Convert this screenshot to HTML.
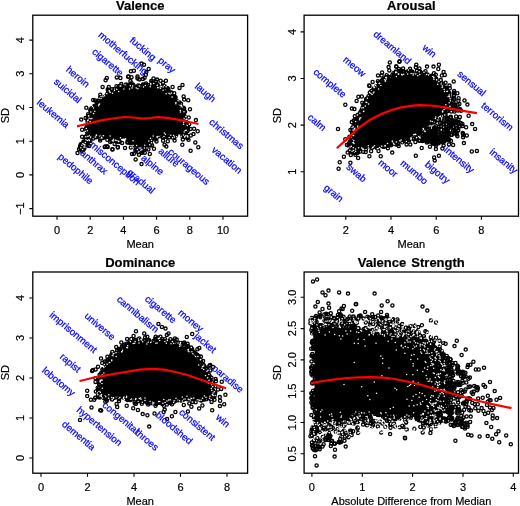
<!DOCTYPE html><html><head><meta charset="utf-8"><style>html,body{margin:0;padding:0;background:#fff;width:520px;height:506px;overflow:hidden;position:relative}</style></head><body><svg width="520" height="506" viewBox="0 0 520 506" style="position:absolute;left:0;top:0">
<rect width="520" height="506" fill="#fff"/>
<path d="M82.1 146.9 L85 146.5 L87 139.9 L88.1 133.1 L88.5 126.6 L89.6 120.1 L91.6 112.8 L94.2 108.8 L97.9 103.5 L102.3 99.2 L106.5 95.4 L110.4 92.9 L115.9 90.8 L121.5 88.5 L126.6 87.3 L130.6 87.4 L137.2 88 L144.1 86.6 L149.2 85.1 L153.6 85.6 L159.3 87.3 L163.8 87.9 L168.2 93.2 L173.1 99.3 L177.7 103.9 L180.4 107.5 L181.5 109.3 L183.5 114.4 L184.6 119.5 L185.1 124.9 L185.1 130.6 L185.1 135.8 L185.9 135.9 L184.7 135.2 L178.7 134.6 L172.8 135.2 L166.9 134.6 L159.5 135.4 L152.4 138.6 L146.9 145 L144 148 L141.2 149.9 L139.2 149.8 L137.6 149 L135 146.3 L130.5 140.7 L124.1 138.5 L117.7 139.5 L113.3 139 L107.7 136.6 L100.1 134.7 L91.6 136.5 L85.3 141.5 L81.4 144.5 Z" fill="#000"/>
<g fill="none" stroke="#000" stroke-width="1.3">
<circle cx="83.4" cy="149.8" r="1.6"/><circle cx="84.3" cy="148.4" r="1.6"/><circle cx="83.2" cy="148.5" r="1.6"/><circle cx="81.7" cy="150.5" r="1.6"/><circle cx="81.9" cy="150.7" r="1.6"/><circle cx="79.1" cy="149.2" r="1.6"/><circle cx="83.5" cy="143" r="1.6"/><circle cx="85" cy="145.4" r="1.6"/><circle cx="83.5" cy="141.6" r="1.6"/><circle cx="85.3" cy="142.5" r="1.6"/><circle cx="87.2" cy="140.4" r="1.6"/><circle cx="86.1" cy="140.9" r="1.6"/><circle cx="81.3" cy="144.1" r="1.6"/><circle cx="85" cy="137.3" r="1.6"/><circle cx="85.7" cy="138.3" r="1.6"/><circle cx="86.9" cy="135.5" r="1.6"/><circle cx="87.9" cy="136.2" r="1.6"/><circle cx="86.9" cy="139.3" r="1.6"/><circle cx="86.7" cy="135.2" r="1.6"/><circle cx="82.1" cy="136.8" r="1.6"/><circle cx="87.7" cy="129.9" r="1.6"/><circle cx="86.5" cy="127.6" r="1.6"/><circle cx="86.7" cy="131.2" r="1.6"/><circle cx="85.7" cy="129.3" r="1.6"/><circle cx="87.9" cy="128.1" r="1.6"/><circle cx="88.6" cy="126.6" r="1.6"/><circle cx="82.1" cy="129.8" r="1.6"/><circle cx="87.4" cy="125.6" r="1.6"/><circle cx="86.7" cy="126.3" r="1.6"/><circle cx="87.8" cy="121.3" r="1.6"/><circle cx="88.9" cy="120.7" r="1.6"/><circle cx="87.7" cy="121.8" r="1.6"/><circle cx="88" cy="122.6" r="1.6"/><circle cx="81.2" cy="119.6" r="1.6"/><circle cx="88.8" cy="116" r="1.6"/><circle cx="87.8" cy="119.3" r="1.6"/><circle cx="88.1" cy="114.3" r="1.6"/><circle cx="90.9" cy="113.6" r="1.6"/><circle cx="88.6" cy="116.7" r="1.6"/><circle cx="88.5" cy="119.9" r="1.6"/><circle cx="90" cy="119" r="1.6"/><circle cx="87.5" cy="119.3" r="1.6"/><circle cx="85.6" cy="118.1" r="1.6"/><circle cx="90.3" cy="110.2" r="1.6"/><circle cx="90.7" cy="112.4" r="1.6"/><circle cx="90.7" cy="109.4" r="1.6"/><circle cx="91.6" cy="108.2" r="1.6"/><circle cx="91.4" cy="111.6" r="1.6"/><circle cx="86.3" cy="107.8" r="1.6"/><circle cx="97.9" cy="103.4" r="1.6"/><circle cx="94.6" cy="107.7" r="1.6"/><circle cx="94.1" cy="106.9" r="1.6"/><circle cx="96.1" cy="105.3" r="1.6"/><circle cx="93.4" cy="108.3" r="1.6"/><circle cx="94.4" cy="105.9" r="1.6"/><circle cx="93.2" cy="100.1" r="1.6"/><circle cx="98.9" cy="100.2" r="1.6"/><circle cx="101" cy="100.9" r="1.6"/><circle cx="100.3" cy="98" r="1.6"/><circle cx="100.1" cy="98.1" r="1.6"/><circle cx="98.9" cy="101.3" r="1.6"/><circle cx="96.9" cy="102" r="1.6"/><circle cx="95.1" cy="100.5" r="1.6"/><circle cx="103.1" cy="98.4" r="1.6"/><circle cx="104" cy="98.1" r="1.6"/><circle cx="102.2" cy="99.3" r="1.6"/><circle cx="102.1" cy="98.3" r="1.6"/><circle cx="100.6" cy="97.3" r="1.6"/><circle cx="105" cy="96.7" r="1.6"/><circle cx="100.3" cy="94.8" r="1.6"/><circle cx="107.9" cy="94.6" r="1.6"/><circle cx="108.5" cy="90.6" r="1.6"/><circle cx="107.7" cy="93.2" r="1.6"/><circle cx="106.7" cy="95.4" r="1.6"/><circle cx="107.6" cy="94.2" r="1.6"/><circle cx="107.7" cy="89.6" r="1.6"/><circle cx="109.1" cy="90.4" r="1.6"/><circle cx="113.1" cy="91.9" r="1.6"/><circle cx="113.3" cy="92.2" r="1.6"/><circle cx="112.1" cy="89.2" r="1.6"/><circle cx="114.4" cy="89.3" r="1.6"/><circle cx="111.3" cy="91.8" r="1.6"/><circle cx="108.8" cy="86.9" r="1.6"/><circle cx="118.2" cy="87.5" r="1.6"/><circle cx="117.8" cy="89.8" r="1.6"/><circle cx="119.6" cy="86.1" r="1.6"/><circle cx="120" cy="86.6" r="1.6"/><circle cx="119.9" cy="86.9" r="1.6"/><circle cx="116.8" cy="89" r="1.6"/><circle cx="116.5" cy="86.2" r="1.6"/><circle cx="121.3" cy="88.1" r="1.6"/><circle cx="122.3" cy="86.4" r="1.6"/><circle cx="126.6" cy="86.2" r="1.6"/><circle cx="126" cy="84.4" r="1.6"/><circle cx="126.7" cy="86.5" r="1.6"/><circle cx="122.4" cy="88" r="1.6"/><circle cx="121.3" cy="84.1" r="1.6"/><circle cx="129" cy="84.7" r="1.6"/><circle cx="130" cy="86.2" r="1.6"/><circle cx="129.2" cy="85.1" r="1.6"/><circle cx="126.5" cy="85.5" r="1.6"/><circle cx="130.4" cy="81.1" r="1.6"/><circle cx="135.2" cy="86.7" r="1.6"/><circle cx="131.7" cy="85.2" r="1.6"/><circle cx="132.7" cy="85.3" r="1.6"/><circle cx="136.5" cy="87.1" r="1.6"/><circle cx="133.2" cy="84.8" r="1.6"/><circle cx="134.9" cy="87.7" r="1.6"/><circle cx="131.6" cy="83.2" r="1.6"/><circle cx="142.9" cy="84.5" r="1.6"/><circle cx="138.2" cy="85.4" r="1.6"/><circle cx="143.5" cy="84.9" r="1.6"/><circle cx="139.6" cy="86.1" r="1.6"/><circle cx="138.7" cy="88.2" r="1.6"/><circle cx="143.4" cy="85" r="1.6"/><circle cx="139.4" cy="79.4" r="1.6"/><circle cx="146" cy="83.4" r="1.6"/><circle cx="148.9" cy="85" r="1.6"/><circle cx="145.6" cy="85.7" r="1.6"/><circle cx="145.2" cy="84.7" r="1.6"/><circle cx="145.5" cy="85.2" r="1.6"/><circle cx="142.9" cy="79.1" r="1.6"/><circle cx="150.5" cy="84.2" r="1.6"/><circle cx="151.9" cy="82.8" r="1.6"/><circle cx="151" cy="82.6" r="1.6"/><circle cx="151.3" cy="84" r="1.6"/><circle cx="151.2" cy="85.8" r="1.6"/><circle cx="151.3" cy="81" r="1.6"/><circle cx="153.9" cy="83.3" r="1.6"/><circle cx="154.6" cy="84.7" r="1.6"/><circle cx="157.9" cy="85.3" r="1.6"/><circle cx="155.5" cy="84.8" r="1.6"/><circle cx="157.1" cy="84.3" r="1.6"/><circle cx="154.3" cy="84.3" r="1.6"/><circle cx="155.9" cy="81.6" r="1.6"/><circle cx="164" cy="86.8" r="1.6"/><circle cx="163" cy="85.8" r="1.6"/><circle cx="164.7" cy="87.2" r="1.6"/><circle cx="163.1" cy="86.7" r="1.6"/><circle cx="162.7" cy="85.9" r="1.6"/><circle cx="163" cy="82.7" r="1.6"/><circle cx="167.5" cy="88.2" r="1.6"/><circle cx="168.5" cy="89.7" r="1.6"/><circle cx="168.3" cy="92.6" r="1.6"/><circle cx="167.9" cy="88.7" r="1.6"/><circle cx="167.4" cy="92.3" r="1.6"/><circle cx="164.2" cy="87.1" r="1.6"/><circle cx="163.4" cy="87.3" r="1.6"/><circle cx="164.6" cy="86.3" r="1.6"/><circle cx="172.6" cy="87" r="1.6"/><circle cx="170.4" cy="92.7" r="1.6"/><circle cx="171.3" cy="97.1" r="1.6"/><circle cx="174.6" cy="96.6" r="1.6"/><circle cx="171.4" cy="92.6" r="1.6"/><circle cx="171" cy="94.7" r="1.6"/><circle cx="174.8" cy="97.5" r="1.6"/><circle cx="169.7" cy="93.4" r="1.6"/><circle cx="174.2" cy="93.3" r="1.6"/><circle cx="174.6" cy="99.9" r="1.6"/><circle cx="176.3" cy="103.1" r="1.6"/><circle cx="176.6" cy="101.3" r="1.6"/><circle cx="173.8" cy="99" r="1.6"/><circle cx="177.1" cy="101.4" r="1.6"/><circle cx="175.6" cy="97.6" r="1.6"/><circle cx="183.6" cy="96.5" r="1.6"/><circle cx="178.2" cy="103.8" r="1.6"/><circle cx="179.5" cy="102.5" r="1.6"/><circle cx="178.3" cy="104.8" r="1.6"/><circle cx="181" cy="103.8" r="1.6"/><circle cx="180.3" cy="106.7" r="1.6"/><circle cx="184.2" cy="99.6" r="1.6"/><circle cx="182.7" cy="107.6" r="1.6"/><circle cx="180.2" cy="107.7" r="1.6"/><circle cx="183.9" cy="112.6" r="1.6"/><circle cx="184.1" cy="108.4" r="1.6"/><circle cx="185" cy="111.8" r="1.6"/><circle cx="183.9" cy="108.6" r="1.6"/><circle cx="183.8" cy="108.5" r="1.6"/><circle cx="183" cy="111.4" r="1.6"/><circle cx="190" cy="109.2" r="1.6"/><circle cx="183.7" cy="115.6" r="1.6"/><circle cx="184.4" cy="117" r="1.6"/><circle cx="183.6" cy="114.6" r="1.6"/><circle cx="183.7" cy="114.3" r="1.6"/><circle cx="184.4" cy="115.7" r="1.6"/><circle cx="188.7" cy="117.5" r="1.6"/><circle cx="185" cy="122.2" r="1.6"/><circle cx="184.3" cy="121.4" r="1.6"/><circle cx="184.2" cy="120.8" r="1.6"/><circle cx="186.4" cy="123.4" r="1.6"/><circle cx="185.8" cy="120.3" r="1.6"/><circle cx="189.2" cy="124.3" r="1.6"/><circle cx="186.1" cy="129.5" r="1.6"/><circle cx="187.5" cy="127.6" r="1.6"/><circle cx="186.4" cy="127" r="1.6"/><circle cx="188" cy="128.7" r="1.6"/><circle cx="187.5" cy="126.7" r="1.6"/><circle cx="190.6" cy="128.9" r="1.6"/><circle cx="185.8" cy="132.9" r="1.6"/><circle cx="185.1" cy="130.9" r="1.6"/><circle cx="187.2" cy="131" r="1.6"/><circle cx="185.2" cy="132.1" r="1.6"/><circle cx="187.5" cy="131.1" r="1.6"/><circle cx="190.8" cy="135.5" r="1.6"/><circle cx="185.4" cy="136.1" r="1.6"/><circle cx="186.1" cy="136.3" r="1.6"/><circle cx="186.2" cy="136" r="1.6"/><circle cx="187.4" cy="137.9" r="1.6"/><circle cx="184.5" cy="136.6" r="1.6"/><circle cx="187.4" cy="137.9" r="1.6"/><circle cx="187" cy="135.8" r="1.6"/><circle cx="188.5" cy="139.7" r="1.6"/><circle cx="182.1" cy="136.2" r="1.6"/><circle cx="183.7" cy="136.4" r="1.6"/><circle cx="184.9" cy="135.6" r="1.6"/><circle cx="184.4" cy="136.1" r="1.6"/><circle cx="184.8" cy="134.8" r="1.6"/><circle cx="182.8" cy="139.4" r="1.6"/><circle cx="175" cy="136.3" r="1.6"/><circle cx="174" cy="136.9" r="1.6"/><circle cx="174.3" cy="137.6" r="1.6"/><circle cx="176.1" cy="135.5" r="1.6"/><circle cx="172.5" cy="135.2" r="1.6"/><circle cx="174.6" cy="140.6" r="1.6"/><circle cx="172.7" cy="137.6" r="1.6"/><circle cx="167.8" cy="136.4" r="1.6"/><circle cx="168.6" cy="137.1" r="1.6"/><circle cx="172.2" cy="136.5" r="1.6"/><circle cx="170" cy="137.3" r="1.6"/><circle cx="167.8" cy="141.3" r="1.6"/><circle cx="163" cy="137.6" r="1.6"/><circle cx="162.3" cy="137" r="1.6"/><circle cx="165" cy="134.4" r="1.6"/><circle cx="165.7" cy="135.5" r="1.6"/><circle cx="166.1" cy="137.1" r="1.6"/><circle cx="163.1" cy="136.7" r="1.6"/><circle cx="163.1" cy="140.7" r="1.6"/><circle cx="155.9" cy="136.4" r="1.6"/><circle cx="155.2" cy="139.6" r="1.6"/><circle cx="156.6" cy="138.1" r="1.6"/><circle cx="155" cy="137" r="1.6"/><circle cx="154.8" cy="137.8" r="1.6"/><circle cx="158.6" cy="136.2" r="1.6"/><circle cx="156.5" cy="141.4" r="1.6"/><circle cx="150.3" cy="145.5" r="1.6"/><circle cx="149.9" cy="142.7" r="1.6"/><circle cx="150.8" cy="143.3" r="1.6"/><circle cx="149.2" cy="144.8" r="1.6"/><circle cx="148.4" cy="142.9" r="1.6"/><circle cx="151.3" cy="140.4" r="1.6"/><circle cx="148.5" cy="144" r="1.6"/><circle cx="152" cy="145.2" r="1.6"/><circle cx="147.2" cy="145.4" r="1.6"/><circle cx="146.1" cy="148.5" r="1.6"/><circle cx="145.1" cy="147.6" r="1.6"/><circle cx="146.1" cy="147.4" r="1.6"/><circle cx="148.4" cy="149.4" r="1.6"/><circle cx="140.7" cy="150.3" r="1.6"/><circle cx="141.7" cy="152.7" r="1.6"/><circle cx="144.9" cy="148.7" r="1.6"/><circle cx="142.5" cy="152.3" r="1.6"/><circle cx="144.8" cy="152.7" r="1.6"/><circle cx="141.4" cy="152.6" r="1.6"/><circle cx="141.4" cy="151.3" r="1.6"/><circle cx="141.7" cy="151.1" r="1.6"/><circle cx="138.4" cy="149.7" r="1.6"/><circle cx="139" cy="154.8" r="1.6"/><circle cx="136.5" cy="150.6" r="1.6"/><circle cx="138.1" cy="152.2" r="1.6"/><circle cx="138.7" cy="149.1" r="1.6"/><circle cx="137.2" cy="150.3" r="1.6"/><circle cx="136.2" cy="148.3" r="1.6"/><circle cx="137.1" cy="149.5" r="1.6"/><circle cx="135.3" cy="150.1" r="1.6"/><circle cx="133.8" cy="153.7" r="1.6"/><circle cx="132" cy="142.3" r="1.6"/><circle cx="130.1" cy="143.1" r="1.6"/><circle cx="131.3" cy="142.4" r="1.6"/><circle cx="133" cy="145.2" r="1.6"/><circle cx="130.1" cy="142.5" r="1.6"/><circle cx="133" cy="145.3" r="1.6"/><circle cx="130.8" cy="147.6" r="1.6"/><circle cx="128.2" cy="142.3" r="1.6"/><circle cx="127.3" cy="142.4" r="1.6"/><circle cx="128.2" cy="140.2" r="1.6"/><circle cx="127.2" cy="139.6" r="1.6"/><circle cx="125" cy="147.9" r="1.6"/><circle cx="118.2" cy="141.7" r="1.6"/><circle cx="119.8" cy="141.8" r="1.6"/><circle cx="117.7" cy="140.9" r="1.6"/><circle cx="118.8" cy="139" r="1.6"/><circle cx="118.9" cy="140.4" r="1.6"/><circle cx="118.9" cy="141" r="1.6"/><circle cx="122.1" cy="142.9" r="1.6"/><circle cx="113.2" cy="138.9" r="1.6"/><circle cx="115.6" cy="139.9" r="1.6"/><circle cx="116.4" cy="141.4" r="1.6"/><circle cx="112.8" cy="139.3" r="1.6"/><circle cx="114.6" cy="139.7" r="1.6"/><circle cx="114.6" cy="143.9" r="1.6"/><circle cx="112.8" cy="138.8" r="1.6"/><circle cx="111.6" cy="141.1" r="1.6"/><circle cx="110.8" cy="138.2" r="1.6"/><circle cx="107.3" cy="139.7" r="1.6"/><circle cx="111.2" cy="138" r="1.6"/><circle cx="112.8" cy="138.5" r="1.6"/><circle cx="110.2" cy="142.1" r="1.6"/><circle cx="105.8" cy="136.5" r="1.6"/><circle cx="103.1" cy="138.1" r="1.6"/><circle cx="102.4" cy="136.2" r="1.6"/><circle cx="104.4" cy="137.1" r="1.6"/><circle cx="104.8" cy="136.5" r="1.6"/><circle cx="106.9" cy="136.9" r="1.6"/><circle cx="100.2" cy="138.9" r="1.6"/><circle cx="96.2" cy="137.2" r="1.6"/><circle cx="93.5" cy="136.3" r="1.6"/><circle cx="97.5" cy="135.5" r="1.6"/><circle cx="96.7" cy="136.4" r="1.6"/><circle cx="93.3" cy="138.6" r="1.6"/><circle cx="93.3" cy="135.6" r="1.6"/><circle cx="100.2" cy="140.6" r="1.6"/><circle cx="86.6" cy="141.9" r="1.6"/><circle cx="87.3" cy="139.3" r="1.6"/><circle cx="90.4" cy="140.9" r="1.6"/><circle cx="87.8" cy="142.7" r="1.6"/><circle cx="85.7" cy="141.7" r="1.6"/><circle cx="90.3" cy="137.5" r="1.6"/><circle cx="89.1" cy="140.8" r="1.6"/><circle cx="89.3" cy="145.9" r="1.6"/><circle cx="83.8" cy="145.4" r="1.6"/><circle cx="84.2" cy="144.2" r="1.6"/><circle cx="86.5" cy="143.4" r="1.6"/><circle cx="86" cy="144.4" r="1.6"/><circle cx="82.8" cy="144.1" r="1.6"/><circle cx="87.5" cy="145.4" r="1.6"/><circle cx="80" cy="147.1" r="1.6"/><circle cx="81.4" cy="144.2" r="1.6"/><circle cx="80.3" cy="146.5" r="1.6"/><circle cx="80.5" cy="145.1" r="1.6"/><circle cx="80.8" cy="149" r="1.6"/><circle cx="102.6" cy="86.9" r="1.6"/><circle cx="105.6" cy="80.3" r="1.6"/><circle cx="106.8" cy="78" r="1.6"/><circle cx="116.8" cy="77.4" r="1.6"/><circle cx="120.4" cy="78" r="1.6"/><circle cx="128.1" cy="76.8" r="1.6"/><circle cx="128.6" cy="76.6" r="1.6"/><circle cx="131.5" cy="77.2" r="1.6"/><circle cx="133.9" cy="70.7" r="1.6"/><circle cx="130.9" cy="71.3" r="1.6"/><circle cx="137.5" cy="76.6" r="1.6"/><circle cx="137.5" cy="78.4" r="1.6"/><circle cx="141.6" cy="63.6" r="1.6"/><circle cx="144" cy="64.7" r="1.6"/><circle cx="148.7" cy="68.9" r="1.6"/><circle cx="146.3" cy="71.9" r="1.6"/><circle cx="145.8" cy="74.8" r="1.6"/><circle cx="144.6" cy="77.8" r="1.6"/><circle cx="179.5" cy="87.9" r="1.6"/><circle cx="182.5" cy="84.9" r="1.6"/><circle cx="153.5" cy="78.4" r="1.6"/><circle cx="157" cy="79.6" r="1.6"/><circle cx="160.6" cy="80.8" r="1.6"/><circle cx="165.9" cy="80.8" r="1.6"/><circle cx="188.2" cy="100.3" r="1.6"/><circle cx="195.9" cy="120.1" r="1.6"/><circle cx="194.1" cy="128.8" r="1.6"/><circle cx="197.7" cy="131.2" r="1.6"/><circle cx="193.5" cy="134.1" r="1.6"/><circle cx="190.6" cy="150.7" r="1.6"/><circle cx="195.3" cy="142.4" r="1.6"/><circle cx="198.3" cy="147.2" r="1.6"/><circle cx="182.3" cy="144.8" r="1.6"/><circle cx="164.5" cy="144.8" r="1.6"/><circle cx="166.3" cy="146.6" r="1.6"/><circle cx="112.5" cy="149.3" r="1.6"/><circle cx="117.8" cy="147.5" r="1.6"/><circle cx="135.6" cy="159.4" r="1.6"/><circle cx="141.5" cy="164.1" r="1.6"/><circle cx="132" cy="154" r="1.6"/><circle cx="149.8" cy="154" r="1.6"/><circle cx="154" cy="148.7" r="1.6"/><circle cx="104.7" cy="146.9" r="1.6"/><circle cx="107.1" cy="146.3" r="1.6"/><circle cx="77.5" cy="153" r="1.6"/><circle cx="112.4" cy="149.4" r="1.6"/><circle cx="105.3" cy="146.4" r="1.6"/><circle cx="107.7" cy="147" r="1.6"/><circle cx="117.8" cy="147" r="1.6"/>
</g>
<g fill="#fff">
<circle cx="82.7" cy="149.6" r="0.75"/><circle cx="85" cy="147" r="0.75"/><circle cx="84" cy="147" r="0.75"/><circle cx="83.8" cy="144.3" r="0.75"/><circle cx="87.3" cy="140.6" r="0.75"/><circle cx="82.9" cy="143.5" r="0.75"/><circle cx="87.9" cy="136.6" r="0.75"/><circle cx="85.8" cy="136.7" r="0.75"/><circle cx="89.3" cy="135.7" r="0.75"/><circle cx="85.3" cy="131.3" r="0.75"/><circle cx="87.3" cy="130.7" r="0.75"/><circle cx="86.4" cy="128.4" r="0.75"/><circle cx="90.1" cy="121.4" r="0.75"/><circle cx="87.1" cy="123" r="0.75"/><circle cx="88.1" cy="119.9" r="0.75"/><circle cx="87.6" cy="120.8" r="0.75"/><circle cx="90.8" cy="118.8" r="0.75"/><circle cx="91.9" cy="118.5" r="0.75"/><circle cx="88.7" cy="115.8" r="0.75"/><circle cx="89.1" cy="118.3" r="0.75"/><circle cx="94.8" cy="111.2" r="0.75"/><circle cx="90.9" cy="112.1" r="0.75"/><circle cx="93.6" cy="113.4" r="0.75"/><circle cx="92.5" cy="106.5" r="0.75"/><circle cx="93.5" cy="108" r="0.75"/><circle cx="98.9" cy="104.5" r="0.75"/><circle cx="98.7" cy="105.8" r="0.75"/><circle cx="101.1" cy="98.5" r="0.75"/><circle cx="99.7" cy="104.1" r="0.75"/><circle cx="99.1" cy="98.3" r="0.75"/><circle cx="104.5" cy="95.7" r="0.75"/><circle cx="103" cy="96.7" r="0.75"/><circle cx="101" cy="96.4" r="0.75"/><circle cx="106.8" cy="93.7" r="0.75"/><circle cx="109.2" cy="90.8" r="0.75"/><circle cx="109.5" cy="91.2" r="0.75"/><circle cx="112.5" cy="93.3" r="0.75"/><circle cx="114.5" cy="90.4" r="0.75"/><circle cx="110.1" cy="92.4" r="0.75"/><circle cx="118.7" cy="91.4" r="0.75"/><circle cx="116.6" cy="89.3" r="0.75"/><circle cx="120.1" cy="86" r="0.75"/><circle cx="123.9" cy="89.1" r="0.75"/><circle cx="125.1" cy="84.8" r="0.75"/><circle cx="120.8" cy="86" r="0.75"/><circle cx="130.4" cy="85.7" r="0.75"/><circle cx="129.5" cy="88.9" r="0.75"/><circle cx="132.7" cy="86" r="0.75"/><circle cx="136.3" cy="88" r="0.75"/><circle cx="132" cy="88.1" r="0.75"/><circle cx="139.4" cy="85.9" r="0.75"/><circle cx="137.9" cy="88.7" r="0.75"/><circle cx="143.5" cy="86.9" r="0.75"/><circle cx="148.8" cy="82.3" r="0.75"/><circle cx="145.4" cy="85.6" r="0.75"/><circle cx="150.2" cy="86.7" r="0.75"/><circle cx="150.7" cy="83.6" r="0.75"/><circle cx="150.8" cy="84.8" r="0.75"/><circle cx="153.7" cy="83.5" r="0.75"/><circle cx="157.8" cy="87.5" r="0.75"/><circle cx="157.9" cy="87.7" r="0.75"/><circle cx="157.2" cy="85.2" r="0.75"/><circle cx="161.5" cy="86.5" r="0.75"/><circle cx="164.3" cy="85.5" r="0.75"/><circle cx="160.4" cy="88.2" r="0.75"/><circle cx="166.1" cy="86.8" r="0.75"/><circle cx="163.1" cy="87.1" r="0.75"/><circle cx="163.1" cy="90.3" r="0.75"/><circle cx="166.2" cy="93.8" r="0.75"/><circle cx="171.4" cy="93.1" r="0.75"/><circle cx="169" cy="93.3" r="0.75"/><circle cx="172.2" cy="96.9" r="0.75"/><circle cx="170" cy="93.9" r="0.75"/><circle cx="175.9" cy="102.6" r="0.75"/><circle cx="175.9" cy="103.8" r="0.75"/><circle cx="178.1" cy="100.8" r="0.75"/><circle cx="181.3" cy="106.1" r="0.75"/><circle cx="180.1" cy="105.3" r="0.75"/><circle cx="181.4" cy="105.4" r="0.75"/><circle cx="182.1" cy="107" r="0.75"/><circle cx="180.4" cy="110.5" r="0.75"/><circle cx="184" cy="111.8" r="0.75"/><circle cx="180.4" cy="112.1" r="0.75"/><circle cx="185.8" cy="116.5" r="0.75"/><circle cx="184.1" cy="118.7" r="0.75"/><circle cx="187" cy="119.2" r="0.75"/><circle cx="183.7" cy="122.2" r="0.75"/><circle cx="183.5" cy="124.3" r="0.75"/><circle cx="186.1" cy="119.4" r="0.75"/><circle cx="187.2" cy="125.4" r="0.75"/><circle cx="185.2" cy="130.4" r="0.75"/><circle cx="186.2" cy="130.2" r="0.75"/><circle cx="185.9" cy="135.5" r="0.75"/><circle cx="184.2" cy="132.1" r="0.75"/><circle cx="187.6" cy="136" r="0.75"/><circle cx="184.7" cy="136.9" r="0.75"/><circle cx="187.4" cy="136.2" r="0.75"/><circle cx="187.8" cy="137" r="0.75"/><circle cx="183.5" cy="135.1" r="0.75"/><circle cx="181" cy="136.8" r="0.75"/><circle cx="184.8" cy="136.6" r="0.75"/><circle cx="174.5" cy="137.1" r="0.75"/><circle cx="176.7" cy="136.8" r="0.75"/><circle cx="173.6" cy="135.4" r="0.75"/><circle cx="172.6" cy="137.7" r="0.75"/><circle cx="170.8" cy="135.2" r="0.75"/><circle cx="169.2" cy="137.4" r="0.75"/><circle cx="165.4" cy="134.3" r="0.75"/><circle cx="164" cy="136.5" r="0.75"/><circle cx="164.4" cy="133.1" r="0.75"/><circle cx="157.2" cy="136.5" r="0.75"/><circle cx="157.2" cy="137.3" r="0.75"/><circle cx="153.1" cy="136" r="0.75"/><circle cx="151.5" cy="142.7" r="0.75"/><circle cx="149.7" cy="144.8" r="0.75"/><circle cx="150.5" cy="138.3" r="0.75"/><circle cx="148.8" cy="141" r="0.75"/><circle cx="144.7" cy="145.3" r="0.75"/><circle cx="147" cy="148" r="0.75"/><circle cx="144.4" cy="148" r="0.75"/><circle cx="140.8" cy="148.1" r="0.75"/><circle cx="141.9" cy="149.6" r="0.75"/><circle cx="140.8" cy="150.2" r="0.75"/><circle cx="138.9" cy="151.4" r="0.75"/><circle cx="139.2" cy="147.9" r="0.75"/><circle cx="137.4" cy="149.5" r="0.75"/><circle cx="136.7" cy="145.5" r="0.75"/><circle cx="132.5" cy="147" r="0.75"/><circle cx="133.1" cy="140.7" r="0.75"/><circle cx="131.1" cy="145.8" r="0.75"/><circle cx="125.1" cy="139.8" r="0.75"/><circle cx="125.6" cy="138.8" r="0.75"/><circle cx="118.5" cy="141.5" r="0.75"/><circle cx="118.7" cy="141.2" r="0.75"/><circle cx="120.5" cy="137.7" r="0.75"/><circle cx="113.4" cy="141.1" r="0.75"/><circle cx="116.9" cy="140.4" r="0.75"/><circle cx="115.3" cy="140.3" r="0.75"/><circle cx="112.4" cy="140.5" r="0.75"/><circle cx="110.1" cy="136" r="0.75"/><circle cx="113.5" cy="139.2" r="0.75"/><circle cx="101.9" cy="138" r="0.75"/><circle cx="101.5" cy="137.4" r="0.75"/><circle cx="103.5" cy="135.7" r="0.75"/><circle cx="95.3" cy="137.1" r="0.75"/><circle cx="96.4" cy="135.5" r="0.75"/><circle cx="96.3" cy="135.1" r="0.75"/><circle cx="88.9" cy="139.7" r="0.75"/><circle cx="90.7" cy="137.1" r="0.75"/><circle cx="89.3" cy="140.6" r="0.75"/><circle cx="86" cy="139.7" r="0.75"/><circle cx="84.6" cy="144.7" r="0.75"/><circle cx="84.8" cy="145" r="0.75"/><circle cx="85.3" cy="142.6" r="0.75"/><circle cx="81.9" cy="145.2" r="0.75"/><circle cx="80.8" cy="147.7" r="0.75"/>
</g>
<polyline points="77,126.4 88,123.5 100,120.6 112,118.5 125,117 133,117.5 142.5,118.6 150,118 157.5,117.1 165,117.6 175,119.2 187,121.5 198.5,124" fill="none" stroke="#f00" stroke-width="2.2" stroke-linejoin="round"/>
<g font-family='"Liberation Sans", Arial, sans-serif' font-size="9.7" fill="#00f" stroke="#00f" stroke-width="0.25" text-anchor="middle">
<text transform="translate(123,53.4) rotate(40)" dy="0.3em">motherfucking</text>
<text transform="translate(142.7,49) rotate(40)" dy="0.3em">fucking</text>
<text transform="translate(166.7,65.4) rotate(40)" dy="0.3em">pray</text>
<text transform="translate(107.6,62.5) rotate(40)" dy="0.3em">cigarette</text>
<text transform="translate(77.6,77) rotate(40)" dy="0.3em">heroin</text>
<text transform="translate(67.5,91) rotate(40)" dy="0.3em">suicidal</text>
<text transform="translate(53,113.8) rotate(40)" dy="0.3em">leukemia</text>
<text transform="translate(205.3,92.8) rotate(40)" dy="0.3em">laugh</text>
<text transform="translate(226.2,134.1) rotate(40)" dy="0.3em">christmas</text>
<text transform="translate(226.8,160.3) rotate(40)" dy="0.3em">vacation</text>
<text transform="translate(188.8,166.9) rotate(40)" dy="0.3em">courageous</text>
<text transform="translate(168.8,157.7) rotate(40)" dy="0.3em">allure</text>
<text transform="translate(152.3,165) rotate(40)" dy="0.3em">alpine</text>
<text transform="translate(141,181.4) rotate(40)" dy="0.3em">gradual</text>
<text transform="translate(114.8,163.5) rotate(40)" dy="0.3em">misconception</text>
<text transform="translate(93.8,162.2) rotate(40)" dy="0.3em">anthrax</text>
<text transform="translate(75.5,169) rotate(40)" dy="0.3em">pedophile</text>
</g>
<rect x="32.8" y="15.2" width="214.8" height="201.0" fill="none" stroke="#000" stroke-width="1.3"/>
<path d="M57 216.2v3.5 M90.2 216.2v3.5 M123.4 216.2v3.5 M156.6 216.2v3.5 M189.8 216.2v3.5 M223 216.2v3.5 M32.8 208.6h-3.5 M32.8 174.9h-3.5 M32.8 141.2h-3.5 M32.8 107.5h-3.5 M32.8 73.8h-3.5 M32.8 40.1h-3.5" stroke="#000" stroke-width="1.1" fill="none"/>
<g font-family='"Liberation Sans", Arial, sans-serif' font-size="11" fill="#000" stroke="#000" stroke-width="0.2" text-anchor="middle">
<text x="57" y="234.2">0</text>
<text x="90.2" y="234.2">2</text>
<text x="123.4" y="234.2">4</text>
<text x="156.6" y="234.2">6</text>
<text x="189.8" y="234.2">8</text>
<text x="223" y="234.2">10</text>
<text transform="translate(24.299999999999997,208.6) rotate(-90)">&#8722;1</text>
<text transform="translate(24.299999999999997,174.9) rotate(-90)">0</text>
<text transform="translate(24.299999999999997,141.2) rotate(-90)">1</text>
<text transform="translate(24.299999999999997,107.5) rotate(-90)">2</text>
<text transform="translate(24.299999999999997,73.8) rotate(-90)">3</text>
<text transform="translate(24.299999999999997,40.1) rotate(-90)">4</text>
<text transform="translate(9.199999999999996,115.69999999999999) rotate(-90)">SD</text>
<text x="140.2" y="248.0">Mean</text>
<text x="140.2" y="9.7" font-weight="bold" font-size="13" word-spacing="1.5">Valence</text>
</g>
<path d="M350.9 147.4 L351.1 145.6 L353.2 141.4 L354.6 134.5 L355.2 128.9 L356.8 123.7 L359 118.1 L361.2 113.6 L363.1 110.5 L365 107.7 L368 100.3 L371.8 93.9 L375.9 88.7 L382.5 83.3 L387 80 L392.7 76.6 L397.3 73.5 L401.4 73.3 L406.9 72.7 L412.2 73.3 L417.9 73.8 L422.8 74.8 L428.7 77.7 L432.7 78.6 L436.5 82 L441 86 L444.3 89.3 L446.6 92 L447.6 95.9 L448 102.6 L446.9 107.9 L443.9 112.3 L438.5 116.8 L432.5 121.8 L426.5 126.8 L420.4 131.9 L416.2 135.9 L411.2 136.7 L405.3 139.1 L399.3 140.3 L393.5 142.7 L387.4 143.7 L381.3 144.9 L376.5 146 L370.1 144.8 L362.6 147.6 L357 149.9 L354.6 150.7 L352.7 149.7 Z" fill="#000"/>
<g fill="none" stroke="#000" stroke-width="1.3">
<circle cx="351.4" cy="146.2" r="1.6"/><circle cx="348.9" cy="145.8" r="1.6"/><circle cx="351.5" cy="146.7" r="1.6"/><circle cx="350.3" cy="146.7" r="1.6"/><circle cx="346.9" cy="144.9" r="1.6"/><circle cx="350" cy="141.2" r="1.6"/><circle cx="350.3" cy="142" r="1.6"/><circle cx="348.6" cy="144.3" r="1.6"/><circle cx="349.3" cy="142.9" r="1.6"/><circle cx="352.8" cy="142.2" r="1.6"/><circle cx="345.3" cy="139.3" r="1.6"/><circle cx="352.7" cy="140.3" r="1.6"/><circle cx="354.2" cy="136.2" r="1.6"/><circle cx="354" cy="135.3" r="1.6"/><circle cx="354.4" cy="135.9" r="1.6"/><circle cx="351.3" cy="137.2" r="1.6"/><circle cx="353.2" cy="139.5" r="1.6"/><circle cx="349.5" cy="136.8" r="1.6"/><circle cx="354.5" cy="134.1" r="1.6"/><circle cx="352" cy="133.1" r="1.6"/><circle cx="352.4" cy="130.1" r="1.6"/><circle cx="352.5" cy="133.1" r="1.6"/><circle cx="353.4" cy="133.5" r="1.6"/><circle cx="350.4" cy="130.1" r="1.6"/><circle cx="355.2" cy="123.9" r="1.6"/><circle cx="353.6" cy="125.2" r="1.6"/><circle cx="352.4" cy="127.8" r="1.6"/><circle cx="355.4" cy="125.4" r="1.6"/><circle cx="356.1" cy="124.6" r="1.6"/><circle cx="351.8" cy="122.1" r="1.6"/><circle cx="355.6" cy="121" r="1.6"/><circle cx="357.7" cy="121.2" r="1.6"/><circle cx="358.8" cy="119.6" r="1.6"/><circle cx="358.3" cy="118.9" r="1.6"/><circle cx="355.5" cy="119" r="1.6"/><circle cx="356.4" cy="119.8" r="1.6"/><circle cx="353.7" cy="120.6" r="1.6"/><circle cx="359" cy="118.1" r="1.6"/><circle cx="359.5" cy="114.9" r="1.6"/><circle cx="357.8" cy="114.7" r="1.6"/><circle cx="359" cy="117.5" r="1.6"/><circle cx="360.9" cy="115.3" r="1.6"/><circle cx="354.8" cy="116.2" r="1.6"/><circle cx="360.7" cy="113" r="1.6"/><circle cx="360.3" cy="112.2" r="1.6"/><circle cx="362.2" cy="111.7" r="1.6"/><circle cx="361.4" cy="111.1" r="1.6"/><circle cx="354.4" cy="109.1" r="1.6"/><circle cx="363.4" cy="110" r="1.6"/><circle cx="361.8" cy="109.4" r="1.6"/><circle cx="362.7" cy="107.2" r="1.6"/><circle cx="366" cy="104.2" r="1.6"/><circle cx="363.6" cy="106.6" r="1.6"/><circle cx="366.2" cy="103" r="1.6"/><circle cx="366.1" cy="102.2" r="1.6"/><circle cx="366.1" cy="99.7" r="1.6"/><circle cx="363.5" cy="104.5" r="1.6"/><circle cx="364.1" cy="106.5" r="1.6"/><circle cx="362.3" cy="102.7" r="1.6"/><circle cx="366.2" cy="99.1" r="1.6"/><circle cx="366.7" cy="99.8" r="1.6"/><circle cx="371.7" cy="94.1" r="1.6"/><circle cx="367.3" cy="98.4" r="1.6"/><circle cx="368.5" cy="96.2" r="1.6"/><circle cx="371.1" cy="94.9" r="1.6"/><circle cx="368.7" cy="98.2" r="1.6"/><circle cx="361.8" cy="96.5" r="1.6"/><circle cx="373.6" cy="88.4" r="1.6"/><circle cx="369.8" cy="92.6" r="1.6"/><circle cx="374.2" cy="89.2" r="1.6"/><circle cx="374.2" cy="89.2" r="1.6"/><circle cx="372.8" cy="92.9" r="1.6"/><circle cx="373" cy="93" r="1.6"/><circle cx="371.5" cy="90.9" r="1.6"/><circle cx="369.5" cy="85.9" r="1.6"/><circle cx="380.3" cy="84.6" r="1.6"/><circle cx="378.8" cy="85" r="1.6"/><circle cx="380.3" cy="83.5" r="1.6"/><circle cx="376.4" cy="86.2" r="1.6"/><circle cx="382.2" cy="83.3" r="1.6"/><circle cx="382" cy="84.3" r="1.6"/><circle cx="377.2" cy="87.3" r="1.6"/><circle cx="379" cy="82.6" r="1.6"/><circle cx="377.9" cy="81.2" r="1.6"/><circle cx="386.2" cy="79.7" r="1.6"/><circle cx="381.9" cy="80.4" r="1.6"/><circle cx="384.2" cy="79.6" r="1.6"/><circle cx="383.8" cy="78.7" r="1.6"/><circle cx="383.2" cy="79.8" r="1.6"/><circle cx="381.6" cy="75.4" r="1.6"/><circle cx="388.3" cy="76.8" r="1.6"/><circle cx="389.8" cy="77.6" r="1.6"/><circle cx="387.2" cy="77.9" r="1.6"/><circle cx="385.9" cy="77.5" r="1.6"/><circle cx="387.8" cy="79.9" r="1.6"/><circle cx="386" cy="77.4" r="1.6"/><circle cx="386.6" cy="75.3" r="1.6"/><circle cx="393.1" cy="76.7" r="1.6"/><circle cx="395.6" cy="72.7" r="1.6"/><circle cx="395.4" cy="72.4" r="1.6"/><circle cx="392.3" cy="75" r="1.6"/><circle cx="393.4" cy="73.3" r="1.6"/><circle cx="395.8" cy="71.5" r="1.6"/><circle cx="389.3" cy="70.4" r="1.6"/><circle cx="400.7" cy="70.5" r="1.6"/><circle cx="396.8" cy="73.4" r="1.6"/><circle cx="396.9" cy="74" r="1.6"/><circle cx="400.4" cy="71" r="1.6"/><circle cx="399.3" cy="71.1" r="1.6"/><circle cx="399.1" cy="68.9" r="1.6"/><circle cx="402" cy="73.4" r="1.6"/><circle cx="405.9" cy="72.6" r="1.6"/><circle cx="403.2" cy="72.1" r="1.6"/><circle cx="401.5" cy="72.9" r="1.6"/><circle cx="402.9" cy="71.1" r="1.6"/><circle cx="403.1" cy="68.5" r="1.6"/><circle cx="412.2" cy="72" r="1.6"/><circle cx="411.6" cy="71.5" r="1.6"/><circle cx="406.8" cy="71.8" r="1.6"/><circle cx="409.2" cy="70.7" r="1.6"/><circle cx="408.7" cy="70.9" r="1.6"/><circle cx="410" cy="68.7" r="1.6"/><circle cx="417.2" cy="74" r="1.6"/><circle cx="417" cy="73.7" r="1.6"/><circle cx="412.3" cy="73.1" r="1.6"/><circle cx="417" cy="70.8" r="1.6"/><circle cx="412.4" cy="72.1" r="1.6"/><circle cx="415.8" cy="67.2" r="1.6"/><circle cx="419" cy="72.8" r="1.6"/><circle cx="420.1" cy="71.8" r="1.6"/><circle cx="419.7" cy="71.4" r="1.6"/><circle cx="419.3" cy="73.9" r="1.6"/><circle cx="421.9" cy="73.4" r="1.6"/><circle cx="419.4" cy="68.5" r="1.6"/><circle cx="423.8" cy="72.8" r="1.6"/><circle cx="427.5" cy="74.6" r="1.6"/><circle cx="426.4" cy="75.8" r="1.6"/><circle cx="425.2" cy="75" r="1.6"/><circle cx="427.6" cy="77.4" r="1.6"/><circle cx="427.5" cy="77.6" r="1.6"/><circle cx="425.5" cy="71.2" r="1.6"/><circle cx="433.5" cy="77.6" r="1.6"/><circle cx="431.5" cy="75.7" r="1.6"/><circle cx="430.4" cy="77" r="1.6"/><circle cx="432" cy="76.3" r="1.6"/><circle cx="433.9" cy="73.2" r="1.6"/><circle cx="433.9" cy="78.9" r="1.6"/><circle cx="434.3" cy="76.8" r="1.6"/><circle cx="436.3" cy="79.1" r="1.6"/><circle cx="433.4" cy="77.9" r="1.6"/><circle cx="436.4" cy="80" r="1.6"/><circle cx="435.8" cy="74.8" r="1.6"/><circle cx="440.8" cy="85.4" r="1.6"/><circle cx="437.7" cy="82.4" r="1.6"/><circle cx="441.4" cy="83.1" r="1.6"/><circle cx="437.2" cy="82.6" r="1.6"/><circle cx="438.1" cy="82.6" r="1.6"/><circle cx="439" cy="84.1" r="1.6"/><circle cx="440.8" cy="80.1" r="1.6"/><circle cx="445.8" cy="87.9" r="1.6"/><circle cx="443.3" cy="84.3" r="1.6"/><circle cx="441.9" cy="85.7" r="1.6"/><circle cx="446" cy="87.8" r="1.6"/><circle cx="444.2" cy="87.8" r="1.6"/><circle cx="445.5" cy="82.7" r="1.6"/><circle cx="444.6" cy="89.3" r="1.6"/><circle cx="445" cy="90.7" r="1.6"/><circle cx="447.1" cy="89.1" r="1.6"/><circle cx="447.1" cy="90.8" r="1.6"/><circle cx="449.8" cy="88.3" r="1.6"/><circle cx="448" cy="91.5" r="1.6"/><circle cx="448.9" cy="92.7" r="1.6"/><circle cx="448.5" cy="95.6" r="1.6"/><circle cx="449.1" cy="93.6" r="1.6"/><circle cx="447.2" cy="93.3" r="1.6"/><circle cx="454.2" cy="93" r="1.6"/><circle cx="449.8" cy="101.3" r="1.6"/><circle cx="449.8" cy="101.9" r="1.6"/><circle cx="448.9" cy="100.3" r="1.6"/><circle cx="449.4" cy="97.8" r="1.6"/><circle cx="448.5" cy="96.2" r="1.6"/><circle cx="449.9" cy="101.4" r="1.6"/><circle cx="448.2" cy="100.3" r="1.6"/><circle cx="452.6" cy="98.4" r="1.6"/><circle cx="448.1" cy="106.3" r="1.6"/><circle cx="449.9" cy="107" r="1.6"/><circle cx="449.6" cy="103.6" r="1.6"/><circle cx="447.9" cy="107.3" r="1.6"/><circle cx="450.3" cy="105.9" r="1.6"/><circle cx="449.4" cy="102.6" r="1.6"/><circle cx="454" cy="104.4" r="1.6"/><circle cx="444.9" cy="113.2" r="1.6"/><circle cx="448.2" cy="108.6" r="1.6"/><circle cx="446.9" cy="111.3" r="1.6"/><circle cx="446.8" cy="111" r="1.6"/><circle cx="445.3" cy="112.6" r="1.6"/><circle cx="448.1" cy="111" r="1.6"/><circle cx="451.3" cy="111.6" r="1.6"/><circle cx="443.4" cy="115.5" r="1.6"/><circle cx="445.5" cy="114.8" r="1.6"/><circle cx="442.1" cy="113.4" r="1.6"/><circle cx="443.3" cy="113.9" r="1.6"/><circle cx="444.9" cy="112.7" r="1.6"/><circle cx="443.1" cy="115.5" r="1.6"/><circle cx="442.5" cy="114" r="1.6"/><circle cx="446.9" cy="117.6" r="1.6"/><circle cx="433.7" cy="122.5" r="1.6"/><circle cx="438.6" cy="119.6" r="1.6"/><circle cx="436.3" cy="118.9" r="1.6"/><circle cx="439.1" cy="119.1" r="1.6"/><circle cx="434.7" cy="122.1" r="1.6"/><circle cx="436.6" cy="120.2" r="1.6"/><circle cx="439" cy="120.1" r="1.6"/><circle cx="439.9" cy="122.8" r="1.6"/><circle cx="429.1" cy="127.7" r="1.6"/><circle cx="430" cy="124.5" r="1.6"/><circle cx="429.1" cy="124.5" r="1.6"/><circle cx="428" cy="126.5" r="1.6"/><circle cx="427.7" cy="126.4" r="1.6"/><circle cx="430.5" cy="124" r="1.6"/><circle cx="430" cy="124" r="1.6"/><circle cx="436.3" cy="126.3" r="1.6"/><circle cx="425" cy="128.5" r="1.6"/><circle cx="425.4" cy="129.2" r="1.6"/><circle cx="425" cy="130.3" r="1.6"/><circle cx="423" cy="130.7" r="1.6"/><circle cx="422.5" cy="133.4" r="1.6"/><circle cx="427.7" cy="128.9" r="1.6"/><circle cx="422.5" cy="133" r="1.6"/><circle cx="429.9" cy="132.6" r="1.6"/><circle cx="416.8" cy="134.5" r="1.6"/><circle cx="422.2" cy="134.1" r="1.6"/><circle cx="417.3" cy="135.2" r="1.6"/><circle cx="419.8" cy="132.4" r="1.6"/><circle cx="420.6" cy="134.6" r="1.6"/><circle cx="418.6" cy="133.5" r="1.6"/><circle cx="420.1" cy="140.8" r="1.6"/><circle cx="416.8" cy="138.3" r="1.6"/><circle cx="414.2" cy="138.4" r="1.6"/><circle cx="414" cy="138.9" r="1.6"/><circle cx="413.3" cy="138.8" r="1.6"/><circle cx="416.5" cy="137.6" r="1.6"/><circle cx="415.4" cy="142" r="1.6"/><circle cx="409.2" cy="140.3" r="1.6"/><circle cx="407.7" cy="138.6" r="1.6"/><circle cx="409.5" cy="137.4" r="1.6"/><circle cx="407.8" cy="137.8" r="1.6"/><circle cx="408.1" cy="138" r="1.6"/><circle cx="408.4" cy="139.2" r="1.6"/><circle cx="410.3" cy="144.6" r="1.6"/><circle cx="406.1" cy="141.4" r="1.6"/><circle cx="403.2" cy="141" r="1.6"/><circle cx="402.2" cy="142.2" r="1.6"/><circle cx="403.6" cy="140.4" r="1.6"/><circle cx="399.9" cy="140" r="1.6"/><circle cx="402.2" cy="141.5" r="1.6"/><circle cx="406.6" cy="144.4" r="1.6"/><circle cx="396" cy="144.6" r="1.6"/><circle cx="398.1" cy="144" r="1.6"/><circle cx="396.4" cy="142.8" r="1.6"/><circle cx="393.5" cy="142.3" r="1.6"/><circle cx="395.4" cy="143.7" r="1.6"/><circle cx="397.9" cy="143.6" r="1.6"/><circle cx="398.7" cy="145.9" r="1.6"/><circle cx="390.9" cy="145.3" r="1.6"/><circle cx="392.7" cy="143.8" r="1.6"/><circle cx="391.4" cy="144.5" r="1.6"/><circle cx="388.7" cy="144" r="1.6"/><circle cx="388.7" cy="144.4" r="1.6"/><circle cx="390.8" cy="143.6" r="1.6"/><circle cx="392.2" cy="152.6" r="1.6"/><circle cx="383.8" cy="146.7" r="1.6"/><circle cx="385.5" cy="144.7" r="1.6"/><circle cx="385.8" cy="145.6" r="1.6"/><circle cx="384" cy="146.7" r="1.6"/><circle cx="387.5" cy="145.7" r="1.6"/><circle cx="382.3" cy="146.2" r="1.6"/><circle cx="387.9" cy="148.2" r="1.6"/><circle cx="381.3" cy="145.1" r="1.6"/><circle cx="376.5" cy="147.6" r="1.6"/><circle cx="378.1" cy="147.9" r="1.6"/><circle cx="376.5" cy="147.6" r="1.6"/><circle cx="378.2" cy="147.3" r="1.6"/><circle cx="378.5" cy="151" r="1.6"/><circle cx="373.1" cy="145.5" r="1.6"/><circle cx="373" cy="146.4" r="1.6"/><circle cx="372.7" cy="145" r="1.6"/><circle cx="376.3" cy="145.5" r="1.6"/><circle cx="372.1" cy="147.8" r="1.6"/><circle cx="373.2" cy="146.1" r="1.6"/><circle cx="371.1" cy="151.3" r="1.6"/><circle cx="365.5" cy="146.9" r="1.6"/><circle cx="367.4" cy="146.7" r="1.6"/><circle cx="367.3" cy="146.8" r="1.6"/><circle cx="365.9" cy="149.3" r="1.6"/><circle cx="369.2" cy="146.6" r="1.6"/><circle cx="368.7" cy="145.1" r="1.6"/><circle cx="365.7" cy="152" r="1.6"/><circle cx="357.6" cy="150.8" r="1.6"/><circle cx="362.8" cy="148.4" r="1.6"/><circle cx="360.1" cy="151.6" r="1.6"/><circle cx="357.3" cy="151" r="1.6"/><circle cx="360.1" cy="148.4" r="1.6"/><circle cx="358.9" cy="149.4" r="1.6"/><circle cx="363.2" cy="151.7" r="1.6"/><circle cx="357.7" cy="151.6" r="1.6"/><circle cx="357.5" cy="152.7" r="1.6"/><circle cx="357.5" cy="152.4" r="1.6"/><circle cx="356.6" cy="149.5" r="1.6"/><circle cx="355.4" cy="154.8" r="1.6"/><circle cx="352.9" cy="149.8" r="1.6"/><circle cx="354.7" cy="153" r="1.6"/><circle cx="352" cy="152" r="1.6"/><circle cx="353.1" cy="149.5" r="1.6"/><circle cx="350.8" cy="155.1" r="1.6"/><circle cx="349.8" cy="150.1" r="1.6"/><circle cx="350.3" cy="151" r="1.6"/><circle cx="351.6" cy="147.2" r="1.6"/><circle cx="351.9" cy="151.4" r="1.6"/><circle cx="351.1" cy="146.9" r="1.6"/><circle cx="347.6" cy="152.6" r="1.6"/><circle cx="425.9" cy="136.4" r="1.6"/><circle cx="435.4" cy="132.4" r="1.6"/><circle cx="452.7" cy="120.4" r="1.6"/><circle cx="449.2" cy="134.6" r="1.6"/><circle cx="454.7" cy="122.3" r="1.6"/><circle cx="437.3" cy="137.9" r="1.6"/><circle cx="453.7" cy="104.9" r="1.6"/><circle cx="430.6" cy="135.9" r="1.6"/><circle cx="448.3" cy="139.3" r="1.6"/><circle cx="446.1" cy="132.4" r="1.6"/><circle cx="430" cy="132" r="1.6"/><circle cx="442.8" cy="137" r="1.6"/><circle cx="444.3" cy="130.8" r="1.6"/><circle cx="422.9" cy="140.1" r="1.6"/><circle cx="433.4" cy="134.4" r="1.6"/><circle cx="449.6" cy="119.7" r="1.6"/><circle cx="455.1" cy="107.7" r="1.6"/><circle cx="434.5" cy="143.5" r="1.6"/><circle cx="431.2" cy="138.3" r="1.6"/><circle cx="453.6" cy="108.1" r="1.6"/><circle cx="437.5" cy="139.2" r="1.6"/><circle cx="436.4" cy="128.8" r="1.6"/><circle cx="456.1" cy="116.4" r="1.6"/><circle cx="454.7" cy="109.5" r="1.6"/><circle cx="435.2" cy="130.4" r="1.6"/><circle cx="454.1" cy="91.1" r="1.6"/><circle cx="456.4" cy="128.6" r="1.6"/><circle cx="458.7" cy="123.4" r="1.6"/><circle cx="444.4" cy="141.6" r="1.6"/><circle cx="428.4" cy="141.8" r="1.6"/><circle cx="441.1" cy="129.8" r="1.6"/><circle cx="449.4" cy="139.4" r="1.6"/><circle cx="438.5" cy="128.9" r="1.6"/><circle cx="443.6" cy="121.2" r="1.6"/><circle cx="440.2" cy="139.7" r="1.6"/><circle cx="433.9" cy="141.2" r="1.6"/><circle cx="454" cy="98.8" r="1.6"/><circle cx="431.9" cy="135.4" r="1.6"/><circle cx="441.3" cy="134.4" r="1.6"/><circle cx="453.6" cy="92.9" r="1.6"/><circle cx="423" cy="138.8" r="1.6"/><circle cx="432.3" cy="138.5" r="1.6"/><circle cx="432.1" cy="137.2" r="1.6"/><circle cx="426.8" cy="142.4" r="1.6"/><circle cx="454.9" cy="133.4" r="1.6"/><circle cx="434" cy="128.9" r="1.6"/><circle cx="459.9" cy="117" r="1.6"/><circle cx="427.9" cy="137" r="1.6"/><circle cx="430.4" cy="131.6" r="1.6"/><circle cx="447.2" cy="120.4" r="1.6"/><circle cx="426.4" cy="135.9" r="1.6"/><circle cx="436.2" cy="139" r="1.6"/><circle cx="458.3" cy="130.3" r="1.6"/><circle cx="451.1" cy="134.7" r="1.6"/><circle cx="422.6" cy="141.1" r="1.6"/><circle cx="449.1" cy="133.4" r="1.6"/><circle cx="442.4" cy="142.3" r="1.6"/><circle cx="449.3" cy="126" r="1.6"/><circle cx="438" cy="140.5" r="1.6"/><circle cx="431.7" cy="137.7" r="1.6"/><circle cx="451.9" cy="134.8" r="1.6"/><circle cx="455.1" cy="105.6" r="1.6"/><circle cx="454.7" cy="130" r="1.6"/><circle cx="426.7" cy="134.5" r="1.6"/><circle cx="434.7" cy="134.8" r="1.6"/><circle cx="437.9" cy="142.4" r="1.6"/><circle cx="438.6" cy="142.4" r="1.6"/><circle cx="443.4" cy="141.4" r="1.6"/><circle cx="433.6" cy="137.7" r="1.6"/><circle cx="426.5" cy="138" r="1.6"/><circle cx="423.6" cy="136.5" r="1.6"/><circle cx="437.1" cy="137.9" r="1.6"/><circle cx="433.5" cy="131.1" r="1.6"/><circle cx="442.5" cy="133.3" r="1.6"/><circle cx="458.8" cy="126.3" r="1.6"/><circle cx="455" cy="121.2" r="1.6"/><circle cx="456.5" cy="133.1" r="1.6"/><circle cx="426.6" cy="134.1" r="1.6"/><circle cx="425.6" cy="135.6" r="1.6"/><circle cx="456.5" cy="122.8" r="1.6"/><circle cx="457.4" cy="121.6" r="1.6"/><circle cx="438.6" cy="143.3" r="1.6"/><circle cx="446.1" cy="124.1" r="1.6"/><circle cx="430.9" cy="132.8" r="1.6"/><circle cx="432.7" cy="143.4" r="1.6"/><circle cx="433.4" cy="139.7" r="1.6"/><circle cx="434.2" cy="131.7" r="1.6"/><circle cx="457.6" cy="104.5" r="1.6"/><circle cx="456.1" cy="124.8" r="1.6"/><circle cx="451.1" cy="124.9" r="1.6"/><circle cx="444.2" cy="119.7" r="1.6"/><circle cx="432.1" cy="131.6" r="1.6"/><circle cx="441.4" cy="140.8" r="1.6"/><circle cx="447.1" cy="131.7" r="1.6"/><circle cx="459.4" cy="109.4" r="1.6"/><circle cx="458.6" cy="98.3" r="1.6"/><circle cx="433.6" cy="133.1" r="1.6"/><circle cx="432.7" cy="138.7" r="1.6"/><circle cx="436.4" cy="139.6" r="1.6"/><circle cx="454.3" cy="104.9" r="1.6"/><circle cx="439.7" cy="138.1" r="1.6"/><circle cx="448.3" cy="122.1" r="1.6"/><circle cx="443.8" cy="137.6" r="1.6"/><circle cx="433.4" cy="139.6" r="1.6"/><circle cx="453" cy="127.1" r="1.6"/><circle cx="432.4" cy="137.4" r="1.6"/><circle cx="450.7" cy="116.8" r="1.6"/><circle cx="458.5" cy="108.5" r="1.6"/><circle cx="447" cy="119.1" r="1.6"/><circle cx="445" cy="140" r="1.6"/><circle cx="441.5" cy="122.9" r="1.6"/><circle cx="441.5" cy="133.8" r="1.6"/><circle cx="426.2" cy="134.3" r="1.6"/><circle cx="435.2" cy="134.9" r="1.6"/><circle cx="434.1" cy="133.3" r="1.6"/><circle cx="435.8" cy="143.8" r="1.6"/><circle cx="453.3" cy="130.9" r="1.6"/><circle cx="453" cy="123.2" r="1.6"/><circle cx="434.6" cy="128.3" r="1.6"/><circle cx="443.8" cy="139.9" r="1.6"/><circle cx="457.7" cy="130.8" r="1.6"/><circle cx="438.7" cy="135.3" r="1.6"/><circle cx="439.2" cy="138" r="1.6"/><circle cx="454.1" cy="95" r="1.6"/><circle cx="451.3" cy="120.3" r="1.6"/><circle cx="448.2" cy="128.3" r="1.6"/><circle cx="429.7" cy="136.3" r="1.6"/><circle cx="434.5" cy="133.2" r="1.6"/><circle cx="458.5" cy="119.8" r="1.6"/><circle cx="426.5" cy="139.8" r="1.6"/><circle cx="427.8" cy="135.2" r="1.6"/><circle cx="458.4" cy="100.8" r="1.6"/><circle cx="429.9" cy="138.9" r="1.6"/><circle cx="454.9" cy="105.5" r="1.6"/><circle cx="461.1" cy="110.8" r="1.6"/><circle cx="424" cy="139.8" r="1.6"/><circle cx="433.8" cy="130.4" r="1.6"/><circle cx="439.7" cy="136.6" r="1.6"/><circle cx="428.5" cy="139.9" r="1.6"/><circle cx="433.6" cy="141" r="1.6"/><circle cx="426" cy="140.8" r="1.6"/><circle cx="422.8" cy="137.4" r="1.6"/><circle cx="429.1" cy="137" r="1.6"/><circle cx="443.4" cy="127" r="1.6"/><circle cx="431.3" cy="138" r="1.6"/><circle cx="444.5" cy="132.2" r="1.6"/><circle cx="448.7" cy="133.9" r="1.6"/><circle cx="419.2" cy="140.7" r="1.6"/><circle cx="433" cy="142.7" r="1.6"/><circle cx="451.2" cy="124.2" r="1.6"/><circle cx="431.6" cy="141.9" r="1.6"/><circle cx="429.6" cy="135.2" r="1.6"/><circle cx="435.7" cy="132.2" r="1.6"/><circle cx="454.5" cy="111.6" r="1.6"/><circle cx="447" cy="135.1" r="1.6"/><circle cx="455.3" cy="123.3" r="1.6"/><circle cx="447.3" cy="133.5" r="1.6"/><circle cx="454.3" cy="99.5" r="1.6"/><circle cx="460.2" cy="109.2" r="1.6"/><circle cx="426.9" cy="134.8" r="1.6"/><circle cx="426.3" cy="141" r="1.6"/><circle cx="453.7" cy="103.2" r="1.6"/><circle cx="441.3" cy="126.4" r="1.6"/><circle cx="438.1" cy="130.4" r="1.6"/><circle cx="450.3" cy="130.4" r="1.6"/><circle cx="435.7" cy="130.2" r="1.6"/><circle cx="430.9" cy="131.1" r="1.6"/><circle cx="454.5" cy="132.8" r="1.6"/><circle cx="435.3" cy="142.2" r="1.6"/><circle cx="435.4" cy="142" r="1.6"/><circle cx="427.5" cy="139" r="1.6"/><circle cx="447.7" cy="130.5" r="1.6"/><circle cx="434.4" cy="139.5" r="1.6"/><circle cx="429.9" cy="131.5" r="1.6"/><circle cx="454.5" cy="120.4" r="1.6"/><circle cx="459.4" cy="104" r="1.6"/><circle cx="451.3" cy="126.5" r="1.6"/><circle cx="453.7" cy="95.6" r="1.6"/><circle cx="435.8" cy="140.7" r="1.6"/><circle cx="453.6" cy="108.6" r="1.6"/><circle cx="447.7" cy="138.6" r="1.6"/><circle cx="430.6" cy="135.5" r="1.6"/><circle cx="446.8" cy="137.4" r="1.6"/><circle cx="444.8" cy="134.4" r="1.6"/><circle cx="434.3" cy="127.6" r="1.6"/><circle cx="455" cy="107.2" r="1.6"/><circle cx="428.1" cy="132.7" r="1.6"/><circle cx="446" cy="129" r="1.6"/><circle cx="433" cy="143.3" r="1.6"/><circle cx="438.4" cy="126.7" r="1.6"/><circle cx="450.6" cy="117.6" r="1.6"/><circle cx="450" cy="123.8" r="1.6"/><circle cx="439.3" cy="134.3" r="1.6"/><circle cx="435.3" cy="133.7" r="1.6"/><circle cx="457.9" cy="110.4" r="1.6"/><circle cx="444.1" cy="124.2" r="1.6"/><circle cx="447.8" cy="128.4" r="1.6"/><circle cx="446.8" cy="127.2" r="1.6"/><circle cx="424.8" cy="139" r="1.6"/><circle cx="451" cy="140.9" r="1.6"/><circle cx="463.1" cy="137.2" r="1.6"/><circle cx="460.8" cy="122.9" r="1.6"/><circle cx="466.1" cy="127.3" r="1.6"/><circle cx="440.5" cy="140.2" r="1.6"/><circle cx="459.9" cy="126.5" r="1.6"/><circle cx="462.6" cy="125.9" r="1.6"/><circle cx="463.8" cy="135.3" r="1.6"/><circle cx="463" cy="134.1" r="1.6"/><circle cx="457.4" cy="136.3" r="1.6"/><circle cx="462.4" cy="123.9" r="1.6"/><circle cx="440.2" cy="139.9" r="1.6"/><circle cx="462.7" cy="133" r="1.6"/><circle cx="443.4" cy="137.6" r="1.6"/><circle cx="455.3" cy="130.5" r="1.6"/><circle cx="442.6" cy="139.5" r="1.6"/><circle cx="448.5" cy="140.3" r="1.6"/><circle cx="444.1" cy="136.6" r="1.6"/><circle cx="443.2" cy="138.6" r="1.6"/><circle cx="456.8" cy="134.5" r="1.6"/><circle cx="345.3" cy="104.8" r="1.6"/><circle cx="351.9" cy="108.6" r="1.6"/><circle cx="358.4" cy="96.8" r="1.6"/><circle cx="356.6" cy="100.9" r="1.6"/><circle cx="369.1" cy="85.5" r="1.6"/><circle cx="372.6" cy="81.9" r="1.6"/><circle cx="378" cy="75.4" r="1.6"/><circle cx="382.1" cy="72.5" r="1.6"/><circle cx="388.6" cy="67.1" r="1.6"/><circle cx="389.8" cy="62.4" r="1.6"/><circle cx="396.3" cy="66.5" r="1.6"/><circle cx="399.3" cy="61.8" r="1.6"/><circle cx="399.7" cy="61.3" r="1.6"/><circle cx="396.2" cy="66.6" r="1.6"/><circle cx="416.3" cy="64.8" r="1.6"/><circle cx="427" cy="66.6" r="1.6"/><circle cx="433.5" cy="66.6" r="1.6"/><circle cx="438.9" cy="64.8" r="1.6"/><circle cx="438.3" cy="69" r="1.6"/><circle cx="443.6" cy="71.9" r="1.6"/><circle cx="444.8" cy="74.9" r="1.6"/><circle cx="441.8" cy="75.5" r="1.6"/><circle cx="453.7" cy="81.4" r="1.6"/><circle cx="449.5" cy="85.6" r="1.6"/><circle cx="464.5" cy="100.4" r="1.6"/><circle cx="467.4" cy="104.6" r="1.6"/><circle cx="468.6" cy="115.8" r="1.6"/><circle cx="472.2" cy="124.1" r="1.6"/><circle cx="475.1" cy="128.9" r="1.6"/><circle cx="466.8" cy="135.4" r="1.6"/><circle cx="463.9" cy="143.1" r="1.6"/><circle cx="457.4" cy="93.3" r="1.6"/><circle cx="415.8" cy="155.7" r="1.6"/><circle cx="434.1" cy="157.4" r="1.6"/><circle cx="434.7" cy="160.4" r="1.6"/><circle cx="438.9" cy="155.7" r="1.6"/><circle cx="421.7" cy="148" r="1.6"/><circle cx="430" cy="146.8" r="1.6"/><circle cx="435.9" cy="145.6" r="1.6"/><circle cx="435.9" cy="149.1" r="1.6"/><circle cx="443.6" cy="145.6" r="1.6"/><circle cx="442.4" cy="148.5" r="1.6"/><circle cx="449" cy="144.4" r="1.6"/><circle cx="453.1" cy="145" r="1.6"/><circle cx="338" cy="129" r="1.6"/><circle cx="343.9" cy="156.8" r="1.6"/><circle cx="339.7" cy="162.2" r="1.6"/><circle cx="338.6" cy="168.7" r="1.6"/><circle cx="350.4" cy="162.8" r="1.6"/><circle cx="369.4" cy="156.2" r="1.6"/><circle cx="380.7" cy="156.2" r="1.6"/><circle cx="358.1" cy="158" r="1.6"/><circle cx="471.8" cy="151.5" r="1.6"/><circle cx="476.9" cy="150.9" r="1.6"/>
</g>
<g fill="#fff">
<circle cx="350.2" cy="146.9" r="0.75"/><circle cx="351.4" cy="146.3" r="0.75"/><circle cx="353.4" cy="142.5" r="0.75"/><circle cx="354" cy="143.5" r="0.75"/><circle cx="353.2" cy="142.8" r="0.75"/><circle cx="353.8" cy="140.8" r="0.75"/><circle cx="353.6" cy="135.5" r="0.75"/><circle cx="352.4" cy="135.1" r="0.75"/><circle cx="354.4" cy="128.8" r="0.75"/><circle cx="353.3" cy="130" r="0.75"/><circle cx="353.6" cy="132.4" r="0.75"/><circle cx="353.2" cy="126.7" r="0.75"/><circle cx="357.7" cy="127.3" r="0.75"/><circle cx="357.8" cy="126" r="0.75"/><circle cx="359.6" cy="119.8" r="0.75"/><circle cx="359.8" cy="118.3" r="0.75"/><circle cx="355.7" cy="121.6" r="0.75"/><circle cx="357.3" cy="115" r="0.75"/><circle cx="360.8" cy="117.8" r="0.75"/><circle cx="359.9" cy="113.3" r="0.75"/><circle cx="363.5" cy="111.6" r="0.75"/><circle cx="363.8" cy="111.3" r="0.75"/><circle cx="361.9" cy="107.9" r="0.75"/><circle cx="363.3" cy="107.7" r="0.75"/><circle cx="366" cy="102.3" r="0.75"/><circle cx="368.5" cy="104.1" r="0.75"/><circle cx="365.4" cy="106" r="0.75"/><circle cx="366.8" cy="102.5" r="0.75"/><circle cx="370.9" cy="93.6" r="0.75"/><circle cx="372" cy="94.5" r="0.75"/><circle cx="369.6" cy="92.6" r="0.75"/><circle cx="367.4" cy="98.3" r="0.75"/><circle cx="373.5" cy="87.1" r="0.75"/><circle cx="373.3" cy="93" r="0.75"/><circle cx="374.5" cy="87.2" r="0.75"/><circle cx="374" cy="91.9" r="0.75"/><circle cx="380.9" cy="85.6" r="0.75"/><circle cx="379.7" cy="83.3" r="0.75"/><circle cx="375.6" cy="85.3" r="0.75"/><circle cx="379.2" cy="83.5" r="0.75"/><circle cx="378.6" cy="88.9" r="0.75"/><circle cx="385.4" cy="81.1" r="0.75"/><circle cx="385.5" cy="81.1" r="0.75"/><circle cx="384.8" cy="79.7" r="0.75"/><circle cx="385.8" cy="77.6" r="0.75"/><circle cx="386.3" cy="79" r="0.75"/><circle cx="386.4" cy="77.5" r="0.75"/><circle cx="396.4" cy="76.4" r="0.75"/><circle cx="395.6" cy="72.8" r="0.75"/><circle cx="395.8" cy="72.1" r="0.75"/><circle cx="396.7" cy="72.2" r="0.75"/><circle cx="398.4" cy="74" r="0.75"/><circle cx="398.6" cy="74.2" r="0.75"/><circle cx="402.2" cy="74.9" r="0.75"/><circle cx="403.6" cy="74.2" r="0.75"/><circle cx="401.7" cy="74.4" r="0.75"/><circle cx="407.7" cy="74.1" r="0.75"/><circle cx="411.1" cy="73.5" r="0.75"/><circle cx="408.4" cy="69.9" r="0.75"/><circle cx="413.2" cy="74.9" r="0.75"/><circle cx="413.1" cy="73.7" r="0.75"/><circle cx="415.6" cy="73.9" r="0.75"/><circle cx="419.2" cy="71.8" r="0.75"/><circle cx="417.9" cy="75.8" r="0.75"/><circle cx="419.8" cy="74.5" r="0.75"/><circle cx="426.6" cy="74.6" r="0.75"/><circle cx="424" cy="72.2" r="0.75"/><circle cx="428.5" cy="75" r="0.75"/><circle cx="433.8" cy="77.7" r="0.75"/><circle cx="432.9" cy="76.4" r="0.75"/><circle cx="436.7" cy="79.9" r="0.75"/><circle cx="433.9" cy="79.2" r="0.75"/><circle cx="433.6" cy="77.2" r="0.75"/><circle cx="441.2" cy="84.1" r="0.75"/><circle cx="437.7" cy="84.2" r="0.75"/><circle cx="438.9" cy="81.4" r="0.75"/><circle cx="442.5" cy="85.9" r="0.75"/><circle cx="442.1" cy="87.4" r="0.75"/><circle cx="444.5" cy="91.6" r="0.75"/><circle cx="444.1" cy="89.5" r="0.75"/><circle cx="449.2" cy="95" r="0.75"/><circle cx="447.1" cy="91.2" r="0.75"/><circle cx="447.1" cy="91.6" r="0.75"/><circle cx="450.4" cy="100.8" r="0.75"/><circle cx="448.2" cy="96.4" r="0.75"/><circle cx="449.5" cy="96.7" r="0.75"/><circle cx="450.1" cy="98.7" r="0.75"/><circle cx="449.2" cy="102.7" r="0.75"/><circle cx="445.8" cy="104.8" r="0.75"/><circle cx="449.9" cy="106.2" r="0.75"/><circle cx="445.9" cy="108" r="0.75"/><circle cx="444.1" cy="109.6" r="0.75"/><circle cx="442.6" cy="111.8" r="0.75"/><circle cx="442.6" cy="111.1" r="0.75"/><circle cx="442.4" cy="115.9" r="0.75"/><circle cx="442.5" cy="111.7" r="0.75"/><circle cx="444.7" cy="114.9" r="0.75"/><circle cx="435.8" cy="116.9" r="0.75"/><circle cx="435.3" cy="118.6" r="0.75"/><circle cx="438.5" cy="117.7" r="0.75"/><circle cx="437.8" cy="119.9" r="0.75"/><circle cx="429.3" cy="126" r="0.75"/><circle cx="430.5" cy="120.9" r="0.75"/><circle cx="430.9" cy="125.8" r="0.75"/><circle cx="432.2" cy="121.6" r="0.75"/><circle cx="425.2" cy="131.6" r="0.75"/><circle cx="423.2" cy="128.6" r="0.75"/><circle cx="424.4" cy="130.9" r="0.75"/><circle cx="423.5" cy="129.3" r="0.75"/><circle cx="418.6" cy="136.6" r="0.75"/><circle cx="415.1" cy="134.3" r="0.75"/><circle cx="415.7" cy="134.4" r="0.75"/><circle cx="414.9" cy="134.5" r="0.75"/><circle cx="416.6" cy="137.6" r="0.75"/><circle cx="413.6" cy="134.7" r="0.75"/><circle cx="411.1" cy="138.8" r="0.75"/><circle cx="411" cy="137.7" r="0.75"/><circle cx="410.8" cy="139.1" r="0.75"/><circle cx="401.2" cy="140" r="0.75"/><circle cx="400.2" cy="141.1" r="0.75"/><circle cx="402.2" cy="142.7" r="0.75"/><circle cx="394.1" cy="144.4" r="0.75"/><circle cx="396.3" cy="142" r="0.75"/><circle cx="393.6" cy="143.2" r="0.75"/><circle cx="387.5" cy="143.6" r="0.75"/><circle cx="392.4" cy="141.7" r="0.75"/><circle cx="392.3" cy="140.9" r="0.75"/><circle cx="385" cy="146.1" r="0.75"/><circle cx="381.8" cy="146.2" r="0.75"/><circle cx="385.1" cy="145.5" r="0.75"/><circle cx="378.1" cy="148.5" r="0.75"/><circle cx="379.6" cy="147.5" r="0.75"/><circle cx="377.3" cy="148.8" r="0.75"/><circle cx="373.3" cy="147" r="0.75"/><circle cx="374.5" cy="145.7" r="0.75"/><circle cx="372.5" cy="147.5" r="0.75"/><circle cx="368.3" cy="147.9" r="0.75"/><circle cx="363.7" cy="149.6" r="0.75"/><circle cx="368.3" cy="145.8" r="0.75"/><circle cx="358.6" cy="147.7" r="0.75"/><circle cx="362.9" cy="149.4" r="0.75"/><circle cx="361.6" cy="148.1" r="0.75"/><circle cx="355.6" cy="151.2" r="0.75"/><circle cx="353.6" cy="150.4" r="0.75"/><circle cx="353.3" cy="147.8" r="0.75"/><circle cx="355.6" cy="149.1" r="0.75"/><circle cx="349.9" cy="150.3" r="0.75"/><circle cx="348.6" cy="148.1" r="0.75"/><circle cx="352.1" cy="151.2" r="0.75"/>
</g>
<polyline points="336.8,148.2 346.9,139.1 358.7,127.8 370.6,119.5 382.4,113.6 391.9,110 400,107.6 412.8,105.6 420,105.2 430.6,105.5 443.7,107.2 455,109.3 466,111.3 476.9,113.1" fill="none" stroke="#f00" stroke-width="2.2" stroke-linejoin="round"/>
<g font-family='"Liberation Sans", Arial, sans-serif' font-size="9.7" fill="#00f" stroke="#00f" stroke-width="0.25" text-anchor="middle">
<text transform="translate(392.1,47.7) rotate(40)" dy="0.3em">dreamland</text>
<text transform="translate(429.2,51.1) rotate(40)" dy="0.3em">win</text>
<text transform="translate(354.4,66.9) rotate(40)" dy="0.3em">meow</text>
<text transform="translate(329.6,83.3) rotate(40)" dy="0.3em">complete</text>
<text transform="translate(471.4,83.6) rotate(40)" dy="0.3em">sensual</text>
<text transform="translate(497.1,116.7) rotate(40)" dy="0.3em">terrorism</text>
<text transform="translate(316.8,122.7) rotate(40)" dy="0.3em">calm</text>
<text transform="translate(503.5,161.4) rotate(40)" dy="0.3em">insanity</text>
<text transform="translate(459,160) rotate(40)" dy="0.3em">intensity</text>
<text transform="translate(437.2,172.5) rotate(40)" dy="0.3em">bigotry</text>
<text transform="translate(414,172.3) rotate(40)" dy="0.3em">mumbo</text>
<text transform="translate(388,168.5) rotate(40)" dy="0.3em">moor</text>
<text transform="translate(356.3,173.1) rotate(40)" dy="0.3em">swab</text>
<text transform="translate(333.5,193.4) rotate(40)" dy="0.3em">grain</text>
</g>
<rect x="304.1" y="15.2" width="214.39999999999998" height="201.0" fill="none" stroke="#000" stroke-width="1.3"/>
<path d="M345.8 216.2v3.5 M391 216.2v3.5 M436.2 216.2v3.5 M481.4 216.2v3.5 M304.1 171.7h-3.5 M304.1 125.1h-3.5 M304.1 78.5h-3.5 M304.1 31.9h-3.5" stroke="#000" stroke-width="1.1" fill="none"/>
<g font-family='"Liberation Sans", Arial, sans-serif' font-size="11" fill="#000" stroke="#000" stroke-width="0.2" text-anchor="middle">
<text x="345.8" y="234.2">2</text>
<text x="391" y="234.2">4</text>
<text x="436.2" y="234.2">6</text>
<text x="481.4" y="234.2">8</text>
<text transform="translate(295.6,171.7) rotate(-90)">1</text>
<text transform="translate(295.6,125.1) rotate(-90)">2</text>
<text transform="translate(295.6,78.5) rotate(-90)">3</text>
<text transform="translate(295.6,31.9) rotate(-90)">4</text>
<text transform="translate(280.5,115.69999999999999) rotate(-90)">SD</text>
<text x="411.3" y="248.0">Mean</text>
<text x="411.3" y="9.7" font-weight="bold" font-size="13" word-spacing="1.5">Arousal</text>
</g>
<path d="M99.5 395.8 L100 392.8 L100.7 387.4 L101.1 380.5 L102.2 375.4 L104.1 370.3 L107.5 364.8 L110.6 359.5 L114.7 355.5 L119.4 352 L123.8 347.5 L129 345 L134.4 342.2 L138.6 341 L145.4 342.5 L152.7 342.3 L158.3 340.7 L163.2 341.3 L168.6 341.7 L174 343.4 L179.7 345.1 L185 347.2 L189.6 349.8 L190.9 352 L195.6 356.7 L198.9 362.3 L202.6 367.3 L205.8 371.4 L207.9 376.6 L210 382.1 L211.1 387.6 L212.2 393 L212.7 396 L211.1 396.9 L206.9 397.6 L201.5 397.6 L195.6 397.6 L189.3 397.6 L183.1 398.2 L177 398.9 L171.1 400.1 L165 400.7 L159.6 402 L154.2 401.6 L148.2 400.4 L142.1 399.7 L136.4 399.2 L130.6 398.1 L124.5 396.9 L117.8 396.2 L112.2 396.8 L106.8 395.7 L100.4 394.8 Z" fill="#000"/>
<g fill="none" stroke="#000" stroke-width="1.3">
<circle cx="97.8" cy="397" r="1.6"/><circle cx="99.1" cy="393.2" r="1.6"/><circle cx="98" cy="395.5" r="1.6"/><circle cx="98.4" cy="393.7" r="1.6"/><circle cx="100.5" cy="395.2" r="1.6"/><circle cx="95.2" cy="397.7" r="1.6"/><circle cx="98.1" cy="389.7" r="1.6"/><circle cx="97.7" cy="387.8" r="1.6"/><circle cx="100.3" cy="392.3" r="1.6"/><circle cx="99.1" cy="387.9" r="1.6"/><circle cx="98.2" cy="392.1" r="1.6"/><circle cx="95.8" cy="391.4" r="1.6"/><circle cx="99.5" cy="384.6" r="1.6"/><circle cx="101.3" cy="382.6" r="1.6"/><circle cx="99.4" cy="382" r="1.6"/><circle cx="99.1" cy="383.9" r="1.6"/><circle cx="101.5" cy="381.7" r="1.6"/><circle cx="99" cy="383.8" r="1.6"/><circle cx="95.5" cy="381.9" r="1.6"/><circle cx="98.5" cy="379.2" r="1.6"/><circle cx="101.7" cy="376.3" r="1.6"/><circle cx="98.8" cy="377.8" r="1.6"/><circle cx="100.4" cy="379.4" r="1.6"/><circle cx="99.6" cy="374.8" r="1.6"/><circle cx="95.5" cy="378.3" r="1.6"/><circle cx="101.2" cy="373" r="1.6"/><circle cx="103.8" cy="371.4" r="1.6"/><circle cx="102.3" cy="374.4" r="1.6"/><circle cx="103" cy="374.4" r="1.6"/><circle cx="101.5" cy="374.6" r="1.6"/><circle cx="103.2" cy="373.4" r="1.6"/><circle cx="95.6" cy="369.4" r="1.6"/><circle cx="105.4" cy="366.9" r="1.6"/><circle cx="105.6" cy="366" r="1.6"/><circle cx="103.6" cy="369" r="1.6"/><circle cx="102.4" cy="369.6" r="1.6"/><circle cx="103.9" cy="369.3" r="1.6"/><circle cx="105.5" cy="363.9" r="1.6"/><circle cx="102.2" cy="362.9" r="1.6"/><circle cx="108" cy="360.2" r="1.6"/><circle cx="110.7" cy="359.2" r="1.6"/><circle cx="109.7" cy="360.1" r="1.6"/><circle cx="106.4" cy="362.1" r="1.6"/><circle cx="107.4" cy="360.1" r="1.6"/><circle cx="109.2" cy="359" r="1.6"/><circle cx="104.7" cy="361.6" r="1.6"/><circle cx="111.3" cy="356" r="1.6"/><circle cx="111.7" cy="358.8" r="1.6"/><circle cx="110.3" cy="359.8" r="1.6"/><circle cx="113.9" cy="357" r="1.6"/><circle cx="111.1" cy="358.5" r="1.6"/><circle cx="111.5" cy="354.5" r="1.6"/><circle cx="107.4" cy="356.8" r="1.6"/><circle cx="117.1" cy="350.1" r="1.6"/><circle cx="114.8" cy="354.6" r="1.6"/><circle cx="116.6" cy="353.3" r="1.6"/><circle cx="115.7" cy="353.2" r="1.6"/><circle cx="115.9" cy="355" r="1.6"/><circle cx="112.3" cy="351.9" r="1.6"/><circle cx="118.9" cy="350.1" r="1.6"/><circle cx="122.6" cy="348.2" r="1.6"/><circle cx="121.9" cy="346.6" r="1.6"/><circle cx="120.4" cy="349.3" r="1.6"/><circle cx="118.5" cy="348.9" r="1.6"/><circle cx="122.5" cy="349.3" r="1.6"/><circle cx="116.2" cy="347" r="1.6"/><circle cx="124.5" cy="344.9" r="1.6"/><circle cx="123.5" cy="345.1" r="1.6"/><circle cx="127.9" cy="345.7" r="1.6"/><circle cx="126.5" cy="346" r="1.6"/><circle cx="126.2" cy="343.8" r="1.6"/><circle cx="127.6" cy="345.3" r="1.6"/><circle cx="121.3" cy="342.5" r="1.6"/><circle cx="132.3" cy="343.4" r="1.6"/><circle cx="129.4" cy="343.1" r="1.6"/><circle cx="128.8" cy="343.2" r="1.6"/><circle cx="130.2" cy="343.9" r="1.6"/><circle cx="130.8" cy="342.5" r="1.6"/><circle cx="133.3" cy="343.2" r="1.6"/><circle cx="131.2" cy="339" r="1.6"/><circle cx="135.1" cy="340.2" r="1.6"/><circle cx="137.4" cy="339.7" r="1.6"/><circle cx="138.9" cy="340.8" r="1.6"/><circle cx="135.2" cy="340.1" r="1.6"/><circle cx="135.4" cy="341.9" r="1.6"/><circle cx="133.6" cy="336" r="1.6"/><circle cx="144.1" cy="340.2" r="1.6"/><circle cx="145.1" cy="340.1" r="1.6"/><circle cx="140" cy="340.8" r="1.6"/><circle cx="142.9" cy="342.3" r="1.6"/><circle cx="142.1" cy="342" r="1.6"/><circle cx="138.3" cy="339.7" r="1.6"/><circle cx="139.3" cy="338.4" r="1.6"/><circle cx="145.1" cy="337.4" r="1.6"/><circle cx="147.1" cy="342.6" r="1.6"/><circle cx="149" cy="341.1" r="1.6"/><circle cx="148.1" cy="340.4" r="1.6"/><circle cx="149.2" cy="340.2" r="1.6"/><circle cx="146.5" cy="342.7" r="1.6"/><circle cx="148.3" cy="341.3" r="1.6"/><circle cx="147.3" cy="336.8" r="1.6"/><circle cx="154.4" cy="341.3" r="1.6"/><circle cx="155.5" cy="339.5" r="1.6"/><circle cx="157.5" cy="340.2" r="1.6"/><circle cx="155.1" cy="338.8" r="1.6"/><circle cx="158.2" cy="339" r="1.6"/><circle cx="153.5" cy="341" r="1.6"/><circle cx="155.7" cy="336.8" r="1.6"/><circle cx="158" cy="337.8" r="1.6"/><circle cx="162.6" cy="341.3" r="1.6"/><circle cx="160.3" cy="339.3" r="1.6"/><circle cx="159.2" cy="341.1" r="1.6"/><circle cx="162" cy="338.9" r="1.6"/><circle cx="160.4" cy="336.8" r="1.6"/><circle cx="165.5" cy="341.6" r="1.6"/><circle cx="168.8" cy="342.1" r="1.6"/><circle cx="165.1" cy="339.2" r="1.6"/><circle cx="164" cy="341.5" r="1.6"/><circle cx="163.6" cy="341.2" r="1.6"/><circle cx="166.8" cy="334.9" r="1.6"/><circle cx="169.2" cy="341.8" r="1.6"/><circle cx="172.9" cy="342" r="1.6"/><circle cx="170.1" cy="342.3" r="1.6"/><circle cx="170.4" cy="339.3" r="1.6"/><circle cx="169" cy="341.4" r="1.6"/><circle cx="173.3" cy="340.4" r="1.6"/><circle cx="174.9" cy="338.4" r="1.6"/><circle cx="180" cy="343.5" r="1.6"/><circle cx="176" cy="342.8" r="1.6"/><circle cx="178.8" cy="342.7" r="1.6"/><circle cx="174.8" cy="343.4" r="1.6"/><circle cx="179.6" cy="345.2" r="1.6"/><circle cx="178.9" cy="344.2" r="1.6"/><circle cx="176.7" cy="339.6" r="1.6"/><circle cx="183.3" cy="343.4" r="1.6"/><circle cx="181.3" cy="343.1" r="1.6"/><circle cx="181.4" cy="345.7" r="1.6"/><circle cx="184" cy="346.1" r="1.6"/><circle cx="180.9" cy="344.6" r="1.6"/><circle cx="185.2" cy="344.6" r="1.6"/><circle cx="184.3" cy="342.6" r="1.6"/><circle cx="189.8" cy="348.2" r="1.6"/><circle cx="191.2" cy="347.6" r="1.6"/><circle cx="187.8" cy="346" r="1.6"/><circle cx="189.6" cy="349.4" r="1.6"/><circle cx="187.2" cy="347.6" r="1.6"/><circle cx="187.1" cy="347.5" r="1.6"/><circle cx="187.6" cy="343.7" r="1.6"/><circle cx="191.3" cy="350.9" r="1.6"/><circle cx="192.2" cy="349.3" r="1.6"/><circle cx="190.5" cy="350.8" r="1.6"/><circle cx="197.2" cy="355" r="1.6"/><circle cx="197.3" cy="355.6" r="1.6"/><circle cx="196.4" cy="354.2" r="1.6"/><circle cx="193.7" cy="352.3" r="1.6"/><circle cx="194.7" cy="352.4" r="1.6"/><circle cx="192.8" cy="352" r="1.6"/><circle cx="197.4" cy="349.3" r="1.6"/><circle cx="198.6" cy="357" r="1.6"/><circle cx="200.5" cy="359.9" r="1.6"/><circle cx="198.2" cy="355.7" r="1.6"/><circle cx="199.5" cy="359.7" r="1.6"/><circle cx="197.3" cy="360.3" r="1.6"/><circle cx="199.6" cy="360.6" r="1.6"/><circle cx="200.9" cy="356.6" r="1.6"/><circle cx="203.6" cy="364.9" r="1.6"/><circle cx="202.3" cy="366.5" r="1.6"/><circle cx="200.5" cy="363.8" r="1.6"/><circle cx="199.9" cy="362.5" r="1.6"/><circle cx="201" cy="361.2" r="1.6"/><circle cx="203.1" cy="361.1" r="1.6"/><circle cx="204.5" cy="366.4" r="1.6"/><circle cx="204.2" cy="367.6" r="1.6"/><circle cx="205.9" cy="367.8" r="1.6"/><circle cx="206.4" cy="371.3" r="1.6"/><circle cx="206.9" cy="368.6" r="1.6"/><circle cx="210.2" cy="364.9" r="1.6"/><circle cx="207.8" cy="374.9" r="1.6"/><circle cx="209" cy="375.4" r="1.6"/><circle cx="207.3" cy="371" r="1.6"/><circle cx="208.7" cy="375.2" r="1.6"/><circle cx="207.6" cy="373.3" r="1.6"/><circle cx="209.3" cy="375.3" r="1.6"/><circle cx="210.4" cy="370.4" r="1.6"/><circle cx="211.4" cy="377.7" r="1.6"/><circle cx="209.4" cy="380.7" r="1.6"/><circle cx="209.6" cy="382.1" r="1.6"/><circle cx="210.1" cy="379.7" r="1.6"/><circle cx="210.4" cy="380.4" r="1.6"/><circle cx="209.3" cy="376.6" r="1.6"/><circle cx="215.6" cy="379.1" r="1.6"/><circle cx="210.6" cy="383.8" r="1.6"/><circle cx="213.1" cy="385.7" r="1.6"/><circle cx="212.7" cy="382.6" r="1.6"/><circle cx="212.1" cy="387.3" r="1.6"/><circle cx="212.3" cy="383.6" r="1.6"/><circle cx="215.3" cy="386.3" r="1.6"/><circle cx="212.1" cy="389.2" r="1.6"/><circle cx="212.1" cy="391.8" r="1.6"/><circle cx="213" cy="390.5" r="1.6"/><circle cx="211.9" cy="391.4" r="1.6"/><circle cx="215.2" cy="392.5" r="1.6"/><circle cx="218" cy="389.5" r="1.6"/><circle cx="214.9" cy="393.5" r="1.6"/><circle cx="214.4" cy="395.5" r="1.6"/><circle cx="213.1" cy="397.2" r="1.6"/><circle cx="212.6" cy="397.5" r="1.6"/><circle cx="213.5" cy="392.7" r="1.6"/><circle cx="219.8" cy="397.1" r="1.6"/><circle cx="211.3" cy="398.3" r="1.6"/><circle cx="211.4" cy="398.3" r="1.6"/><circle cx="214.4" cy="396.3" r="1.6"/><circle cx="211.6" cy="397.6" r="1.6"/><circle cx="214.5" cy="399.8" r="1.6"/><circle cx="210.7" cy="397.9" r="1.6"/><circle cx="209.4" cy="398.3" r="1.6"/><circle cx="211.4" cy="396.2" r="1.6"/><circle cx="210.5" cy="399" r="1.6"/><circle cx="207.9" cy="397.7" r="1.6"/><circle cx="211.6" cy="401.9" r="1.6"/><circle cx="206.2" cy="399.2" r="1.6"/><circle cx="202.1" cy="397.8" r="1.6"/><circle cx="203.9" cy="399.6" r="1.6"/><circle cx="202.9" cy="399.6" r="1.6"/><circle cx="203.2" cy="398.1" r="1.6"/><circle cx="202.4" cy="405.5" r="1.6"/><circle cx="201.2" cy="400.4" r="1.6"/><circle cx="198.9" cy="397.4" r="1.6"/><circle cx="201.1" cy="399.9" r="1.6"/><circle cx="197.5" cy="397.6" r="1.6"/><circle cx="198.8" cy="399.3" r="1.6"/><circle cx="195.6" cy="402.2" r="1.6"/><circle cx="190.9" cy="398" r="1.6"/><circle cx="194.4" cy="397.7" r="1.6"/><circle cx="193.1" cy="399.3" r="1.6"/><circle cx="193.8" cy="397.7" r="1.6"/><circle cx="194.3" cy="397.4" r="1.6"/><circle cx="194.4" cy="398.2" r="1.6"/><circle cx="192.5" cy="401.9" r="1.6"/><circle cx="186.4" cy="398.9" r="1.6"/><circle cx="183.4" cy="399.4" r="1.6"/><circle cx="183.6" cy="399.3" r="1.6"/><circle cx="188.1" cy="399.3" r="1.6"/><circle cx="188.3" cy="397.8" r="1.6"/><circle cx="189.3" cy="403.4" r="1.6"/><circle cx="177.5" cy="399.7" r="1.6"/><circle cx="181.1" cy="399.4" r="1.6"/><circle cx="181.2" cy="400.4" r="1.6"/><circle cx="180.8" cy="398.5" r="1.6"/><circle cx="178.1" cy="400.3" r="1.6"/><circle cx="183.8" cy="405" r="1.6"/><circle cx="172.6" cy="400.5" r="1.6"/><circle cx="173.6" cy="402.3" r="1.6"/><circle cx="174.6" cy="400.4" r="1.6"/><circle cx="175.3" cy="400.7" r="1.6"/><circle cx="173.3" cy="401.7" r="1.6"/><circle cx="172" cy="404.2" r="1.6"/><circle cx="169.3" cy="402.7" r="1.6"/><circle cx="166.7" cy="402.1" r="1.6"/><circle cx="167.3" cy="401.1" r="1.6"/><circle cx="165.7" cy="402" r="1.6"/><circle cx="168.9" cy="400.4" r="1.6"/><circle cx="170.8" cy="402.7" r="1.6"/><circle cx="166.9" cy="404.5" r="1.6"/><circle cx="163.1" cy="402.3" r="1.6"/><circle cx="162" cy="402.2" r="1.6"/><circle cx="159.7" cy="402.7" r="1.6"/><circle cx="162.3" cy="404.1" r="1.6"/><circle cx="161.3" cy="402.8" r="1.6"/><circle cx="163.9" cy="405.8" r="1.6"/><circle cx="156.2" cy="404" r="1.6"/><circle cx="158.5" cy="402.7" r="1.6"/><circle cx="157.7" cy="402.6" r="1.6"/><circle cx="154.4" cy="403" r="1.6"/><circle cx="158.4" cy="402.5" r="1.6"/><circle cx="155" cy="401.7" r="1.6"/><circle cx="155.5" cy="405.7" r="1.6"/><circle cx="153.3" cy="401.1" r="1.6"/><circle cx="149.6" cy="400.6" r="1.6"/><circle cx="153.1" cy="401" r="1.6"/><circle cx="152.4" cy="403.3" r="1.6"/><circle cx="149.6" cy="403.4" r="1.6"/><circle cx="148.4" cy="401.9" r="1.6"/><circle cx="148.1" cy="404.5" r="1.6"/><circle cx="142.4" cy="400.8" r="1.6"/><circle cx="146.7" cy="402.3" r="1.6"/><circle cx="142.8" cy="400.7" r="1.6"/><circle cx="147.2" cy="402.8" r="1.6"/><circle cx="143.4" cy="401.5" r="1.6"/><circle cx="141.8" cy="403.8" r="1.6"/><circle cx="141.7" cy="399.6" r="1.6"/><circle cx="141.7" cy="401.7" r="1.6"/><circle cx="138.4" cy="399.2" r="1.6"/><circle cx="141.1" cy="399.8" r="1.6"/><circle cx="138.3" cy="401.2" r="1.6"/><circle cx="135.9" cy="403.8" r="1.6"/><circle cx="130.5" cy="399.1" r="1.6"/><circle cx="134.1" cy="399.1" r="1.6"/><circle cx="134.6" cy="401.8" r="1.6"/><circle cx="130.3" cy="400" r="1.6"/><circle cx="135.5" cy="399.1" r="1.6"/><circle cx="134.8" cy="403.6" r="1.6"/><circle cx="126.3" cy="396.9" r="1.6"/><circle cx="127.1" cy="399.3" r="1.6"/><circle cx="130.3" cy="399.1" r="1.6"/><circle cx="125.7" cy="398.6" r="1.6"/><circle cx="127.5" cy="400.1" r="1.6"/><circle cx="127" cy="398" r="1.6"/><circle cx="126.7" cy="405.8" r="1.6"/><circle cx="118.8" cy="399" r="1.6"/><circle cx="120.9" cy="396.5" r="1.6"/><circle cx="123.2" cy="397.6" r="1.6"/><circle cx="120.1" cy="395.9" r="1.6"/><circle cx="119.2" cy="398.6" r="1.6"/><circle cx="121.2" cy="396" r="1.6"/><circle cx="119" cy="401.1" r="1.6"/><circle cx="113.6" cy="398.1" r="1.6"/><circle cx="113.2" cy="397.6" r="1.6"/><circle cx="112.1" cy="399.6" r="1.6"/><circle cx="112.1" cy="398.4" r="1.6"/><circle cx="115.6" cy="397.2" r="1.6"/><circle cx="116.6" cy="403.9" r="1.6"/><circle cx="107.7" cy="398.2" r="1.6"/><circle cx="107.4" cy="398.8" r="1.6"/><circle cx="108.6" cy="396.7" r="1.6"/><circle cx="108.3" cy="396.4" r="1.6"/><circle cx="109.2" cy="396.2" r="1.6"/><circle cx="106.8" cy="400.8" r="1.6"/><circle cx="104.7" cy="398.1" r="1.6"/><circle cx="105.8" cy="398.3" r="1.6"/><circle cx="102.1" cy="395.1" r="1.6"/><circle cx="101.9" cy="396.5" r="1.6"/><circle cx="101" cy="396.5" r="1.6"/><circle cx="103.8" cy="398.1" r="1.6"/><circle cx="105.3" cy="401.8" r="1.6"/><circle cx="99.8" cy="395.3" r="1.6"/><circle cx="99.8" cy="397.4" r="1.6"/><circle cx="98.7" cy="396.9" r="1.6"/><circle cx="92.1" cy="370.9" r="1.6"/><circle cx="101" cy="358.5" r="1.6"/><circle cx="98" cy="366.8" r="1.6"/><circle cx="127.1" cy="338.9" r="1.6"/><circle cx="136" cy="331.2" r="1.6"/><circle cx="144.2" cy="333.4" r="1.6"/><circle cx="158.4" cy="323.9" r="1.6"/><circle cx="161.9" cy="326.9" r="1.6"/><circle cx="165.5" cy="328.6" r="1.6"/><circle cx="168.5" cy="333.4" r="1.6"/><circle cx="186.8" cy="336.9" r="1.6"/><circle cx="192.2" cy="334" r="1.6"/><circle cx="199.3" cy="348" r="1.6"/><circle cx="209.4" cy="365.8" r="1.6"/><circle cx="213" cy="366.9" r="1.6"/><circle cx="215.9" cy="381.2" r="1.6"/><circle cx="221.8" cy="381.8" r="1.6"/><circle cx="221.2" cy="388.9" r="1.6"/><circle cx="225.4" cy="394.8" r="1.6"/><circle cx="220.1" cy="400.7" r="1.6"/><circle cx="224.2" cy="404.3" r="1.6"/><circle cx="171.9" cy="416.2" r="1.6"/><circle cx="175.4" cy="412" r="1.6"/><circle cx="187.9" cy="411.4" r="1.6"/><circle cx="191.4" cy="406.7" r="1.6"/><circle cx="199.1" cy="408.5" r="1.6"/><circle cx="212.2" cy="410.2" r="1.6"/><circle cx="219.9" cy="406.1" r="1.6"/><circle cx="167.1" cy="419.1" r="1.6"/><circle cx="164.7" cy="409.6" r="1.6"/><circle cx="163.6" cy="412" r="1.6"/><circle cx="101.2" cy="410.6" r="1.6"/><circle cx="117.2" cy="407" r="1.6"/><circle cx="133.2" cy="408.2" r="1.6"/><circle cx="137.9" cy="410" r="1.6"/><circle cx="142.7" cy="414.1" r="1.6"/><circle cx="147.4" cy="415.3" r="1.6"/><circle cx="149.2" cy="426.6" r="1.6"/><circle cx="154.5" cy="413.5" r="1.6"/><circle cx="87.2" cy="390.7" r="1.6"/><circle cx="87.2" cy="396.1" r="1.6"/><circle cx="91.5" cy="407.4" r="1.6"/><circle cx="100.2" cy="410.2" r="1.6"/><circle cx="80" cy="420" r="1.6"/><circle cx="90.9" cy="399.7" r="1.6"/><circle cx="94.2" cy="399.7" r="1.6"/><circle cx="92.9" cy="370.1" r="1.6"/>
</g>
<g fill="#fff">
<circle cx="101.3" cy="396.6" r="0.75"/><circle cx="97.8" cy="394.8" r="0.75"/><circle cx="101" cy="395.2" r="0.75"/><circle cx="100.4" cy="392.2" r="0.75"/><circle cx="99" cy="391.6" r="0.75"/><circle cx="102.3" cy="388.2" r="0.75"/><circle cx="100.3" cy="380.2" r="0.75"/><circle cx="102" cy="383.4" r="0.75"/><circle cx="100.3" cy="381.9" r="0.75"/><circle cx="100.1" cy="381.2" r="0.75"/><circle cx="101.6" cy="375.3" r="0.75"/><circle cx="102" cy="380.3" r="0.75"/><circle cx="101.7" cy="380.1" r="0.75"/><circle cx="104" cy="376.1" r="0.75"/><circle cx="103.9" cy="372.9" r="0.75"/><circle cx="102.5" cy="375.1" r="0.75"/><circle cx="103.8" cy="367.6" r="0.75"/><circle cx="104.4" cy="364.5" r="0.75"/><circle cx="103.5" cy="366.5" r="0.75"/><circle cx="111.7" cy="360.7" r="0.75"/><circle cx="107.1" cy="364.3" r="0.75"/><circle cx="109.6" cy="362.4" r="0.75"/><circle cx="112.8" cy="355.6" r="0.75"/><circle cx="113.1" cy="354.1" r="0.75"/><circle cx="111.7" cy="360" r="0.75"/><circle cx="113.8" cy="353.6" r="0.75"/><circle cx="116" cy="352.8" r="0.75"/><circle cx="116.2" cy="356.4" r="0.75"/><circle cx="122.5" cy="350.2" r="0.75"/><circle cx="121.9" cy="351.7" r="0.75"/><circle cx="121.7" cy="351.8" r="0.75"/><circle cx="127.5" cy="347.8" r="0.75"/><circle cx="127.7" cy="345.8" r="0.75"/><circle cx="126.8" cy="347.5" r="0.75"/><circle cx="130.4" cy="341.5" r="0.75"/><circle cx="134.7" cy="343.2" r="0.75"/><circle cx="133.2" cy="343.6" r="0.75"/><circle cx="135.1" cy="341.4" r="0.75"/><circle cx="139" cy="342.9" r="0.75"/><circle cx="138.5" cy="338.9" r="0.75"/><circle cx="142.7" cy="341.7" r="0.75"/><circle cx="141" cy="339.4" r="0.75"/><circle cx="138.8" cy="340.5" r="0.75"/><circle cx="141.6" cy="340" r="0.75"/><circle cx="148.2" cy="342.2" r="0.75"/><circle cx="150.7" cy="342.4" r="0.75"/><circle cx="146.9" cy="343.9" r="0.75"/><circle cx="155.9" cy="343.3" r="0.75"/><circle cx="158.3" cy="338.4" r="0.75"/><circle cx="157.1" cy="343" r="0.75"/><circle cx="159.7" cy="340.6" r="0.75"/><circle cx="159.6" cy="338" r="0.75"/><circle cx="158.9" cy="338.4" r="0.75"/><circle cx="164.9" cy="341.6" r="0.75"/><circle cx="166.3" cy="343.3" r="0.75"/><circle cx="167.3" cy="340.4" r="0.75"/><circle cx="173.7" cy="343.4" r="0.75"/><circle cx="171" cy="343.8" r="0.75"/><circle cx="172.4" cy="341.6" r="0.75"/><circle cx="178" cy="343" r="0.75"/><circle cx="180.2" cy="343.4" r="0.75"/><circle cx="180.5" cy="342.5" r="0.75"/><circle cx="179.6" cy="344.8" r="0.75"/><circle cx="180.8" cy="345.1" r="0.75"/><circle cx="179.7" cy="346.4" r="0.75"/><circle cx="188.3" cy="349.6" r="0.75"/><circle cx="189" cy="351.8" r="0.75"/><circle cx="188.3" cy="349.8" r="0.75"/><circle cx="191.3" cy="347.6" r="0.75"/><circle cx="188.1" cy="351.1" r="0.75"/><circle cx="192.8" cy="353.7" r="0.75"/><circle cx="191.9" cy="351.8" r="0.75"/><circle cx="195.5" cy="356.6" r="0.75"/><circle cx="200.7" cy="359.6" r="0.75"/><circle cx="197.8" cy="356.4" r="0.75"/><circle cx="200.4" cy="359.8" r="0.75"/><circle cx="203.7" cy="365.9" r="0.75"/><circle cx="202.5" cy="366.4" r="0.75"/><circle cx="198.7" cy="365" r="0.75"/><circle cx="203.7" cy="369.5" r="0.75"/><circle cx="202" cy="368.3" r="0.75"/><circle cx="208" cy="370.3" r="0.75"/><circle cx="208.8" cy="374.6" r="0.75"/><circle cx="207" cy="371.3" r="0.75"/><circle cx="205.5" cy="375.4" r="0.75"/><circle cx="208.3" cy="383.1" r="0.75"/><circle cx="209" cy="380.3" r="0.75"/><circle cx="207.6" cy="377.8" r="0.75"/><circle cx="211.8" cy="384.8" r="0.75"/><circle cx="212.7" cy="386.7" r="0.75"/><circle cx="212.3" cy="382.2" r="0.75"/><circle cx="211.3" cy="388.4" r="0.75"/><circle cx="214.2" cy="391.8" r="0.75"/><circle cx="211.8" cy="390.5" r="0.75"/><circle cx="213.2" cy="395.5" r="0.75"/><circle cx="215.2" cy="395.4" r="0.75"/><circle cx="213.1" cy="392.9" r="0.75"/><circle cx="212.6" cy="394.6" r="0.75"/><circle cx="212.3" cy="394.4" r="0.75"/><circle cx="211.2" cy="399.4" r="0.75"/><circle cx="209.6" cy="398.2" r="0.75"/><circle cx="210" cy="396.2" r="0.75"/><circle cx="206" cy="397.3" r="0.75"/><circle cx="202.5" cy="398.3" r="0.75"/><circle cx="204.4" cy="396" r="0.75"/><circle cx="197.9" cy="399.7" r="0.75"/><circle cx="201.1" cy="400.2" r="0.75"/><circle cx="199.5" cy="400.2" r="0.75"/><circle cx="191.7" cy="398.5" r="0.75"/><circle cx="193.7" cy="398" r="0.75"/><circle cx="189.9" cy="399.4" r="0.75"/><circle cx="188.3" cy="399.2" r="0.75"/><circle cx="187" cy="396.3" r="0.75"/><circle cx="185" cy="398.9" r="0.75"/><circle cx="182.4" cy="401.1" r="0.75"/><circle cx="182.3" cy="397.1" r="0.75"/><circle cx="179.5" cy="400.8" r="0.75"/><circle cx="173.6" cy="402.3" r="0.75"/><circle cx="174.1" cy="400.8" r="0.75"/><circle cx="176" cy="398.3" r="0.75"/><circle cx="167" cy="400.9" r="0.75"/><circle cx="170.2" cy="399.8" r="0.75"/><circle cx="168.6" cy="400" r="0.75"/><circle cx="163.8" cy="399.4" r="0.75"/><circle cx="165.1" cy="402.6" r="0.75"/><circle cx="162.9" cy="403.2" r="0.75"/><circle cx="159.7" cy="401.5" r="0.75"/><circle cx="153.9" cy="402.9" r="0.75"/><circle cx="158.6" cy="401.5" r="0.75"/><circle cx="152.9" cy="402.3" r="0.75"/><circle cx="150.1" cy="401.6" r="0.75"/><circle cx="152.9" cy="404" r="0.75"/><circle cx="145" cy="398.1" r="0.75"/><circle cx="142.3" cy="402.3" r="0.75"/><circle cx="145" cy="400.6" r="0.75"/><circle cx="141" cy="399.3" r="0.75"/><circle cx="139.3" cy="398.4" r="0.75"/><circle cx="140.5" cy="397.9" r="0.75"/><circle cx="131.6" cy="398.9" r="0.75"/><circle cx="135.6" cy="399.6" r="0.75"/><circle cx="135.9" cy="398.6" r="0.75"/><circle cx="126.5" cy="397.4" r="0.75"/><circle cx="124.3" cy="399.6" r="0.75"/><circle cx="126.6" cy="396.3" r="0.75"/><circle cx="123.5" cy="398.2" r="0.75"/><circle cx="124" cy="396.9" r="0.75"/><circle cx="119.8" cy="397.6" r="0.75"/><circle cx="113.5" cy="397.8" r="0.75"/><circle cx="113.4" cy="398.3" r="0.75"/><circle cx="111.8" cy="397.6" r="0.75"/><circle cx="112.2" cy="399.4" r="0.75"/><circle cx="108.8" cy="394.7" r="0.75"/><circle cx="108.6" cy="398.3" r="0.75"/><circle cx="101.5" cy="394.4" r="0.75"/><circle cx="105.8" cy="396.7" r="0.75"/><circle cx="102.3" cy="398.1" r="0.75"/><circle cx="100" cy="396" r="0.75"/><circle cx="97.3" cy="392.9" r="0.75"/>
</g>
<polyline points="79.5,381 85,379.8 96.9,376.8 114.6,373.9 132.4,370.9 140,369.6 151.9,368.8 163.7,369.6 175.6,372 187.4,375 192.8,377 200,379.5 210.6,383 226,388.3" fill="none" stroke="#f00" stroke-width="2.2" stroke-linejoin="round"/>
<g font-family='"Liberation Sans", Arial, sans-serif' font-size="9.7" fill="#00f" stroke="#00f" stroke-width="0.25" text-anchor="middle">
<text transform="translate(73.1,332.5) rotate(40)" dy="0.3em">imprisonment</text>
<text transform="translate(99.8,326.6) rotate(40)" dy="0.3em">universe</text>
<text transform="translate(137.6,314.5) rotate(40)" dy="0.3em">cannibalism</text>
<text transform="translate(160.4,309.6) rotate(40)" dy="0.3em">cigarette</text>
<text transform="translate(190.6,320.9) rotate(40)" dy="0.3em">money</text>
<text transform="translate(205,343.1) rotate(40)" dy="0.3em">jacket</text>
<text transform="translate(227.7,379.1) rotate(40)" dy="0.3em">paradise</text>
<text transform="translate(70.2,363.1) rotate(40)" dy="0.3em">rapist</text>
<text transform="translate(58.5,381.8) rotate(40)" dy="0.3em">lobotomy</text>
<text transform="translate(99.2,426.5) rotate(40)" dy="0.3em">hypertension</text>
<text transform="translate(78.5,435.8) rotate(40)" dy="0.3em">dementia</text>
<text transform="translate(120.6,418) rotate(40)" dy="0.3em">congenital</text>
<text transform="translate(146.7,440.2) rotate(40)" dy="0.3em">throes</text>
<text transform="translate(174,428.2) rotate(40)" dy="0.3em">bloodshed</text>
<text transform="translate(197,425) rotate(40)" dy="0.3em">consistent</text>
<text transform="translate(222.7,421) rotate(40)" dy="0.3em">win</text>
</g>
<rect x="32.8" y="272" width="214.8" height="201.2" fill="none" stroke="#000" stroke-width="1.3"/>
<path d="M41 473.2v3.5 M87.5 473.2v3.5 M134 473.2v3.5 M180.5 473.2v3.5 M227 473.2v3.5 M32.8 458h-3.5 M32.8 418h-3.5 M32.8 378h-3.5 M32.8 338h-3.5 M32.8 298h-3.5" stroke="#000" stroke-width="1.1" fill="none"/>
<g font-family='"Liberation Sans", Arial, sans-serif' font-size="11" fill="#000" stroke="#000" stroke-width="0.2" text-anchor="middle">
<text x="41" y="491.2">0</text>
<text x="87.5" y="491.2">2</text>
<text x="134" y="491.2">4</text>
<text x="180.5" y="491.2">6</text>
<text x="227" y="491.2">8</text>
<text transform="translate(24.299999999999997,458) rotate(-90)">0</text>
<text transform="translate(24.299999999999997,418) rotate(-90)">1</text>
<text transform="translate(24.299999999999997,378) rotate(-90)">2</text>
<text transform="translate(24.299999999999997,338) rotate(-90)">3</text>
<text transform="translate(24.299999999999997,298) rotate(-90)">4</text>
<text transform="translate(9.199999999999996,372.6) rotate(-90)">SD</text>
<text x="140.2" y="505.0">Mean</text>
<text x="140.2" y="266.5" font-weight="bold" font-size="13" word-spacing="1.5">Dominance</text>
</g>
<path d="M314.8 328.3 L319.1 329 L324.9 327.3 L329.6 326.8 L335 327.4 L341.2 328 L347.7 328 L352.4 327.3 L358.7 330.6 L365.4 332.6 L371.7 333.9 L379.3 335.1 L385.1 332.8 L389.5 333.9 L394.8 334.9 L399.7 336.9 L405.2 340.2 L413.4 345.6 L418.6 346.9 L420.7 349.7 L423.1 359.1 L425 375.4 L425 394.6 L423.2 408.6 L421.8 414.8 L420.8 414.5 L415.6 413.9 L409 414.5 L403.7 415.1 L397.8 414.5 L391.9 415.1 L387.1 414.6 L381.1 412.8 L372.3 412 L365.3 412 L359.5 411.5 L352.6 413.5 L347.3 418.8 L343 421.4 L339.1 422.2 L332.6 421 L324.6 424 L319.2 427.4 L314.8 428.1 L314.4 429.9 Z" fill="#000"/>
<g fill="none" stroke="#000" stroke-width="1.3">
<circle cx="312.9" cy="325.5" r="1.6"/><circle cx="316.4" cy="325.2" r="1.6"/><circle cx="314.9" cy="324.8" r="1.6"/><circle cx="315.3" cy="324.9" r="1.6"/><circle cx="315.3" cy="329.1" r="1.6"/><circle cx="314.7" cy="327.6" r="1.6"/><circle cx="313.5" cy="328.4" r="1.6"/><circle cx="321.8" cy="325.4" r="1.6"/><circle cx="320.6" cy="327.6" r="1.6"/><circle cx="321.9" cy="325.9" r="1.6"/><circle cx="321.1" cy="325.2" r="1.6"/><circle cx="319.9" cy="326.3" r="1.6"/><circle cx="320.1" cy="324.9" r="1.6"/><circle cx="328.1" cy="323.2" r="1.6"/><circle cx="327.3" cy="326.2" r="1.6"/><circle cx="329.5" cy="324.5" r="1.6"/><circle cx="326.4" cy="326.1" r="1.6"/><circle cx="326.3" cy="323.7" r="1.6"/><circle cx="328.9" cy="324.7" r="1.6"/><circle cx="333.5" cy="326.5" r="1.6"/><circle cx="331.9" cy="325.6" r="1.6"/><circle cx="331" cy="325.5" r="1.6"/><circle cx="333.9" cy="323.7" r="1.6"/><circle cx="330.3" cy="326.1" r="1.6"/><circle cx="334" cy="324.2" r="1.6"/><circle cx="339.3" cy="324.8" r="1.6"/><circle cx="339.2" cy="326.8" r="1.6"/><circle cx="335.5" cy="325.9" r="1.6"/><circle cx="335.7" cy="322.6" r="1.6"/><circle cx="338.4" cy="324.5" r="1.6"/><circle cx="341.1" cy="324" r="1.6"/><circle cx="342.9" cy="326.6" r="1.6"/><circle cx="342.1" cy="324.1" r="1.6"/><circle cx="345.8" cy="325.8" r="1.6"/><circle cx="343.7" cy="327" r="1.6"/><circle cx="344.4" cy="324.6" r="1.6"/><circle cx="346.8" cy="323.8" r="1.6"/><circle cx="353" cy="325.5" r="1.6"/><circle cx="350.4" cy="326.5" r="1.6"/><circle cx="353.8" cy="326.9" r="1.6"/><circle cx="348.8" cy="326.8" r="1.6"/><circle cx="353.1" cy="323.2" r="1.6"/><circle cx="349.6" cy="323.6" r="1.6"/><circle cx="358.3" cy="328.3" r="1.6"/><circle cx="353.9" cy="324.1" r="1.6"/><circle cx="353.7" cy="328" r="1.6"/><circle cx="358.4" cy="328.3" r="1.6"/><circle cx="355" cy="325.7" r="1.6"/><circle cx="352.6" cy="328.1" r="1.6"/><circle cx="354.4" cy="326.8" r="1.6"/><circle cx="351.6" cy="325.5" r="1.6"/><circle cx="364.1" cy="330.8" r="1.6"/><circle cx="364.1" cy="329.2" r="1.6"/><circle cx="360.2" cy="331.5" r="1.6"/><circle cx="364" cy="329.2" r="1.6"/><circle cx="361.1" cy="330.7" r="1.6"/><circle cx="365.6" cy="328" r="1.6"/><circle cx="367.6" cy="330.3" r="1.6"/><circle cx="369.3" cy="332.1" r="1.6"/><circle cx="366.2" cy="331.5" r="1.6"/><circle cx="370.1" cy="330.7" r="1.6"/><circle cx="368.7" cy="333.1" r="1.6"/><circle cx="367.2" cy="331.7" r="1.6"/><circle cx="374.4" cy="332.9" r="1.6"/><circle cx="377" cy="334.8" r="1.6"/><circle cx="377.7" cy="334.2" r="1.6"/><circle cx="376.9" cy="334" r="1.6"/><circle cx="375.5" cy="333" r="1.6"/><circle cx="372.6" cy="330.1" r="1.6"/><circle cx="385.3" cy="331.9" r="1.6"/><circle cx="384.7" cy="330.9" r="1.6"/><circle cx="386.8" cy="332.6" r="1.6"/><circle cx="382.8" cy="333.1" r="1.6"/><circle cx="383.2" cy="329.7" r="1.6"/><circle cx="384.9" cy="330.4" r="1.6"/><circle cx="386.5" cy="329.3" r="1.6"/><circle cx="384.2" cy="331.9" r="1.6"/><circle cx="388.3" cy="331.7" r="1.6"/><circle cx="389.4" cy="333.9" r="1.6"/><circle cx="386.3" cy="332.6" r="1.6"/><circle cx="383.4" cy="332.7" r="1.6"/><circle cx="390.3" cy="332.5" r="1.6"/><circle cx="392.5" cy="332.1" r="1.6"/><circle cx="391.8" cy="330.9" r="1.6"/><circle cx="393.4" cy="329.6" r="1.6"/><circle cx="390.9" cy="331.8" r="1.6"/><circle cx="392.7" cy="332.9" r="1.6"/><circle cx="399.6" cy="336.1" r="1.6"/><circle cx="400" cy="335.4" r="1.6"/><circle cx="397.3" cy="332.8" r="1.6"/><circle cx="398" cy="335" r="1.6"/><circle cx="396.5" cy="330.5" r="1.6"/><circle cx="396.5" cy="335.4" r="1.6"/><circle cx="404.5" cy="336.9" r="1.6"/><circle cx="402" cy="336.7" r="1.6"/><circle cx="405.1" cy="338.5" r="1.6"/><circle cx="404.3" cy="334.1" r="1.6"/><circle cx="402.4" cy="336.5" r="1.6"/><circle cx="401.9" cy="334.5" r="1.6"/><circle cx="404.3" cy="337.4" r="1.6"/><circle cx="408.5" cy="341.5" r="1.6"/><circle cx="412.1" cy="342.4" r="1.6"/><circle cx="412.1" cy="343" r="1.6"/><circle cx="410.3" cy="344.1" r="1.6"/><circle cx="409.4" cy="337.2" r="1.6"/><circle cx="412" cy="340.9" r="1.6"/><circle cx="409.9" cy="340.9" r="1.6"/><circle cx="406.8" cy="340.7" r="1.6"/><circle cx="419" cy="343.9" r="1.6"/><circle cx="416.6" cy="343.5" r="1.6"/><circle cx="415.9" cy="343.4" r="1.6"/><circle cx="415.9" cy="344" r="1.6"/><circle cx="416.8" cy="344.1" r="1.6"/><circle cx="415.7" cy="344.1" r="1.6"/><circle cx="419.9" cy="348.7" r="1.6"/><circle cx="421" cy="345.2" r="1.6"/><circle cx="421.7" cy="346.6" r="1.6"/><circle cx="422.5" cy="348" r="1.6"/><circle cx="419.6" cy="345.6" r="1.6"/><circle cx="422.7" cy="348.3" r="1.6"/><circle cx="423.9" cy="356.5" r="1.6"/><circle cx="426.2" cy="352.2" r="1.6"/><circle cx="425.7" cy="356.8" r="1.6"/><circle cx="423.3" cy="349" r="1.6"/><circle cx="424.8" cy="347.7" r="1.6"/><circle cx="426.5" cy="358.3" r="1.6"/><circle cx="425" cy="350.4" r="1.6"/><circle cx="424.7" cy="349.5" r="1.6"/><circle cx="421.4" cy="354.4" r="1.6"/><circle cx="424.7" cy="357.9" r="1.6"/><circle cx="425.9" cy="356.8" r="1.6"/><circle cx="428.3" cy="367.3" r="1.6"/><circle cx="427.9" cy="361.6" r="1.6"/><circle cx="423.4" cy="364.5" r="1.6"/><circle cx="423.6" cy="364.4" r="1.6"/><circle cx="426.1" cy="359.6" r="1.6"/><circle cx="423.7" cy="360.7" r="1.6"/><circle cx="424.7" cy="363.6" r="1.6"/><circle cx="429.3" cy="373.8" r="1.6"/><circle cx="429.7" cy="372.9" r="1.6"/><circle cx="427.8" cy="365.7" r="1.6"/><circle cx="428.2" cy="362.9" r="1.6"/><circle cx="428.2" cy="372.1" r="1.6"/><circle cx="423.5" cy="362.6" r="1.6"/><circle cx="427.4" cy="374.1" r="1.6"/><circle cx="428.5" cy="368.6" r="1.6"/><circle cx="426.7" cy="360.7" r="1.6"/><circle cx="428.8" cy="384.3" r="1.6"/><circle cx="425.6" cy="384.1" r="1.6"/><circle cx="426" cy="394.1" r="1.6"/><circle cx="429.1" cy="389.9" r="1.6"/><circle cx="428.3" cy="380" r="1.6"/><circle cx="425.7" cy="382.9" r="1.6"/><circle cx="429.7" cy="379.3" r="1.6"/><circle cx="427.3" cy="382.4" r="1.6"/><circle cx="424.6" cy="385" r="1.6"/><circle cx="428.6" cy="390.1" r="1.6"/><circle cx="426.5" cy="392.5" r="1.6"/><circle cx="426.4" cy="379.2" r="1.6"/><circle cx="428.1" cy="389.6" r="1.6"/><circle cx="427.4" cy="383.1" r="1.6"/><circle cx="429.6" cy="378.1" r="1.6"/><circle cx="427.3" cy="384.4" r="1.6"/><circle cx="425.6" cy="390.7" r="1.6"/><circle cx="426.4" cy="389.4" r="1.6"/><circle cx="425" cy="391.2" r="1.6"/><circle cx="427.5" cy="398.7" r="1.6"/><circle cx="425.6" cy="401.7" r="1.6"/><circle cx="424.6" cy="403" r="1.6"/><circle cx="423.7" cy="400.7" r="1.6"/><circle cx="424.3" cy="406.3" r="1.6"/><circle cx="425.9" cy="407" r="1.6"/><circle cx="426.8" cy="403.6" r="1.6"/><circle cx="428.5" cy="396.6" r="1.6"/><circle cx="428.7" cy="399.1" r="1.6"/><circle cx="426.7" cy="406.4" r="1.6"/><circle cx="425.3" cy="406.7" r="1.6"/><circle cx="428.4" cy="404.9" r="1.6"/><circle cx="424.7" cy="397.1" r="1.6"/><circle cx="426.5" cy="400.7" r="1.6"/><circle cx="423.5" cy="409.7" r="1.6"/><circle cx="422.3" cy="416.4" r="1.6"/><circle cx="423.3" cy="409.6" r="1.6"/><circle cx="422.1" cy="413.5" r="1.6"/><circle cx="424.2" cy="413.2" r="1.6"/><circle cx="424.1" cy="412.8" r="1.6"/><circle cx="420.4" cy="415.5" r="1.6"/><circle cx="421.1" cy="416.7" r="1.6"/><circle cx="426.7" cy="409.6" r="1.6"/><circle cx="422.3" cy="416.5" r="1.6"/><circle cx="424.3" cy="417.2" r="1.6"/><circle cx="423.8" cy="417.1" r="1.6"/><circle cx="423.9" cy="416.2" r="1.6"/><circle cx="418.1" cy="415.7" r="1.6"/><circle cx="419.3" cy="414.1" r="1.6"/><circle cx="418" cy="417.4" r="1.6"/><circle cx="420.9" cy="417" r="1.6"/><circle cx="417.8" cy="414.1" r="1.6"/><circle cx="416.7" cy="418.3" r="1.6"/><circle cx="414.8" cy="414.8" r="1.6"/><circle cx="414.6" cy="414.9" r="1.6"/><circle cx="414.7" cy="416.2" r="1.6"/><circle cx="413.6" cy="415.2" r="1.6"/><circle cx="412.4" cy="415.7" r="1.6"/><circle cx="410.6" cy="417.9" r="1.6"/><circle cx="408.4" cy="415.3" r="1.6"/><circle cx="409.1" cy="415.8" r="1.6"/><circle cx="408.7" cy="417.9" r="1.6"/><circle cx="404.9" cy="420" r="1.6"/><circle cx="407.7" cy="414.4" r="1.6"/><circle cx="404.7" cy="416.7" r="1.6"/><circle cx="398.6" cy="416.2" r="1.6"/><circle cx="402.5" cy="414.8" r="1.6"/><circle cx="398.5" cy="416.9" r="1.6"/><circle cx="401.5" cy="416.8" r="1.6"/><circle cx="399.4" cy="418.7" r="1.6"/><circle cx="401.5" cy="415.3" r="1.6"/><circle cx="395.2" cy="419.2" r="1.6"/><circle cx="395.1" cy="417.9" r="1.6"/><circle cx="394.1" cy="416.9" r="1.6"/><circle cx="393.9" cy="415.7" r="1.6"/><circle cx="394.3" cy="419.1" r="1.6"/><circle cx="396.9" cy="416.1" r="1.6"/><circle cx="386.7" cy="419.5" r="1.6"/><circle cx="392.1" cy="418.1" r="1.6"/><circle cx="388.3" cy="418.9" r="1.6"/><circle cx="389.7" cy="415.1" r="1.6"/><circle cx="390.4" cy="418.4" r="1.6"/><circle cx="388.1" cy="415.3" r="1.6"/><circle cx="383" cy="416.6" r="1.6"/><circle cx="383.9" cy="413.2" r="1.6"/><circle cx="384.7" cy="415.2" r="1.6"/><circle cx="383.7" cy="415" r="1.6"/><circle cx="386" cy="417.6" r="1.6"/><circle cx="384.8" cy="417.9" r="1.6"/><circle cx="377.9" cy="415" r="1.6"/><circle cx="374" cy="412.3" r="1.6"/><circle cx="374.7" cy="412.1" r="1.6"/><circle cx="373.1" cy="411.7" r="1.6"/><circle cx="374.6" cy="413.7" r="1.6"/><circle cx="378.9" cy="414.3" r="1.6"/><circle cx="376.4" cy="414.1" r="1.6"/><circle cx="379.3" cy="415" r="1.6"/><circle cx="369.9" cy="416.8" r="1.6"/><circle cx="369.3" cy="413.9" r="1.6"/><circle cx="370.4" cy="416.8" r="1.6"/><circle cx="369.7" cy="415.1" r="1.6"/><circle cx="366.2" cy="413.7" r="1.6"/><circle cx="366.7" cy="413" r="1.6"/><circle cx="371.2" cy="411.7" r="1.6"/><circle cx="362.9" cy="416.1" r="1.6"/><circle cx="364.4" cy="413.8" r="1.6"/><circle cx="361.7" cy="412.7" r="1.6"/><circle cx="364.6" cy="414.3" r="1.6"/><circle cx="363" cy="416.5" r="1.6"/><circle cx="354.7" cy="413.6" r="1.6"/><circle cx="356.5" cy="414.1" r="1.6"/><circle cx="358.8" cy="413.6" r="1.6"/><circle cx="354.8" cy="413.9" r="1.6"/><circle cx="351.1" cy="419.7" r="1.6"/><circle cx="354.4" cy="418" r="1.6"/><circle cx="351.7" cy="415.8" r="1.6"/><circle cx="347.8" cy="417.7" r="1.6"/><circle cx="349.8" cy="416.4" r="1.6"/><circle cx="348.9" cy="416.5" r="1.6"/><circle cx="347.4" cy="419.5" r="1.6"/><circle cx="347.5" cy="418.6" r="1.6"/><circle cx="348" cy="421" r="1.6"/><circle cx="349.2" cy="422.3" r="1.6"/><circle cx="345.9" cy="420.6" r="1.6"/><circle cx="348.6" cy="422.7" r="1.6"/><circle cx="344.3" cy="424.7" r="1.6"/><circle cx="344.3" cy="425.8" r="1.6"/><circle cx="342" cy="424.3" r="1.6"/><circle cx="338.8" cy="422.2" r="1.6"/><circle cx="344.2" cy="424.4" r="1.6"/><circle cx="341.1" cy="425.2" r="1.6"/><circle cx="338.2" cy="424.2" r="1.6"/><circle cx="338.8" cy="424" r="1.6"/><circle cx="338.1" cy="424.6" r="1.6"/><circle cx="338.3" cy="423" r="1.6"/><circle cx="336.5" cy="421.5" r="1.6"/><circle cx="335.1" cy="423.5" r="1.6"/><circle cx="329.6" cy="422.1" r="1.6"/><circle cx="328.8" cy="424.8" r="1.6"/><circle cx="327.3" cy="424.6" r="1.6"/><circle cx="330.2" cy="426.5" r="1.6"/><circle cx="331.2" cy="426.6" r="1.6"/><circle cx="327.5" cy="428.2" r="1.6"/><circle cx="319" cy="428.4" r="1.6"/><circle cx="320.8" cy="429.6" r="1.6"/><circle cx="325.6" cy="429.3" r="1.6"/><circle cx="322.4" cy="430" r="1.6"/><circle cx="320.8" cy="426.2" r="1.6"/><circle cx="319.3" cy="427.8" r="1.6"/><circle cx="324.1" cy="427.7" r="1.6"/><circle cx="319.4" cy="429.3" r="1.6"/><circle cx="316" cy="427.9" r="1.6"/><circle cx="316.3" cy="427.9" r="1.6"/><circle cx="318" cy="430.6" r="1.6"/><circle cx="316.1" cy="427.6" r="1.6"/><circle cx="319.9" cy="432" r="1.6"/><circle cx="313.4" cy="429.9" r="1.6"/><circle cx="313.5" cy="431.4" r="1.6"/><circle cx="311.5" cy="431.2" r="1.6"/><circle cx="313.3" cy="430.7" r="1.6"/><circle cx="312.7" cy="428.6" r="1.6"/><circle cx="311.4" cy="329.9" r="1.6"/><circle cx="311.2" cy="348.8" r="1.6"/><circle cx="312.1" cy="383" r="1.6"/><circle cx="312.6" cy="407.7" r="1.6"/><circle cx="311.5" cy="355.7" r="1.6"/><circle cx="311.9" cy="342.7" r="1.6"/><circle cx="312.4" cy="404.7" r="1.6"/><circle cx="315" cy="382" r="1.6"/><circle cx="312.3" cy="393.7" r="1.6"/><circle cx="312.1" cy="341.7" r="1.6"/><circle cx="315.8" cy="360.7" r="1.6"/><circle cx="313.6" cy="417" r="1.6"/><circle cx="314.8" cy="410.8" r="1.6"/><circle cx="315.8" cy="422.9" r="1.6"/><circle cx="315.5" cy="355.4" r="1.6"/><circle cx="314.9" cy="341.1" r="1.6"/><circle cx="315" cy="341" r="1.6"/><circle cx="314.5" cy="404.8" r="1.6"/><circle cx="314.3" cy="432.8" r="1.6"/><circle cx="316.6" cy="392.4" r="1.6"/><circle cx="314.6" cy="339.6" r="1.6"/><circle cx="311.4" cy="434.1" r="1.6"/><circle cx="315.3" cy="409" r="1.6"/><circle cx="316.2" cy="431.4" r="1.6"/><circle cx="313.5" cy="356.2" r="1.6"/><circle cx="315.3" cy="378.8" r="1.6"/><circle cx="311.4" cy="402.6" r="1.6"/><circle cx="311.3" cy="393.3" r="1.6"/><circle cx="316" cy="336.8" r="1.6"/><circle cx="316.6" cy="341.1" r="1.6"/><circle cx="312.2" cy="356.1" r="1.6"/><circle cx="313.7" cy="357.8" r="1.6"/><circle cx="315.9" cy="344.9" r="1.6"/><circle cx="315.2" cy="374.9" r="1.6"/><circle cx="315.6" cy="390.3" r="1.6"/><circle cx="313.5" cy="356.4" r="1.6"/><circle cx="313.2" cy="348.6" r="1.6"/><circle cx="311.6" cy="368.4" r="1.6"/><circle cx="313.6" cy="345" r="1.6"/><circle cx="311.6" cy="398.3" r="1.6"/><circle cx="316.1" cy="393.4" r="1.6"/><circle cx="312.8" cy="397.5" r="1.6"/><circle cx="313.1" cy="331.9" r="1.6"/><circle cx="311.5" cy="361.4" r="1.6"/><circle cx="314.3" cy="348.8" r="1.6"/><circle cx="312.5" cy="383.4" r="1.6"/><circle cx="316.1" cy="399.2" r="1.6"/><circle cx="312.3" cy="366.1" r="1.6"/><circle cx="312.9" cy="406.9" r="1.6"/><circle cx="316" cy="336.2" r="1.6"/><circle cx="314" cy="419.2" r="1.6"/><circle cx="311.5" cy="397.4" r="1.6"/><circle cx="314.2" cy="324.8" r="1.6"/><circle cx="313.2" cy="347.1" r="1.6"/><circle cx="311.4" cy="415.1" r="1.6"/><circle cx="316.3" cy="415" r="1.6"/><circle cx="316.6" cy="384.5" r="1.6"/><circle cx="314.4" cy="381.4" r="1.6"/><circle cx="314.4" cy="329.4" r="1.6"/><circle cx="312.4" cy="340.9" r="1.6"/><circle cx="315.4" cy="369.8" r="1.6"/><circle cx="314" cy="400.7" r="1.6"/><circle cx="313.1" cy="390.8" r="1.6"/><circle cx="314.9" cy="378.7" r="1.6"/><circle cx="311.2" cy="367.5" r="1.6"/><circle cx="314.9" cy="411.9" r="1.6"/><circle cx="316.2" cy="432.8" r="1.6"/><circle cx="314.4" cy="428" r="1.6"/><circle cx="312.9" cy="342.3" r="1.6"/><circle cx="312.1" cy="328.1" r="1.6"/><circle cx="313.5" cy="369.8" r="1.6"/><circle cx="314.6" cy="432.7" r="1.6"/><circle cx="313.3" cy="405.4" r="1.6"/><circle cx="313.7" cy="426.9" r="1.6"/><circle cx="314" cy="392.9" r="1.6"/><circle cx="316.1" cy="389.7" r="1.6"/><circle cx="312.3" cy="353.9" r="1.6"/><circle cx="316.1" cy="368.5" r="1.6"/><circle cx="311.9" cy="368.4" r="1.6"/><circle cx="312.5" cy="325.9" r="1.6"/><circle cx="311.9" cy="429.1" r="1.6"/><circle cx="315.2" cy="361.1" r="1.6"/><circle cx="312.2" cy="333.2" r="1.6"/><circle cx="315.3" cy="335.9" r="1.6"/><circle cx="314.6" cy="370.8" r="1.6"/><circle cx="312.5" cy="401.6" r="1.6"/><circle cx="314.9" cy="366.5" r="1.6"/><circle cx="311.6" cy="374.5" r="1.6"/><circle cx="311.7" cy="371.9" r="1.6"/><circle cx="311.2" cy="372" r="1.6"/><circle cx="314.2" cy="430.9" r="1.6"/><circle cx="312.7" cy="373.5" r="1.6"/><circle cx="313.3" cy="327.8" r="1.6"/><circle cx="313.2" cy="381.7" r="1.6"/><circle cx="312.8" cy="375.6" r="1.6"/><circle cx="316.6" cy="330.2" r="1.6"/><circle cx="311.9" cy="399" r="1.6"/><circle cx="312.4" cy="427.6" r="1.6"/><circle cx="313.1" cy="430.7" r="1.6"/><circle cx="315.4" cy="346.3" r="1.6"/><circle cx="315.5" cy="392.3" r="1.6"/><circle cx="313.8" cy="356.8" r="1.6"/><circle cx="314.9" cy="367.7" r="1.6"/><circle cx="425.9" cy="349.9" r="1.6"/><circle cx="424.6" cy="421.3" r="1.6"/><circle cx="438.1" cy="362.2" r="1.6"/><circle cx="417.5" cy="414.3" r="1.6"/><circle cx="435.2" cy="405" r="1.6"/><circle cx="451.7" cy="382.8" r="1.6"/><circle cx="449.3" cy="366.5" r="1.6"/><circle cx="461.2" cy="415.9" r="1.6"/><circle cx="422.6" cy="402.2" r="1.6"/><circle cx="441.4" cy="389.6" r="1.6"/><circle cx="435.5" cy="368.8" r="1.6"/><circle cx="434.1" cy="417.2" r="1.6"/><circle cx="464.8" cy="391.4" r="1.6"/><circle cx="429" cy="354.9" r="1.6"/><circle cx="464.3" cy="402.4" r="1.6"/><circle cx="440.5" cy="411.2" r="1.6"/><circle cx="432.2" cy="385.1" r="1.6"/><circle cx="436.4" cy="405.2" r="1.6"/><circle cx="430.2" cy="368.3" r="1.6"/><circle cx="443.7" cy="369.4" r="1.6"/><circle cx="431.6" cy="348.1" r="1.6"/><circle cx="422.2" cy="354.7" r="1.6"/><circle cx="458.5" cy="370.3" r="1.6"/><circle cx="425.2" cy="390.9" r="1.6"/><circle cx="432.2" cy="415.6" r="1.6"/><circle cx="420.4" cy="417.5" r="1.6"/><circle cx="442.4" cy="407.2" r="1.6"/><circle cx="431.4" cy="351.2" r="1.6"/><circle cx="462.2" cy="419.4" r="1.6"/><circle cx="437.1" cy="360.9" r="1.6"/><circle cx="443.5" cy="368.6" r="1.6"/><circle cx="427.1" cy="371.8" r="1.6"/><circle cx="422.1" cy="357.9" r="1.6"/><circle cx="423.2" cy="380.3" r="1.6"/><circle cx="447.4" cy="360.9" r="1.6"/><circle cx="457.5" cy="369.7" r="1.6"/><circle cx="436" cy="408.6" r="1.6"/><circle cx="421.7" cy="397.7" r="1.6"/><circle cx="424.8" cy="342.3" r="1.6"/><circle cx="433.4" cy="371.6" r="1.6"/><circle cx="428.5" cy="410.9" r="1.6"/><circle cx="422.7" cy="394.3" r="1.6"/><circle cx="426.9" cy="356" r="1.6"/><circle cx="431.8" cy="370.6" r="1.6"/><circle cx="428.1" cy="371" r="1.6"/><circle cx="431.6" cy="421.6" r="1.6"/><circle cx="443.3" cy="361.9" r="1.6"/><circle cx="436.3" cy="390.9" r="1.6"/><circle cx="420.3" cy="356.7" r="1.6"/><circle cx="429" cy="381.3" r="1.6"/><circle cx="435.3" cy="353.1" r="1.6"/><circle cx="427.8" cy="361.1" r="1.6"/><circle cx="424.6" cy="398.6" r="1.6"/><circle cx="423.1" cy="366.6" r="1.6"/><circle cx="425.8" cy="404.5" r="1.6"/><circle cx="423.6" cy="353.1" r="1.6"/><circle cx="422.9" cy="376.1" r="1.6"/><circle cx="422" cy="362.6" r="1.6"/><circle cx="451.6" cy="392" r="1.6"/><circle cx="424.8" cy="415.2" r="1.6"/><circle cx="447.9" cy="371.7" r="1.6"/><circle cx="424.2" cy="405.9" r="1.6"/><circle cx="434.2" cy="417" r="1.6"/><circle cx="422.6" cy="343.9" r="1.6"/><circle cx="442.8" cy="363.2" r="1.6"/><circle cx="422.6" cy="371.9" r="1.6"/><circle cx="457.3" cy="365.7" r="1.6"/><circle cx="457.5" cy="400.1" r="1.6"/><circle cx="427.9" cy="364.2" r="1.6"/><circle cx="445.6" cy="398.2" r="1.6"/><circle cx="470.1" cy="421.9" r="1.6"/><circle cx="436" cy="374.2" r="1.6"/><circle cx="434.1" cy="409.7" r="1.6"/><circle cx="428.9" cy="378.8" r="1.6"/><circle cx="419.4" cy="410.2" r="1.6"/><circle cx="436.1" cy="420" r="1.6"/><circle cx="434.2" cy="397.1" r="1.6"/><circle cx="432.7" cy="381.7" r="1.6"/><circle cx="443.1" cy="368.8" r="1.6"/><circle cx="426.6" cy="377.8" r="1.6"/><circle cx="443.1" cy="418.8" r="1.6"/><circle cx="420.4" cy="401.2" r="1.6"/><circle cx="423.1" cy="399.6" r="1.6"/><circle cx="430.7" cy="371.9" r="1.6"/><circle cx="435.5" cy="369.4" r="1.6"/><circle cx="421.1" cy="417" r="1.6"/><circle cx="444.7" cy="372.3" r="1.6"/><circle cx="421.4" cy="411.5" r="1.6"/><circle cx="422.3" cy="369.8" r="1.6"/><circle cx="451.6" cy="395" r="1.6"/><circle cx="422.6" cy="341.1" r="1.6"/><circle cx="433.2" cy="394.7" r="1.6"/><circle cx="427.6" cy="363.5" r="1.6"/><circle cx="421.4" cy="359.1" r="1.6"/><circle cx="436.4" cy="375.7" r="1.6"/><circle cx="434.9" cy="369.7" r="1.6"/><circle cx="446.7" cy="369.7" r="1.6"/><circle cx="430.9" cy="421.3" r="1.6"/><circle cx="422.5" cy="388.1" r="1.6"/><circle cx="422" cy="369.2" r="1.6"/><circle cx="423.9" cy="364.9" r="1.6"/><circle cx="434.7" cy="351.3" r="1.6"/><circle cx="432.3" cy="397.5" r="1.6"/><circle cx="467.7" cy="398.5" r="1.6"/><circle cx="432.1" cy="395.1" r="1.6"/><circle cx="433.6" cy="417.3" r="1.6"/><circle cx="436.9" cy="405.6" r="1.6"/><circle cx="464.1" cy="376.4" r="1.6"/><circle cx="460.3" cy="418.8" r="1.6"/><circle cx="423.5" cy="357.4" r="1.6"/><circle cx="432.7" cy="364.2" r="1.6"/><circle cx="431.5" cy="418.8" r="1.6"/><circle cx="436.3" cy="351.7" r="1.6"/><circle cx="459" cy="384.7" r="1.6"/><circle cx="434.5" cy="350.3" r="1.6"/><circle cx="424.4" cy="410.7" r="1.6"/><circle cx="449.6" cy="382.8" r="1.6"/><circle cx="419.7" cy="414.1" r="1.6"/><circle cx="462.6" cy="392.1" r="1.6"/><circle cx="420.8" cy="341.4" r="1.6"/><circle cx="422.1" cy="358.5" r="1.6"/><circle cx="411" cy="337" r="1.6"/><circle cx="421.4" cy="418.5" r="1.6"/><circle cx="467.4" cy="399.3" r="1.6"/><circle cx="432.7" cy="403.9" r="1.6"/><circle cx="420.9" cy="362.1" r="1.6"/><circle cx="458.3" cy="410.1" r="1.6"/><circle cx="436.1" cy="389" r="1.6"/><circle cx="432.8" cy="415.6" r="1.6"/><circle cx="455" cy="407" r="1.6"/><circle cx="432.1" cy="362.7" r="1.6"/><circle cx="426.8" cy="409.5" r="1.6"/><circle cx="418.3" cy="409.2" r="1.6"/><circle cx="426.1" cy="386.3" r="1.6"/><circle cx="438.9" cy="419.7" r="1.6"/><circle cx="451.9" cy="373.6" r="1.6"/><circle cx="436.4" cy="359.2" r="1.6"/><circle cx="417.6" cy="343.9" r="1.6"/><circle cx="429.9" cy="402.1" r="1.6"/><circle cx="428.2" cy="371.2" r="1.6"/><circle cx="438.3" cy="390.6" r="1.6"/><circle cx="424.4" cy="351.2" r="1.6"/><circle cx="424.9" cy="363.1" r="1.6"/><circle cx="429.4" cy="349.8" r="1.6"/><circle cx="445.8" cy="411" r="1.6"/><circle cx="438.7" cy="405.6" r="1.6"/><circle cx="418.8" cy="347.7" r="1.6"/><circle cx="428.8" cy="355.1" r="1.6"/><circle cx="433.9" cy="361.6" r="1.6"/><circle cx="424.7" cy="406.9" r="1.6"/><circle cx="435.6" cy="420.3" r="1.6"/><circle cx="448.1" cy="402.4" r="1.6"/><circle cx="447.9" cy="389.3" r="1.6"/><circle cx="431.4" cy="349.4" r="1.6"/><circle cx="424.9" cy="393" r="1.6"/><circle cx="428.9" cy="367.8" r="1.6"/><circle cx="433.7" cy="401.9" r="1.6"/><circle cx="418.4" cy="409.7" r="1.6"/><circle cx="421.5" cy="385.2" r="1.6"/><circle cx="445.4" cy="365.6" r="1.6"/><circle cx="426.6" cy="394.8" r="1.6"/><circle cx="477.3" cy="390.3" r="1.6"/><circle cx="432.1" cy="378.2" r="1.6"/><circle cx="465" cy="426.9" r="1.6"/><circle cx="433" cy="349.9" r="1.6"/><circle cx="452" cy="407.8" r="1.6"/><circle cx="465.4" cy="372.8" r="1.6"/><circle cx="450" cy="379.6" r="1.6"/><circle cx="477.5" cy="387.3" r="1.6"/><circle cx="431" cy="351.9" r="1.6"/><circle cx="437.7" cy="389.2" r="1.6"/><circle cx="463" cy="403.4" r="1.6"/><circle cx="428.9" cy="409.2" r="1.6"/><circle cx="438.3" cy="400.3" r="1.6"/><circle cx="426.4" cy="368.6" r="1.6"/><circle cx="426.5" cy="414.2" r="1.6"/><circle cx="422.6" cy="373.2" r="1.6"/><circle cx="442.7" cy="358.9" r="1.6"/><circle cx="440.7" cy="414.2" r="1.6"/><circle cx="443.6" cy="385.6" r="1.6"/><circle cx="431" cy="360.1" r="1.6"/><circle cx="421.5" cy="390" r="1.6"/><circle cx="435.3" cy="419.4" r="1.6"/><circle cx="436" cy="421.7" r="1.6"/><circle cx="465.5" cy="406.8" r="1.6"/><circle cx="423" cy="369.8" r="1.6"/><circle cx="434.6" cy="385.4" r="1.6"/><circle cx="423.1" cy="413.9" r="1.6"/><circle cx="438" cy="355.2" r="1.6"/><circle cx="435.5" cy="388.3" r="1.6"/><circle cx="435.9" cy="385.2" r="1.6"/><circle cx="425.8" cy="348.8" r="1.6"/><circle cx="419.3" cy="348.7" r="1.6"/><circle cx="440.6" cy="421.3" r="1.6"/><circle cx="419.6" cy="403.2" r="1.6"/><circle cx="436.4" cy="368.6" r="1.6"/><circle cx="426.3" cy="401.4" r="1.6"/><circle cx="424.7" cy="419.9" r="1.6"/><circle cx="427.9" cy="374.4" r="1.6"/><circle cx="430.5" cy="371.4" r="1.6"/><circle cx="435.2" cy="407.3" r="1.6"/><circle cx="436.9" cy="408.4" r="1.6"/><circle cx="424.8" cy="397.5" r="1.6"/><circle cx="429.2" cy="354.1" r="1.6"/><circle cx="424.3" cy="375.7" r="1.6"/><circle cx="420.1" cy="418" r="1.6"/><circle cx="475.3" cy="408.2" r="1.6"/><circle cx="450.2" cy="359" r="1.6"/><circle cx="421.5" cy="395.3" r="1.6"/><circle cx="419.3" cy="409.4" r="1.6"/><circle cx="473.8" cy="391.6" r="1.6"/><circle cx="431.3" cy="351.1" r="1.6"/><circle cx="453.5" cy="404.4" r="1.6"/><circle cx="423.5" cy="420.1" r="1.6"/><circle cx="440.6" cy="390.7" r="1.6"/><circle cx="421.4" cy="392.1" r="1.6"/><circle cx="429.6" cy="354.2" r="1.6"/><circle cx="425.2" cy="344.7" r="1.6"/><circle cx="452.7" cy="384.6" r="1.6"/><circle cx="434.9" cy="394.7" r="1.6"/><circle cx="432.2" cy="402.2" r="1.6"/><circle cx="460.9" cy="423.7" r="1.6"/><circle cx="424.1" cy="363.7" r="1.6"/><circle cx="420.4" cy="406.1" r="1.6"/><circle cx="432.3" cy="348.7" r="1.6"/><circle cx="435.9" cy="355.9" r="1.6"/><circle cx="424.2" cy="413.7" r="1.6"/><circle cx="418" cy="413.3" r="1.6"/><circle cx="422.7" cy="394.1" r="1.6"/><circle cx="440.4" cy="410" r="1.6"/><circle cx="463.4" cy="417.4" r="1.6"/><circle cx="439.2" cy="376.8" r="1.6"/><circle cx="435.1" cy="371.1" r="1.6"/><circle cx="427.8" cy="386.4" r="1.6"/><circle cx="433.5" cy="408" r="1.6"/><circle cx="439.9" cy="396.1" r="1.6"/><circle cx="432.9" cy="353.8" r="1.6"/><circle cx="423.7" cy="380.9" r="1.6"/><circle cx="424.3" cy="353.3" r="1.6"/><circle cx="463.7" cy="372.9" r="1.6"/><circle cx="432.2" cy="387.9" r="1.6"/><circle cx="440.7" cy="406.5" r="1.6"/><circle cx="447" cy="379.7" r="1.6"/><circle cx="446.4" cy="395.8" r="1.6"/><circle cx="436.8" cy="413" r="1.6"/><circle cx="441.7" cy="362.1" r="1.6"/><circle cx="427.5" cy="366.1" r="1.6"/><circle cx="445.1" cy="381" r="1.6"/><circle cx="431.4" cy="372.9" r="1.6"/><circle cx="429.2" cy="385.7" r="1.6"/><circle cx="433.5" cy="367.5" r="1.6"/><circle cx="450.2" cy="383.6" r="1.6"/><circle cx="440.7" cy="386.7" r="1.6"/><circle cx="435.6" cy="398.2" r="1.6"/><circle cx="460.3" cy="373.6" r="1.6"/><circle cx="466.6" cy="416.4" r="1.6"/><circle cx="420.1" cy="407.3" r="1.6"/><circle cx="423.9" cy="354.1" r="1.6"/><circle cx="456.4" cy="384.3" r="1.6"/><circle cx="419.3" cy="341.9" r="1.6"/><circle cx="430.8" cy="350.6" r="1.6"/><circle cx="439" cy="422.8" r="1.6"/><circle cx="419.7" cy="343" r="1.6"/><circle cx="428.6" cy="380.4" r="1.6"/><circle cx="427.2" cy="402.7" r="1.6"/><circle cx="427" cy="383.4" r="1.6"/><circle cx="428.9" cy="385.6" r="1.6"/><circle cx="462.4" cy="380.7" r="1.6"/><circle cx="423.7" cy="405.9" r="1.6"/><circle cx="422.1" cy="370.9" r="1.6"/><circle cx="428.4" cy="384" r="1.6"/><circle cx="427.8" cy="372.3" r="1.6"/><circle cx="464" cy="423.4" r="1.6"/><circle cx="425.5" cy="415.5" r="1.6"/><circle cx="434.9" cy="407.7" r="1.6"/><circle cx="432.1" cy="390.2" r="1.6"/><circle cx="427.4" cy="366.2" r="1.6"/><circle cx="423.8" cy="398" r="1.6"/><circle cx="438.4" cy="370.1" r="1.6"/><circle cx="429.7" cy="420.7" r="1.6"/><circle cx="453.7" cy="398.4" r="1.6"/><circle cx="439.1" cy="372.9" r="1.6"/><circle cx="434.2" cy="380.6" r="1.6"/><circle cx="445.6" cy="395.3" r="1.6"/><circle cx="449.5" cy="394.2" r="1.6"/><circle cx="443" cy="407.8" r="1.6"/><circle cx="457.6" cy="417.9" r="1.6"/><circle cx="429.1" cy="364" r="1.6"/><circle cx="436.2" cy="410.7" r="1.6"/><circle cx="433.1" cy="413.8" r="1.6"/><circle cx="450.9" cy="391.5" r="1.6"/><circle cx="448.9" cy="384.4" r="1.6"/><circle cx="427.5" cy="405.4" r="1.6"/><circle cx="420.8" cy="359.2" r="1.6"/><circle cx="420.3" cy="395.7" r="1.6"/><circle cx="436.3" cy="372.9" r="1.6"/><circle cx="449.9" cy="402.4" r="1.6"/><circle cx="452.6" cy="425" r="1.6"/><circle cx="444.1" cy="384.5" r="1.6"/><circle cx="454.4" cy="388.1" r="1.6"/><circle cx="457.5" cy="419.6" r="1.6"/><circle cx="457.8" cy="381.9" r="1.6"/><circle cx="442.8" cy="385.2" r="1.6"/><circle cx="432.7" cy="403.2" r="1.6"/><circle cx="439.5" cy="358.2" r="1.6"/><circle cx="457.6" cy="410.4" r="1.6"/><circle cx="422.6" cy="397.4" r="1.6"/><circle cx="425.9" cy="387.2" r="1.6"/><circle cx="449.5" cy="417.8" r="1.6"/><circle cx="439" cy="422.3" r="1.6"/><circle cx="451.7" cy="384.8" r="1.6"/><circle cx="436.6" cy="377.8" r="1.6"/><circle cx="450.2" cy="414.1" r="1.6"/><circle cx="428.9" cy="392" r="1.6"/><circle cx="444.2" cy="401.4" r="1.6"/><circle cx="447.1" cy="369.8" r="1.6"/><circle cx="459" cy="409.3" r="1.6"/><circle cx="422.8" cy="410.6" r="1.6"/><circle cx="434.7" cy="416.6" r="1.6"/><circle cx="470.7" cy="416.6" r="1.6"/><circle cx="434.9" cy="368" r="1.6"/><circle cx="431.9" cy="412.2" r="1.6"/><circle cx="429.5" cy="361.4" r="1.6"/><circle cx="424.7" cy="360.7" r="1.6"/><circle cx="451.6" cy="409.8" r="1.6"/><circle cx="447.8" cy="392.3" r="1.6"/><circle cx="423.3" cy="403.7" r="1.6"/><circle cx="447.7" cy="410.1" r="1.6"/><circle cx="424.2" cy="408.4" r="1.6"/><circle cx="437.2" cy="353" r="1.6"/><circle cx="433.4" cy="352.3" r="1.6"/><circle cx="436.4" cy="401.8" r="1.6"/><circle cx="423.3" cy="395.4" r="1.6"/><circle cx="420.7" cy="409.8" r="1.6"/><circle cx="437.7" cy="361.7" r="1.6"/><circle cx="471.7" cy="392.4" r="1.6"/><circle cx="422.1" cy="379.1" r="1.6"/><circle cx="425.1" cy="397.8" r="1.6"/><circle cx="439.1" cy="408" r="1.6"/><circle cx="436.1" cy="367.3" r="1.6"/><circle cx="422" cy="397.9" r="1.6"/><circle cx="466.2" cy="404.2" r="1.6"/><circle cx="432.8" cy="380.3" r="1.6"/><circle cx="420.9" cy="355" r="1.6"/><circle cx="429.6" cy="395.4" r="1.6"/><circle cx="427.1" cy="359.6" r="1.6"/><circle cx="433.7" cy="346.4" r="1.6"/><circle cx="427.4" cy="365.3" r="1.6"/><circle cx="431.7" cy="345.3" r="1.6"/><circle cx="469.9" cy="377.6" r="1.6"/><circle cx="461.3" cy="421.1" r="1.6"/><circle cx="439.3" cy="379" r="1.6"/><circle cx="444.5" cy="401.1" r="1.6"/><circle cx="441" cy="354.6" r="1.6"/><circle cx="453.5" cy="381" r="1.6"/><circle cx="459" cy="395.7" r="1.6"/><circle cx="470.1" cy="398.9" r="1.6"/><circle cx="455.5" cy="363" r="1.6"/><circle cx="450.3" cy="386.1" r="1.6"/><circle cx="441.7" cy="396.5" r="1.6"/><circle cx="424.7" cy="401.4" r="1.6"/><circle cx="449.1" cy="388.8" r="1.6"/><circle cx="446.7" cy="407.8" r="1.6"/><circle cx="436.1" cy="356.1" r="1.6"/><circle cx="434.7" cy="371.8" r="1.6"/><circle cx="429.9" cy="386.7" r="1.6"/><circle cx="459.2" cy="397.3" r="1.6"/><circle cx="434.8" cy="413.1" r="1.6"/><circle cx="438.3" cy="413.3" r="1.6"/><circle cx="457.3" cy="419.4" r="1.6"/><circle cx="450.1" cy="376" r="1.6"/><circle cx="431.5" cy="407.8" r="1.6"/><circle cx="450.6" cy="359.4" r="1.6"/><circle cx="458.2" cy="402.6" r="1.6"/><circle cx="431.6" cy="400.6" r="1.6"/><circle cx="454.6" cy="394.5" r="1.6"/><circle cx="458" cy="366.6" r="1.6"/><circle cx="450.7" cy="371.7" r="1.6"/><circle cx="421.2" cy="420.2" r="1.6"/><circle cx="457.3" cy="368.6" r="1.6"/><circle cx="440.9" cy="364.4" r="1.6"/><circle cx="435" cy="416.2" r="1.6"/><circle cx="418.7" cy="344.2" r="1.6"/><circle cx="421.1" cy="400.9" r="1.6"/><circle cx="442.9" cy="398.2" r="1.6"/><circle cx="441.6" cy="382.6" r="1.6"/><circle cx="469.8" cy="398.8" r="1.6"/><circle cx="451.7" cy="389" r="1.6"/><circle cx="467.6" cy="426.7" r="1.6"/><circle cx="433.8" cy="364" r="1.6"/><circle cx="448.1" cy="412.3" r="1.6"/><circle cx="435.2" cy="407.5" r="1.6"/><circle cx="431.1" cy="350.1" r="1.6"/><circle cx="436.1" cy="374.6" r="1.6"/><circle cx="476.1" cy="386.9" r="1.6"/><circle cx="434.2" cy="376.1" r="1.6"/><circle cx="425.2" cy="353.8" r="1.6"/><circle cx="427.7" cy="346.5" r="1.6"/><circle cx="445.6" cy="388.1" r="1.6"/><circle cx="446.2" cy="388.6" r="1.6"/><circle cx="423.2" cy="401.7" r="1.6"/><circle cx="437" cy="409.9" r="1.6"/><circle cx="427.5" cy="404.4" r="1.6"/><circle cx="431.5" cy="381.9" r="1.6"/><circle cx="430.6" cy="357.6" r="1.6"/><circle cx="452.5" cy="375.4" r="1.6"/><circle cx="428.6" cy="415.6" r="1.6"/><circle cx="422.8" cy="396.5" r="1.6"/><circle cx="429.1" cy="344.9" r="1.6"/><circle cx="438.6" cy="390.6" r="1.6"/><circle cx="431.8" cy="418.4" r="1.6"/><circle cx="429.6" cy="373.9" r="1.6"/><circle cx="444.3" cy="401.2" r="1.6"/><circle cx="424.3" cy="354" r="1.6"/><circle cx="445.9" cy="398.5" r="1.6"/><circle cx="455.1" cy="407.1" r="1.6"/><circle cx="425.3" cy="347.9" r="1.6"/><circle cx="432.8" cy="390.6" r="1.6"/><circle cx="422" cy="379.6" r="1.6"/><circle cx="424.1" cy="391.9" r="1.6"/><circle cx="423.4" cy="354.3" r="1.6"/><circle cx="430.7" cy="385.7" r="1.6"/><circle cx="436.3" cy="416.4" r="1.6"/><circle cx="421.6" cy="417.2" r="1.6"/><circle cx="435.4" cy="348.7" r="1.6"/><circle cx="468.6" cy="387.1" r="1.6"/><circle cx="437.6" cy="350.3" r="1.6"/><circle cx="439" cy="395.4" r="1.6"/><circle cx="433" cy="349.7" r="1.6"/><circle cx="426.8" cy="348.8" r="1.6"/><circle cx="451.4" cy="419.6" r="1.6"/><circle cx="433.9" cy="367.6" r="1.6"/><circle cx="430.7" cy="353.3" r="1.6"/><circle cx="440.9" cy="379.4" r="1.6"/><circle cx="444.9" cy="388.8" r="1.6"/><circle cx="423.4" cy="414.9" r="1.6"/><circle cx="448.8" cy="382.9" r="1.6"/><circle cx="426.7" cy="402.6" r="1.6"/><circle cx="428.6" cy="410" r="1.6"/><circle cx="430.7" cy="360.8" r="1.6"/><circle cx="431.3" cy="359.5" r="1.6"/><circle cx="434.3" cy="404.9" r="1.6"/><circle cx="437.2" cy="379.5" r="1.6"/><circle cx="441.2" cy="377.8" r="1.6"/><circle cx="426" cy="350.9" r="1.6"/><circle cx="435.3" cy="359.5" r="1.6"/><circle cx="434.2" cy="398.2" r="1.6"/><circle cx="437.9" cy="354.6" r="1.6"/><circle cx="433.7" cy="389.3" r="1.6"/><circle cx="434.5" cy="384.6" r="1.6"/><circle cx="491.9" cy="409.9" r="1.6"/><circle cx="421.1" cy="350.7" r="1.6"/><circle cx="433.4" cy="365.1" r="1.6"/><circle cx="429.3" cy="376.2" r="1.6"/><circle cx="424.8" cy="375.1" r="1.6"/><circle cx="438.5" cy="395.8" r="1.6"/><circle cx="427.6" cy="364.7" r="1.6"/><circle cx="440.5" cy="415.2" r="1.6"/><circle cx="428.9" cy="379.9" r="1.6"/><circle cx="422" cy="371.5" r="1.6"/><circle cx="446" cy="421.6" r="1.6"/><circle cx="448" cy="371.3" r="1.6"/><circle cx="455.1" cy="422.7" r="1.6"/><circle cx="418.6" cy="413" r="1.6"/><circle cx="429.1" cy="404.5" r="1.6"/><circle cx="465.3" cy="424.1" r="1.6"/><circle cx="430.6" cy="407.2" r="1.6"/><circle cx="430.1" cy="388.1" r="1.6"/><circle cx="430.6" cy="353.3" r="1.6"/><circle cx="423.5" cy="348.6" r="1.6"/><circle cx="449" cy="363.6" r="1.6"/><circle cx="436.1" cy="411.2" r="1.6"/><circle cx="457" cy="383.8" r="1.6"/><circle cx="425.5" cy="388" r="1.6"/><circle cx="443.1" cy="372.2" r="1.6"/><circle cx="464.2" cy="409.8" r="1.6"/><circle cx="432.9" cy="420.6" r="1.6"/><circle cx="427.1" cy="387.6" r="1.6"/><circle cx="432.4" cy="380.4" r="1.6"/><circle cx="427" cy="405.4" r="1.6"/><circle cx="421.8" cy="413.7" r="1.6"/><circle cx="420.2" cy="402.1" r="1.6"/><circle cx="425.7" cy="369.9" r="1.6"/><circle cx="430.5" cy="387.6" r="1.6"/><circle cx="431" cy="390.4" r="1.6"/><circle cx="442.1" cy="357.5" r="1.6"/><circle cx="434.5" cy="371.4" r="1.6"/><circle cx="438.9" cy="383.8" r="1.6"/><circle cx="428.7" cy="405.5" r="1.6"/><circle cx="451.8" cy="413.1" r="1.6"/><circle cx="437.1" cy="358.1" r="1.6"/><circle cx="427.5" cy="384.5" r="1.6"/><circle cx="449.1" cy="392.5" r="1.6"/><circle cx="459.2" cy="372" r="1.6"/><circle cx="462.8" cy="371.8" r="1.6"/><circle cx="445.1" cy="410.6" r="1.6"/><circle cx="474.2" cy="385.9" r="1.6"/><circle cx="425.6" cy="357.3" r="1.6"/><circle cx="436.7" cy="394.5" r="1.6"/><circle cx="421" cy="394" r="1.6"/><circle cx="429.6" cy="396" r="1.6"/><circle cx="421.4" cy="387.3" r="1.6"/><circle cx="442.2" cy="406" r="1.6"/><circle cx="438.7" cy="352.6" r="1.6"/><circle cx="440.8" cy="405.6" r="1.6"/><circle cx="438.8" cy="406.9" r="1.6"/><circle cx="443.3" cy="420.2" r="1.6"/><circle cx="465.6" cy="376.5" r="1.6"/><circle cx="432.3" cy="355.4" r="1.6"/><circle cx="440.5" cy="390.8" r="1.6"/><circle cx="436.4" cy="411.6" r="1.6"/><circle cx="458.7" cy="382.4" r="1.6"/><circle cx="443.1" cy="386.2" r="1.6"/><circle cx="470" cy="386.6" r="1.6"/><circle cx="440.3" cy="391.6" r="1.6"/><circle cx="445.7" cy="404.1" r="1.6"/><circle cx="433.1" cy="359.7" r="1.6"/><circle cx="447.2" cy="359.5" r="1.6"/><circle cx="436.8" cy="360.4" r="1.6"/><circle cx="419.6" cy="351.6" r="1.6"/><circle cx="423.5" cy="368.7" r="1.6"/><circle cx="427.8" cy="355.1" r="1.6"/><circle cx="430.8" cy="368.7" r="1.6"/><circle cx="435.5" cy="418.5" r="1.6"/><circle cx="449.4" cy="412.4" r="1.6"/><circle cx="424.8" cy="389.4" r="1.6"/><circle cx="422.6" cy="375.3" r="1.6"/><circle cx="422.2" cy="363.8" r="1.6"/><circle cx="430.6" cy="408.2" r="1.6"/><circle cx="431" cy="384" r="1.6"/><circle cx="428.2" cy="377.2" r="1.6"/><circle cx="424.7" cy="412.8" r="1.6"/><circle cx="422.5" cy="408.9" r="1.6"/><circle cx="427.1" cy="384.1" r="1.6"/><circle cx="421" cy="407.6" r="1.6"/><circle cx="432.3" cy="415.5" r="1.6"/><circle cx="433.2" cy="381.9" r="1.6"/><circle cx="443" cy="396.3" r="1.6"/><circle cx="433.1" cy="385.3" r="1.6"/><circle cx="448.8" cy="417.4" r="1.6"/><circle cx="482.7" cy="397.7" r="1.6"/><circle cx="477.8" cy="404.2" r="1.6"/><circle cx="435.8" cy="403.1" r="1.6"/><circle cx="431.8" cy="409.9" r="1.6"/><circle cx="430.6" cy="391.9" r="1.6"/><circle cx="423.1" cy="391.8" r="1.6"/><circle cx="438" cy="350.6" r="1.6"/><circle cx="437.3" cy="394.1" r="1.6"/><circle cx="422.8" cy="401.1" r="1.6"/><circle cx="435" cy="366.8" r="1.6"/><circle cx="437.9" cy="386.4" r="1.6"/><circle cx="430.4" cy="418.8" r="1.6"/><circle cx="429.3" cy="380.9" r="1.6"/><circle cx="421.4" cy="350.6" r="1.6"/><circle cx="451.5" cy="369.5" r="1.6"/><circle cx="437.2" cy="382.9" r="1.6"/><circle cx="421.9" cy="405.5" r="1.6"/><circle cx="449.1" cy="398" r="1.6"/><circle cx="433.3" cy="378.8" r="1.6"/><circle cx="437.2" cy="411.4" r="1.6"/><circle cx="431.5" cy="396.8" r="1.6"/><circle cx="457.7" cy="413.4" r="1.6"/><circle cx="430.2" cy="355.6" r="1.6"/><circle cx="440.7" cy="367.6" r="1.6"/><circle cx="424.2" cy="359.3" r="1.6"/><circle cx="446.1" cy="419.5" r="1.6"/><circle cx="449.4" cy="367.8" r="1.6"/><circle cx="421.1" cy="403.5" r="1.6"/><circle cx="429.5" cy="359.4" r="1.6"/><circle cx="477.8" cy="388.4" r="1.6"/><circle cx="426.5" cy="367.7" r="1.6"/><circle cx="423.5" cy="374.8" r="1.6"/><circle cx="434.3" cy="405.4" r="1.6"/><circle cx="435.9" cy="395.8" r="1.6"/><circle cx="450.9" cy="400" r="1.6"/><circle cx="426.9" cy="372.7" r="1.6"/><circle cx="424.5" cy="419.9" r="1.6"/><circle cx="460.4" cy="424.2" r="1.6"/><circle cx="416.7" cy="340.9" r="1.6"/><circle cx="432.9" cy="362.8" r="1.6"/><circle cx="436" cy="396.5" r="1.6"/><circle cx="442.1" cy="353.6" r="1.6"/><circle cx="426.5" cy="380.8" r="1.6"/><circle cx="433.7" cy="359" r="1.6"/><circle cx="433.9" cy="352.6" r="1.6"/><circle cx="423.7" cy="362.4" r="1.6"/><circle cx="424.3" cy="348" r="1.6"/><circle cx="434.7" cy="388.9" r="1.6"/><circle cx="440.7" cy="367.2" r="1.6"/><circle cx="435.7" cy="396.9" r="1.6"/><circle cx="430.7" cy="421.5" r="1.6"/><circle cx="426.2" cy="356.6" r="1.6"/><circle cx="462.7" cy="377.3" r="1.6"/><circle cx="439.1" cy="394" r="1.6"/><circle cx="439.8" cy="357.5" r="1.6"/><circle cx="425.3" cy="369.9" r="1.6"/><circle cx="429.4" cy="390.9" r="1.6"/><circle cx="434.8" cy="361" r="1.6"/><circle cx="425.6" cy="359.2" r="1.6"/><circle cx="429.1" cy="396.7" r="1.6"/><circle cx="417.3" cy="419.8" r="1.6"/><circle cx="425.9" cy="369.1" r="1.6"/><circle cx="422.2" cy="356.1" r="1.6"/><circle cx="423.3" cy="373.7" r="1.6"/><circle cx="444.6" cy="385.4" r="1.6"/><circle cx="425.9" cy="418.7" r="1.6"/><circle cx="418.9" cy="405.4" r="1.6"/><circle cx="430.9" cy="384.2" r="1.6"/><circle cx="423.2" cy="367" r="1.6"/><circle cx="454.6" cy="392.3" r="1.6"/><circle cx="430.6" cy="399.5" r="1.6"/><circle cx="425.5" cy="359" r="1.6"/><circle cx="468.4" cy="378.8" r="1.6"/><circle cx="435.6" cy="403.6" r="1.6"/><circle cx="424.2" cy="349.6" r="1.6"/><circle cx="442" cy="369.2" r="1.6"/><circle cx="433.1" cy="372.5" r="1.6"/><circle cx="478.4" cy="410.8" r="1.6"/><circle cx="424.8" cy="421.5" r="1.6"/><circle cx="419.4" cy="405.4" r="1.6"/><circle cx="439.6" cy="392.1" r="1.6"/><circle cx="428.1" cy="352.2" r="1.6"/><circle cx="419.2" cy="409" r="1.6"/><circle cx="451.2" cy="413" r="1.6"/><circle cx="432.7" cy="384.9" r="1.6"/><circle cx="426.9" cy="393.5" r="1.6"/><circle cx="443.5" cy="361.1" r="1.6"/><circle cx="438.3" cy="392.6" r="1.6"/><circle cx="422.3" cy="408.5" r="1.6"/><circle cx="447.8" cy="412.3" r="1.6"/><circle cx="429.3" cy="392.6" r="1.6"/><circle cx="436.5" cy="385.4" r="1.6"/><circle cx="440" cy="418.3" r="1.6"/><circle cx="421.9" cy="395.7" r="1.6"/><circle cx="423.2" cy="396.4" r="1.6"/><circle cx="426.6" cy="375.9" r="1.6"/><circle cx="444.2" cy="368.6" r="1.6"/><circle cx="492.7" cy="415.5" r="1.6"/><circle cx="425.5" cy="390.4" r="1.6"/><circle cx="431.8" cy="354.7" r="1.6"/><circle cx="416.6" cy="418.7" r="1.6"/><circle cx="425.6" cy="370.4" r="1.6"/><circle cx="429.4" cy="397.8" r="1.6"/><circle cx="468.6" cy="407.4" r="1.6"/><circle cx="424.9" cy="416" r="1.6"/><circle cx="433.3" cy="356.4" r="1.6"/><circle cx="439.4" cy="359.6" r="1.6"/><circle cx="429.9" cy="375.5" r="1.6"/><circle cx="467.5" cy="425" r="1.6"/><circle cx="429" cy="417.1" r="1.6"/><circle cx="428.4" cy="361.4" r="1.6"/><circle cx="445.1" cy="399.8" r="1.6"/><circle cx="421.3" cy="401.8" r="1.6"/><circle cx="492.6" cy="418.4" r="1.6"/><circle cx="433" cy="412" r="1.6"/><circle cx="465" cy="428.5" r="1.6"/><circle cx="436.5" cy="421.3" r="1.6"/><circle cx="432.8" cy="395.2" r="1.6"/><circle cx="446.9" cy="410.3" r="1.6"/><circle cx="445.1" cy="379.5" r="1.6"/><circle cx="441.8" cy="372.6" r="1.6"/><circle cx="423.7" cy="345.1" r="1.6"/><circle cx="431.9" cy="393.6" r="1.6"/><circle cx="424.9" cy="408.8" r="1.6"/><circle cx="445.2" cy="381.5" r="1.6"/><circle cx="438.8" cy="352.1" r="1.6"/><circle cx="448.8" cy="407.5" r="1.6"/><circle cx="444" cy="419" r="1.6"/><circle cx="433.8" cy="386.1" r="1.6"/><circle cx="429.9" cy="382.6" r="1.6"/><circle cx="431.7" cy="399.1" r="1.6"/><circle cx="440.1" cy="397.1" r="1.6"/><circle cx="420.9" cy="349.4" r="1.6"/><circle cx="428.3" cy="343.4" r="1.6"/><circle cx="417.7" cy="416.8" r="1.6"/><circle cx="425.1" cy="366" r="1.6"/><circle cx="441.1" cy="369.1" r="1.6"/><circle cx="424.7" cy="405.6" r="1.6"/><circle cx="437.3" cy="397.5" r="1.6"/><circle cx="434.2" cy="358.8" r="1.6"/><circle cx="458" cy="424.9" r="1.6"/><circle cx="457.8" cy="373.6" r="1.6"/><circle cx="443.3" cy="383.3" r="1.6"/><circle cx="420.9" cy="351.8" r="1.6"/><circle cx="452.5" cy="365" r="1.6"/><circle cx="435.8" cy="353.2" r="1.6"/><circle cx="481.6" cy="408.1" r="1.6"/><circle cx="434.7" cy="367.5" r="1.6"/><circle cx="424.3" cy="370.9" r="1.6"/><circle cx="421.6" cy="419.5" r="1.6"/><circle cx="441.4" cy="390" r="1.6"/><circle cx="451.2" cy="410.8" r="1.6"/><circle cx="436.8" cy="377.8" r="1.6"/><circle cx="436.4" cy="415.6" r="1.6"/><circle cx="426.9" cy="411.7" r="1.6"/><circle cx="437.9" cy="372.6" r="1.6"/><circle cx="457.7" cy="409.8" r="1.6"/><circle cx="461.5" cy="423" r="1.6"/><circle cx="423.2" cy="383.7" r="1.6"/><circle cx="427.1" cy="379.5" r="1.6"/><circle cx="491.2" cy="427" r="1.6"/><circle cx="436.7" cy="364.9" r="1.6"/><circle cx="424.8" cy="352" r="1.6"/><circle cx="466.4" cy="422.7" r="1.6"/><circle cx="432.9" cy="369.4" r="1.6"/><circle cx="440.2" cy="359.3" r="1.6"/><circle cx="431.4" cy="378.5" r="1.6"/><circle cx="471.1" cy="410.6" r="1.6"/><circle cx="422" cy="380.2" r="1.6"/><circle cx="434.9" cy="416.9" r="1.6"/><circle cx="432.8" cy="416.1" r="1.6"/><circle cx="434" cy="418.9" r="1.6"/><circle cx="436.7" cy="416.4" r="1.6"/><circle cx="447.5" cy="398.1" r="1.6"/><circle cx="430.4" cy="369.3" r="1.6"/><circle cx="422.7" cy="397.7" r="1.6"/><circle cx="432.1" cy="373.5" r="1.6"/><circle cx="436" cy="356.7" r="1.6"/><circle cx="429.1" cy="358.7" r="1.6"/><circle cx="427.8" cy="354.4" r="1.6"/><circle cx="428.1" cy="374.5" r="1.6"/><circle cx="428.9" cy="359.1" r="1.6"/><circle cx="461.8" cy="396.1" r="1.6"/><circle cx="424.9" cy="354.1" r="1.6"/><circle cx="441.7" cy="351.3" r="1.6"/><circle cx="430.5" cy="421.6" r="1.6"/><circle cx="433.4" cy="355.5" r="1.6"/><circle cx="425.1" cy="418.1" r="1.6"/><circle cx="489.5" cy="400.3" r="1.6"/><circle cx="444.9" cy="398.4" r="1.6"/><circle cx="443.1" cy="404.5" r="1.6"/><circle cx="428" cy="385.3" r="1.6"/><circle cx="423.2" cy="350.7" r="1.6"/><circle cx="458.9" cy="372.5" r="1.6"/><circle cx="434.1" cy="396.8" r="1.6"/><circle cx="427.4" cy="355.1" r="1.6"/><circle cx="423.1" cy="356.7" r="1.6"/><circle cx="438.6" cy="402.3" r="1.6"/><circle cx="433.6" cy="413.4" r="1.6"/><circle cx="443" cy="409.3" r="1.6"/><circle cx="422.8" cy="406.3" r="1.6"/><circle cx="443.7" cy="361" r="1.6"/><circle cx="430.3" cy="386.6" r="1.6"/><circle cx="459.7" cy="410.7" r="1.6"/><circle cx="431.2" cy="368.5" r="1.6"/><circle cx="443.9" cy="388.9" r="1.6"/><circle cx="442.3" cy="399.3" r="1.6"/><circle cx="456" cy="383.8" r="1.6"/><circle cx="444.2" cy="396.1" r="1.6"/><circle cx="446.1" cy="399" r="1.6"/><circle cx="445.6" cy="358.3" r="1.6"/><circle cx="427.7" cy="360.5" r="1.6"/><circle cx="445.5" cy="421.2" r="1.6"/><circle cx="431.8" cy="386.7" r="1.6"/><circle cx="422.4" cy="407.7" r="1.6"/><circle cx="421.9" cy="346" r="1.6"/><circle cx="452.1" cy="419" r="1.6"/><circle cx="448.1" cy="358.1" r="1.6"/><circle cx="424.5" cy="351.9" r="1.6"/><circle cx="450.7" cy="424.8" r="1.6"/><circle cx="426" cy="364.5" r="1.6"/><circle cx="433.5" cy="400.9" r="1.6"/><circle cx="438.6" cy="419" r="1.6"/><circle cx="421" cy="361" r="1.6"/><circle cx="438.1" cy="350" r="1.6"/><circle cx="430.7" cy="377.1" r="1.6"/><circle cx="444.7" cy="409.8" r="1.6"/><circle cx="435" cy="414.5" r="1.6"/><circle cx="432.8" cy="409.2" r="1.6"/><circle cx="436.3" cy="422.6" r="1.6"/><circle cx="466.7" cy="401.9" r="1.6"/><circle cx="448.2" cy="400.7" r="1.6"/><circle cx="441.9" cy="378.6" r="1.6"/><circle cx="443.2" cy="358.7" r="1.6"/><circle cx="427.4" cy="406.8" r="1.6"/><circle cx="431.8" cy="380.6" r="1.6"/><circle cx="430.1" cy="403.8" r="1.6"/><circle cx="443.5" cy="402.3" r="1.6"/><circle cx="442.6" cy="374.2" r="1.6"/><circle cx="423.7" cy="365.3" r="1.6"/><circle cx="430.1" cy="396.4" r="1.6"/><circle cx="432.8" cy="406.6" r="1.6"/><circle cx="421.3" cy="394.3" r="1.6"/><circle cx="438.1" cy="366.2" r="1.6"/><circle cx="424.9" cy="420.2" r="1.6"/><circle cx="427.4" cy="391.3" r="1.6"/><circle cx="460.4" cy="384.7" r="1.6"/><circle cx="496.1" cy="434.2" r="1.6"/><circle cx="442.1" cy="358" r="1.6"/><circle cx="439.4" cy="386.9" r="1.6"/><circle cx="426.6" cy="368.7" r="1.6"/><circle cx="432.3" cy="349.6" r="1.6"/><circle cx="425.4" cy="364.3" r="1.6"/><circle cx="429.3" cy="376" r="1.6"/><circle cx="461.3" cy="423.9" r="1.6"/><circle cx="428.4" cy="361.5" r="1.6"/><circle cx="433.6" cy="367.3" r="1.6"/><circle cx="419.1" cy="349.7" r="1.6"/><circle cx="423.4" cy="393" r="1.6"/><circle cx="432.9" cy="415.6" r="1.6"/><circle cx="436" cy="407.2" r="1.6"/><circle cx="421.9" cy="359.9" r="1.6"/><circle cx="431.2" cy="390.5" r="1.6"/><circle cx="418" cy="420" r="1.6"/><circle cx="443.6" cy="389.4" r="1.6"/><circle cx="423.6" cy="356.1" r="1.6"/><circle cx="447.9" cy="420.7" r="1.6"/><circle cx="444.3" cy="393.9" r="1.6"/><circle cx="427.5" cy="409.3" r="1.6"/><circle cx="427.2" cy="413.5" r="1.6"/><circle cx="419.7" cy="412.4" r="1.6"/><circle cx="437" cy="410.3" r="1.6"/><circle cx="444" cy="379.6" r="1.6"/><circle cx="438.3" cy="415.1" r="1.6"/><circle cx="431.2" cy="415.1" r="1.6"/><circle cx="431.6" cy="399.9" r="1.6"/><circle cx="453.1" cy="387.8" r="1.6"/><circle cx="431.4" cy="386.2" r="1.6"/><circle cx="438.2" cy="412.8" r="1.6"/><circle cx="458" cy="392.3" r="1.6"/><circle cx="478.2" cy="398.4" r="1.6"/><circle cx="441.3" cy="365.7" r="1.6"/><circle cx="439.1" cy="356" r="1.6"/><circle cx="427.1" cy="364.6" r="1.6"/><circle cx="423.6" cy="346.8" r="1.6"/><circle cx="425.5" cy="396" r="1.6"/><circle cx="424.2" cy="369.4" r="1.6"/><circle cx="427.7" cy="383.8" r="1.6"/><circle cx="425.8" cy="385.2" r="1.6"/><circle cx="419.6" cy="346.8" r="1.6"/><circle cx="447.8" cy="403.5" r="1.6"/><circle cx="433.2" cy="363.7" r="1.6"/><circle cx="440.2" cy="398.2" r="1.6"/><circle cx="423.6" cy="394.3" r="1.6"/><circle cx="435.6" cy="347.8" r="1.6"/><circle cx="436.3" cy="391" r="1.6"/><circle cx="455.5" cy="421.6" r="1.6"/><circle cx="426.1" cy="372.9" r="1.6"/><circle cx="444" cy="369.7" r="1.6"/><circle cx="452.6" cy="395" r="1.6"/><circle cx="431.6" cy="405.2" r="1.6"/><circle cx="451.4" cy="378.4" r="1.6"/><circle cx="430.3" cy="372.9" r="1.6"/><circle cx="487.7" cy="401.7" r="1.6"/><circle cx="424.3" cy="374.7" r="1.6"/><circle cx="429.3" cy="408.4" r="1.6"/><circle cx="430.5" cy="418.4" r="1.6"/><circle cx="422.2" cy="363.8" r="1.6"/><circle cx="426.8" cy="381.3" r="1.6"/><circle cx="460.8" cy="372" r="1.6"/><circle cx="426.9" cy="350.1" r="1.6"/><circle cx="433.4" cy="383.8" r="1.6"/><circle cx="427" cy="395.5" r="1.6"/><circle cx="427.6" cy="382.6" r="1.6"/><circle cx="432.2" cy="385.2" r="1.6"/><circle cx="487.8" cy="395.8" r="1.6"/><circle cx="440.8" cy="379.9" r="1.6"/><circle cx="458.2" cy="384.9" r="1.6"/><circle cx="433.7" cy="385.7" r="1.6"/><circle cx="423.3" cy="368.4" r="1.6"/><circle cx="433.5" cy="409.1" r="1.6"/><circle cx="444.1" cy="411.3" r="1.6"/><circle cx="442.3" cy="388.3" r="1.6"/><circle cx="436.4" cy="402.3" r="1.6"/><circle cx="442.7" cy="354.3" r="1.6"/><circle cx="427.2" cy="403.9" r="1.6"/><circle cx="432" cy="422" r="1.6"/><circle cx="429.7" cy="387.4" r="1.6"/><circle cx="440.1" cy="371" r="1.6"/><circle cx="426.1" cy="382.9" r="1.6"/><circle cx="449.5" cy="374.1" r="1.6"/><circle cx="464.4" cy="403.2" r="1.6"/><circle cx="435.3" cy="390.8" r="1.6"/><circle cx="429.7" cy="419.2" r="1.6"/><circle cx="446" cy="397.2" r="1.6"/><circle cx="431.7" cy="370.8" r="1.6"/><circle cx="430.7" cy="384.5" r="1.6"/><circle cx="455.8" cy="396.1" r="1.6"/><circle cx="461.2" cy="390.2" r="1.6"/><circle cx="427.5" cy="368.3" r="1.6"/><circle cx="433.9" cy="389.8" r="1.6"/><circle cx="434.8" cy="392.7" r="1.6"/><circle cx="433" cy="390.1" r="1.6"/><circle cx="441.4" cy="386.8" r="1.6"/><circle cx="430.2" cy="358.8" r="1.6"/><circle cx="444.5" cy="387.9" r="1.6"/><circle cx="427" cy="394.5" r="1.6"/><circle cx="465.5" cy="389.5" r="1.6"/><circle cx="472.9" cy="393.9" r="1.6"/><circle cx="433.3" cy="366.3" r="1.6"/><circle cx="452.4" cy="362.9" r="1.6"/><circle cx="435.5" cy="363.3" r="1.6"/><circle cx="423.1" cy="346.2" r="1.6"/><circle cx="425.8" cy="356.8" r="1.6"/><circle cx="454.2" cy="387.2" r="1.6"/><circle cx="427.4" cy="356.3" r="1.6"/><circle cx="417.1" cy="416.9" r="1.6"/><circle cx="447.4" cy="409.9" r="1.6"/><circle cx="430.2" cy="358.9" r="1.6"/><circle cx="433.2" cy="398" r="1.6"/><circle cx="434.2" cy="357.9" r="1.6"/><circle cx="434.5" cy="403.6" r="1.6"/><circle cx="418.1" cy="343.9" r="1.6"/><circle cx="443.9" cy="363.9" r="1.6"/><circle cx="446" cy="377.7" r="1.6"/><circle cx="424" cy="365.1" r="1.6"/><circle cx="450.1" cy="415.7" r="1.6"/><circle cx="427.2" cy="372.3" r="1.6"/><circle cx="415.3" cy="340.5" r="1.6"/><circle cx="453.9" cy="426.1" r="1.6"/><circle cx="427.3" cy="372.1" r="1.6"/><circle cx="429.8" cy="401.5" r="1.6"/><circle cx="441.9" cy="368.6" r="1.6"/><circle cx="421.1" cy="410.3" r="1.6"/><circle cx="433" cy="364.6" r="1.6"/><circle cx="466.3" cy="382.5" r="1.6"/><circle cx="437.4" cy="407.4" r="1.6"/><circle cx="432.1" cy="421.6" r="1.6"/><circle cx="440.7" cy="387.5" r="1.6"/><circle cx="428" cy="372.3" r="1.6"/><circle cx="433.6" cy="419.2" r="1.6"/><circle cx="431.7" cy="419.8" r="1.6"/><circle cx="420.2" cy="411.8" r="1.6"/><circle cx="445.8" cy="401.1" r="1.6"/><circle cx="442.5" cy="386.3" r="1.6"/><circle cx="435.8" cy="364.8" r="1.6"/><circle cx="438.1" cy="374.2" r="1.6"/><circle cx="438.9" cy="410.3" r="1.6"/><circle cx="439" cy="392.3" r="1.6"/><circle cx="431.2" cy="399.3" r="1.6"/><circle cx="424.1" cy="355.1" r="1.6"/><circle cx="432.5" cy="410.2" r="1.6"/><circle cx="438.8" cy="410.6" r="1.6"/><circle cx="432.6" cy="382.7" r="1.6"/><circle cx="450.7" cy="373.7" r="1.6"/><circle cx="425" cy="355.1" r="1.6"/><circle cx="436.7" cy="419.6" r="1.6"/><circle cx="434.7" cy="352.8" r="1.6"/><circle cx="437.8" cy="388.2" r="1.6"/><circle cx="450.1" cy="395.6" r="1.6"/><circle cx="417.2" cy="340.7" r="1.6"/><circle cx="423.7" cy="389.7" r="1.6"/><circle cx="440.3" cy="419.8" r="1.6"/><circle cx="439.2" cy="361.6" r="1.6"/><circle cx="422.9" cy="358.8" r="1.6"/><circle cx="428.8" cy="381.5" r="1.6"/><circle cx="432.8" cy="417" r="1.6"/><circle cx="423.1" cy="420.1" r="1.6"/><circle cx="438.9" cy="381.2" r="1.6"/><circle cx="441.4" cy="391.2" r="1.6"/><circle cx="451" cy="367.2" r="1.6"/><circle cx="421.2" cy="354.6" r="1.6"/><circle cx="430.1" cy="346.9" r="1.6"/><circle cx="446.7" cy="362.5" r="1.6"/><circle cx="441" cy="417.5" r="1.6"/><circle cx="427.8" cy="408.4" r="1.6"/><circle cx="456.6" cy="425.1" r="1.6"/><circle cx="433" cy="400.1" r="1.6"/><circle cx="474.8" cy="404.1" r="1.6"/><circle cx="451.9" cy="371.9" r="1.6"/><circle cx="452" cy="386.7" r="1.6"/><circle cx="414.7" cy="338.4" r="1.6"/><circle cx="424.2" cy="417.2" r="1.6"/><circle cx="461" cy="376.2" r="1.6"/><circle cx="429" cy="392" r="1.6"/><circle cx="434.9" cy="404.5" r="1.6"/><circle cx="433.6" cy="387.4" r="1.6"/><circle cx="451.6" cy="393.2" r="1.6"/><circle cx="413" cy="339" r="1.6"/><circle cx="419.4" cy="411.6" r="1.6"/><circle cx="426.2" cy="362.4" r="1.6"/><circle cx="421.3" cy="387.4" r="1.6"/><circle cx="432.6" cy="367.4" r="1.6"/><circle cx="498.5" cy="431.3" r="1.6"/><circle cx="436.1" cy="388.8" r="1.6"/><circle cx="423.7" cy="399.5" r="1.6"/><circle cx="428.2" cy="400.2" r="1.6"/><circle cx="424" cy="417.2" r="1.6"/><circle cx="450.9" cy="407.1" r="1.6"/><circle cx="424.8" cy="421.3" r="1.6"/><circle cx="441.1" cy="374.1" r="1.6"/><circle cx="446.8" cy="370.9" r="1.6"/><circle cx="449.4" cy="411.9" r="1.6"/><circle cx="449.7" cy="380.2" r="1.6"/><circle cx="427.7" cy="382.4" r="1.6"/><circle cx="420.5" cy="356" r="1.6"/><circle cx="426" cy="391.7" r="1.6"/><circle cx="422.3" cy="368" r="1.6"/><circle cx="432.1" cy="407.4" r="1.6"/><circle cx="425.1" cy="419.9" r="1.6"/><circle cx="423.9" cy="378.5" r="1.6"/><circle cx="426.8" cy="387.9" r="1.6"/><circle cx="419.6" cy="407.5" r="1.6"/><circle cx="425.1" cy="378.6" r="1.6"/><circle cx="450.1" cy="363" r="1.6"/><circle cx="433.8" cy="383.9" r="1.6"/><circle cx="443.8" cy="354.4" r="1.6"/><circle cx="438.8" cy="389.9" r="1.6"/><circle cx="422.3" cy="372.9" r="1.6"/><circle cx="456.4" cy="421.9" r="1.6"/><circle cx="441" cy="408.7" r="1.6"/><circle cx="420.4" cy="395.8" r="1.6"/><circle cx="439.1" cy="395.5" r="1.6"/><circle cx="438.3" cy="355.6" r="1.6"/><circle cx="428.5" cy="394.2" r="1.6"/><circle cx="424.1" cy="350.1" r="1.6"/><circle cx="427.3" cy="418.6" r="1.6"/><circle cx="423.1" cy="410.5" r="1.6"/><circle cx="425.3" cy="366.8" r="1.6"/><circle cx="435.9" cy="398.1" r="1.6"/><circle cx="442.1" cy="406.1" r="1.6"/><circle cx="428.9" cy="389.9" r="1.6"/><circle cx="421.5" cy="399.6" r="1.6"/><circle cx="428.1" cy="412" r="1.6"/><circle cx="462.9" cy="427.1" r="1.6"/><circle cx="419.2" cy="416.2" r="1.6"/><circle cx="468.9" cy="398.4" r="1.6"/><circle cx="448.9" cy="384.6" r="1.6"/><circle cx="423.5" cy="380.7" r="1.6"/><circle cx="421.3" cy="357.3" r="1.6"/><circle cx="430.7" cy="356" r="1.6"/><circle cx="446.7" cy="355.9" r="1.6"/><circle cx="440.9" cy="395.5" r="1.6"/><circle cx="433" cy="367.6" r="1.6"/><circle cx="424.7" cy="365.2" r="1.6"/><circle cx="439.6" cy="397.7" r="1.6"/><circle cx="426.8" cy="375.8" r="1.6"/><circle cx="421.7" cy="341.5" r="1.6"/><circle cx="486.4" cy="422.9" r="1.6"/><circle cx="429" cy="358" r="1.6"/><circle cx="449.6" cy="390.9" r="1.6"/><circle cx="425.6" cy="413.1" r="1.6"/><circle cx="425.7" cy="353.6" r="1.6"/><circle cx="440.4" cy="391.3" r="1.6"/><circle cx="442.9" cy="361.2" r="1.6"/><circle cx="425.4" cy="370.4" r="1.6"/><circle cx="469.3" cy="410.2" r="1.6"/><circle cx="423.9" cy="354.1" r="1.6"/><circle cx="419.8" cy="420.5" r="1.6"/><circle cx="417.2" cy="339.9" r="1.6"/><circle cx="436.4" cy="404.3" r="1.6"/><circle cx="425.9" cy="419.5" r="1.6"/><circle cx="422.4" cy="401.9" r="1.6"/><circle cx="466.6" cy="400.7" r="1.6"/><circle cx="417.6" cy="342.6" r="1.6"/><circle cx="432.4" cy="377.2" r="1.6"/><circle cx="433.3" cy="362" r="1.6"/><circle cx="442.8" cy="355.3" r="1.6"/><circle cx="484.9" cy="414" r="1.6"/><circle cx="436.9" cy="409.5" r="1.6"/><circle cx="442.5" cy="366" r="1.6"/><circle cx="437.1" cy="349.4" r="1.6"/><circle cx="430.5" cy="400.2" r="1.6"/><circle cx="427.9" cy="411.2" r="1.6"/><circle cx="449.2" cy="388.5" r="1.6"/><circle cx="442.2" cy="354.2" r="1.6"/><circle cx="472.3" cy="403" r="1.6"/><circle cx="433.7" cy="387" r="1.6"/><circle cx="429.4" cy="345.4" r="1.6"/><circle cx="437.2" cy="372.5" r="1.6"/><circle cx="423.5" cy="356.4" r="1.6"/><circle cx="439.6" cy="368.4" r="1.6"/><circle cx="423.3" cy="345.7" r="1.6"/><circle cx="431.1" cy="370.7" r="1.6"/><circle cx="451.6" cy="408.6" r="1.6"/><circle cx="431.1" cy="382" r="1.6"/><circle cx="429.6" cy="404" r="1.6"/><circle cx="425.9" cy="367.9" r="1.6"/><circle cx="435.7" cy="416.5" r="1.6"/><circle cx="445.2" cy="383.7" r="1.6"/><circle cx="456.6" cy="412.5" r="1.6"/><circle cx="426.2" cy="348.1" r="1.6"/><circle cx="438.9" cy="401.5" r="1.6"/><circle cx="432.1" cy="376" r="1.6"/><circle cx="463" cy="382.7" r="1.6"/><circle cx="455.3" cy="371.5" r="1.6"/><circle cx="432.5" cy="376.3" r="1.6"/><circle cx="436.3" cy="356.6" r="1.6"/><circle cx="444.7" cy="373" r="1.6"/><circle cx="442.6" cy="376.1" r="1.6"/><circle cx="452.2" cy="418.1" r="1.6"/><circle cx="426.9" cy="348.6" r="1.6"/><circle cx="427.3" cy="356.9" r="1.6"/><circle cx="442.6" cy="397.1" r="1.6"/><circle cx="426.7" cy="398" r="1.6"/><circle cx="438" cy="352.2" r="1.6"/><circle cx="424.1" cy="348" r="1.6"/><circle cx="421.1" cy="396.9" r="1.6"/><circle cx="421.4" cy="413.1" r="1.6"/><circle cx="431.4" cy="410.5" r="1.6"/><circle cx="446" cy="392.8" r="1.6"/><circle cx="432.1" cy="392.5" r="1.6"/><circle cx="433.6" cy="354.3" r="1.6"/><circle cx="434.9" cy="347.7" r="1.6"/><circle cx="429" cy="406.8" r="1.6"/><circle cx="436.1" cy="359.1" r="1.6"/><circle cx="462.2" cy="412.7" r="1.6"/><circle cx="433.8" cy="385.7" r="1.6"/><circle cx="441.4" cy="401.5" r="1.6"/><circle cx="446" cy="384.4" r="1.6"/><circle cx="426.6" cy="421.4" r="1.6"/><circle cx="440.1" cy="377.6" r="1.6"/><circle cx="427.4" cy="393.1" r="1.6"/><circle cx="424.8" cy="402.7" r="1.6"/><circle cx="422.4" cy="354" r="1.6"/><circle cx="426.2" cy="414" r="1.6"/><circle cx="431" cy="394.8" r="1.6"/><circle cx="444.4" cy="383.9" r="1.6"/><circle cx="423.9" cy="378" r="1.6"/><circle cx="424" cy="405.6" r="1.6"/><circle cx="450.8" cy="369.4" r="1.6"/><circle cx="428.3" cy="394.1" r="1.6"/><circle cx="429.2" cy="413.9" r="1.6"/><circle cx="422.4" cy="387.4" r="1.6"/><circle cx="453.1" cy="375.2" r="1.6"/><circle cx="429.6" cy="420.9" r="1.6"/><circle cx="435" cy="417" r="1.6"/><circle cx="452.5" cy="408.5" r="1.6"/><circle cx="420.1" cy="349.4" r="1.6"/><circle cx="425.2" cy="390.5" r="1.6"/><circle cx="462" cy="426.8" r="1.6"/><circle cx="423.4" cy="391.1" r="1.6"/><circle cx="423.8" cy="386.3" r="1.6"/><circle cx="458.6" cy="406.7" r="1.6"/><circle cx="434.8" cy="408.9" r="1.6"/><circle cx="431" cy="346.6" r="1.6"/><circle cx="429.2" cy="394.5" r="1.6"/><circle cx="445.2" cy="419.3" r="1.6"/><circle cx="427.1" cy="397.9" r="1.6"/><circle cx="435.1" cy="411.7" r="1.6"/><circle cx="425" cy="370.1" r="1.6"/><circle cx="438.6" cy="415.3" r="1.6"/><circle cx="444.3" cy="418.5" r="1.6"/><circle cx="450.5" cy="389.3" r="1.6"/><circle cx="443.2" cy="378.3" r="1.6"/><circle cx="431" cy="386.3" r="1.6"/><circle cx="431.1" cy="340.7" r="1.6"/><circle cx="337.6" cy="317.2" r="1.6"/><circle cx="419.3" cy="339.2" r="1.6"/><circle cx="416.4" cy="332.3" r="1.6"/><circle cx="382.8" cy="320.6" r="1.6"/><circle cx="320.2" cy="315.4" r="1.6"/><circle cx="373.1" cy="317.1" r="1.6"/><circle cx="405.9" cy="331.6" r="1.6"/><circle cx="411.8" cy="333.1" r="1.6"/><circle cx="356.3" cy="320.3" r="1.6"/><circle cx="382.8" cy="318.2" r="1.6"/><circle cx="310.5" cy="320.3" r="1.6"/><circle cx="376.3" cy="321.6" r="1.6"/><circle cx="343.5" cy="316.8" r="1.6"/><circle cx="433" cy="343.3" r="1.6"/><circle cx="384.9" cy="318.3" r="1.6"/><circle cx="408.4" cy="334.2" r="1.6"/><circle cx="392.1" cy="320.4" r="1.6"/><circle cx="397.4" cy="319.5" r="1.6"/><circle cx="392.9" cy="323.1" r="1.6"/><circle cx="439.7" cy="346.6" r="1.6"/><circle cx="316.6" cy="322.1" r="1.6"/><circle cx="408.3" cy="327.7" r="1.6"/><circle cx="327.8" cy="314.2" r="1.6"/><circle cx="433.8" cy="342.5" r="1.6"/><circle cx="381.8" cy="325.8" r="1.6"/><circle cx="417.8" cy="338.8" r="1.6"/><circle cx="369.3" cy="318.3" r="1.6"/><circle cx="330.8" cy="313.3" r="1.6"/><circle cx="324.3" cy="314.5" r="1.6"/><circle cx="402" cy="324.3" r="1.6"/><circle cx="379" cy="324.1" r="1.6"/><circle cx="393" cy="319.4" r="1.6"/><circle cx="404.8" cy="330" r="1.6"/><circle cx="399.4" cy="326.2" r="1.6"/><circle cx="349.8" cy="316.5" r="1.6"/><circle cx="379.7" cy="323.4" r="1.6"/><circle cx="386.9" cy="325.5" r="1.6"/><circle cx="333.9" cy="318.1" r="1.6"/><circle cx="416" cy="332.7" r="1.6"/><circle cx="315" cy="321.7" r="1.6"/><circle cx="402" cy="324" r="1.6"/><circle cx="369.1" cy="317.5" r="1.6"/><circle cx="377.7" cy="326.4" r="1.6"/><circle cx="369.9" cy="324.6" r="1.6"/><circle cx="424.3" cy="338.4" r="1.6"/><circle cx="399.1" cy="326.3" r="1.6"/><circle cx="329.8" cy="319.9" r="1.6"/><circle cx="381.2" cy="317.6" r="1.6"/><circle cx="353" cy="319.8" r="1.6"/><circle cx="348.2" cy="318.8" r="1.6"/><circle cx="418.6" cy="332.2" r="1.6"/><circle cx="315.1" cy="317.4" r="1.6"/><circle cx="421.6" cy="340" r="1.6"/><circle cx="387.6" cy="323.2" r="1.6"/><circle cx="353.5" cy="316.6" r="1.6"/><circle cx="425.9" cy="341.3" r="1.6"/><circle cx="363.6" cy="318.6" r="1.6"/><circle cx="381.6" cy="327.6" r="1.6"/><circle cx="340.6" cy="316" r="1.6"/><circle cx="328.2" cy="318.8" r="1.6"/><circle cx="372.7" cy="318.9" r="1.6"/><circle cx="420" cy="335.6" r="1.6"/><circle cx="393.2" cy="319.5" r="1.6"/><circle cx="413.6" cy="335.1" r="1.6"/><circle cx="358.9" cy="316.3" r="1.6"/><circle cx="434.2" cy="340.6" r="1.6"/><circle cx="386.9" cy="323.4" r="1.6"/><circle cx="370.5" cy="322.7" r="1.6"/><circle cx="340.4" cy="314.6" r="1.6"/><circle cx="316" cy="317.9" r="1.6"/><circle cx="396.5" cy="327.3" r="1.6"/><circle cx="390.4" cy="327.8" r="1.6"/><circle cx="409.7" cy="332.4" r="1.6"/><circle cx="409.1" cy="328.8" r="1.6"/><circle cx="313.4" cy="320.7" r="1.6"/><circle cx="365.8" cy="322.5" r="1.6"/><circle cx="388.7" cy="319.1" r="1.6"/><circle cx="382" cy="318.5" r="1.6"/><circle cx="310.4" cy="323.2" r="1.6"/><circle cx="342.4" cy="318.6" r="1.6"/><circle cx="401.4" cy="330.3" r="1.6"/><circle cx="355" cy="320.2" r="1.6"/><circle cx="425.9" cy="341.2" r="1.6"/><circle cx="396" cy="328.8" r="1.6"/><circle cx="415.6" cy="336.6" r="1.6"/><circle cx="344.5" cy="320.9" r="1.6"/><circle cx="340.1" cy="314.5" r="1.6"/><circle cx="402.1" cy="329.4" r="1.6"/><circle cx="424.4" cy="342" r="1.6"/><circle cx="385.3" cy="323.5" r="1.6"/><circle cx="429.2" cy="341" r="1.6"/><circle cx="337.1" cy="320.9" r="1.6"/><circle cx="375.3" cy="317" r="1.6"/><circle cx="439.9" cy="349.6" r="1.6"/><circle cx="358.4" cy="318.5" r="1.6"/><circle cx="373.1" cy="324" r="1.6"/><circle cx="376.4" cy="328.4" r="1.6"/><circle cx="326.2" cy="313.7" r="1.6"/><circle cx="320.3" cy="317.2" r="1.6"/><circle cx="342.9" cy="320.9" r="1.6"/><circle cx="325.9" cy="319.5" r="1.6"/><circle cx="413.8" cy="331.6" r="1.6"/><circle cx="393" cy="323.5" r="1.6"/><circle cx="342" cy="319" r="1.6"/><circle cx="390.4" cy="324.2" r="1.6"/><circle cx="432.7" cy="345" r="1.6"/><circle cx="423.9" cy="336.2" r="1.6"/><circle cx="311.4" cy="319.9" r="1.6"/><circle cx="324.4" cy="320.6" r="1.6"/><circle cx="356.9" cy="322.8" r="1.6"/><circle cx="410.3" cy="326.1" r="1.6"/><circle cx="360.7" cy="316.3" r="1.6"/><circle cx="312.2" cy="435.5" r="1.6"/><circle cx="343" cy="434" r="1.6"/><circle cx="328.8" cy="434.9" r="1.6"/><circle cx="339.1" cy="432.8" r="1.6"/><circle cx="322.8" cy="437" r="1.6"/><circle cx="380.2" cy="421.8" r="1.6"/><circle cx="364.6" cy="420.8" r="1.6"/><circle cx="339.3" cy="442" r="1.6"/><circle cx="313.2" cy="446.3" r="1.6"/><circle cx="389.4" cy="421" r="1.6"/><circle cx="390.5" cy="427.7" r="1.6"/><circle cx="330.5" cy="429" r="1.6"/><circle cx="361.5" cy="419.1" r="1.6"/><circle cx="428.1" cy="422.5" r="1.6"/><circle cx="332.8" cy="428.1" r="1.6"/><circle cx="366.1" cy="422.9" r="1.6"/><circle cx="315.2" cy="445.7" r="1.6"/><circle cx="315.3" cy="443.2" r="1.6"/><circle cx="386.9" cy="420.7" r="1.6"/><circle cx="399.8" cy="427.3" r="1.6"/><circle cx="330.4" cy="436" r="1.6"/><circle cx="312.6" cy="435.5" r="1.6"/><circle cx="373" cy="425" r="1.6"/><circle cx="325.9" cy="439.3" r="1.6"/><circle cx="330.6" cy="440.2" r="1.6"/><circle cx="329" cy="432.9" r="1.6"/><circle cx="371" cy="418.9" r="1.6"/><circle cx="314" cy="440.8" r="1.6"/><circle cx="431.5" cy="424.1" r="1.6"/><circle cx="403.5" cy="427.1" r="1.6"/><circle cx="373.6" cy="420.9" r="1.6"/><circle cx="310.5" cy="436.2" r="1.6"/><circle cx="376.1" cy="421.5" r="1.6"/><circle cx="363.3" cy="418.2" r="1.6"/><circle cx="428.9" cy="423.1" r="1.6"/><circle cx="320.3" cy="440.5" r="1.6"/><circle cx="351" cy="430.7" r="1.6"/><circle cx="328.6" cy="435.1" r="1.6"/><circle cx="357.1" cy="422.1" r="1.6"/><circle cx="370.1" cy="424" r="1.6"/><circle cx="363.1" cy="424.6" r="1.6"/><circle cx="325.3" cy="440.1" r="1.6"/><circle cx="319.7" cy="449.3" r="1.6"/><circle cx="319" cy="446.8" r="1.6"/><circle cx="351.6" cy="435.1" r="1.6"/><circle cx="406.1" cy="422.5" r="1.6"/><circle cx="371.7" cy="421.1" r="1.6"/><circle cx="327.3" cy="438.5" r="1.6"/><circle cx="323.6" cy="444.2" r="1.6"/><circle cx="394" cy="423.8" r="1.6"/><circle cx="428.8" cy="422.7" r="1.6"/><circle cx="337.6" cy="428.9" r="1.6"/><circle cx="315.8" cy="450.3" r="1.6"/><circle cx="423.1" cy="423.5" r="1.6"/><circle cx="341.3" cy="436.2" r="1.6"/><circle cx="358.2" cy="418.4" r="1.6"/><circle cx="350.6" cy="431.8" r="1.6"/><circle cx="370.6" cy="423" r="1.6"/><circle cx="326.7" cy="437.4" r="1.6"/><circle cx="366.9" cy="425.3" r="1.6"/><circle cx="365.5" cy="419.1" r="1.6"/><circle cx="428.9" cy="422.2" r="1.6"/><circle cx="426.2" cy="423.1" r="1.6"/><circle cx="312.8" cy="448.4" r="1.6"/><circle cx="406" cy="422.3" r="1.6"/><circle cx="358.1" cy="421.7" r="1.6"/><circle cx="314.9" cy="434.1" r="1.6"/><circle cx="329.7" cy="428.7" r="1.6"/><circle cx="331.3" cy="443.6" r="1.6"/><circle cx="346.7" cy="435.5" r="1.6"/><circle cx="429.4" cy="421.7" r="1.6"/><circle cx="433.5" cy="424" r="1.6"/><circle cx="357.5" cy="427.4" r="1.6"/><circle cx="348.4" cy="437.2" r="1.6"/><circle cx="353.1" cy="431.2" r="1.6"/><circle cx="335.8" cy="431.7" r="1.6"/><circle cx="341" cy="441.9" r="1.6"/><circle cx="338.8" cy="442" r="1.6"/><circle cx="390.2" cy="424.7" r="1.6"/><circle cx="353.4" cy="422.5" r="1.6"/><circle cx="325.6" cy="435.7" r="1.6"/><circle cx="422.9" cy="422.7" r="1.6"/><circle cx="352" cy="422.9" r="1.6"/><circle cx="371.9" cy="426.2" r="1.6"/><circle cx="377.8" cy="426.4" r="1.6"/><circle cx="363.9" cy="420.7" r="1.6"/><circle cx="330.2" cy="435.4" r="1.6"/><circle cx="429.1" cy="424" r="1.6"/><circle cx="344.2" cy="430.5" r="1.6"/><circle cx="428.5" cy="425.6" r="1.6"/><circle cx="343.3" cy="436.1" r="1.6"/><circle cx="318" cy="446.2" r="1.6"/><circle cx="317.3" cy="437.9" r="1.6"/><circle cx="423.7" cy="427.4" r="1.6"/><circle cx="334.2" cy="443.8" r="1.6"/><circle cx="343" cy="431.8" r="1.6"/><circle cx="391" cy="424.4" r="1.6"/><circle cx="331.4" cy="429" r="1.6"/><circle cx="312.2" cy="445.5" r="1.6"/><circle cx="353.7" cy="423.5" r="1.6"/><circle cx="350.2" cy="430.8" r="1.6"/><circle cx="319" cy="441.4" r="1.6"/><circle cx="313" cy="281.4" r="1.6"/><circle cx="317.1" cy="279.5" r="1.6"/><circle cx="322.5" cy="292.4" r="1.6"/><circle cx="325.5" cy="295.3" r="1.6"/><circle cx="328.5" cy="290.6" r="1.6"/><circle cx="339.1" cy="292.4" r="1.6"/><circle cx="348" cy="293.6" r="1.6"/><circle cx="374.6" cy="293.6" r="1.6"/><circle cx="311.9" cy="317.9" r="1.6"/><circle cx="316" cy="316.1" r="1.6"/><circle cx="319.6" cy="312.5" r="1.6"/><circle cx="320.2" cy="316.1" r="1.6"/><circle cx="315.4" cy="306.6" r="1.6"/><circle cx="317.8" cy="301.9" r="1.6"/><circle cx="322.5" cy="309" r="1.6"/><circle cx="328.5" cy="303.6" r="1.6"/><circle cx="329.1" cy="307.8" r="1.6"/><circle cx="355.7" cy="304.2" r="1.6"/><circle cx="352.2" cy="310.8" r="1.6"/><circle cx="343.9" cy="306" r="1.6"/><circle cx="342.7" cy="309" r="1.6"/><circle cx="341.5" cy="308.4" r="1.6"/><circle cx="339.1" cy="311.3" r="1.6"/><circle cx="337.9" cy="314.9" r="1.6"/><circle cx="340.9" cy="315.5" r="1.6"/><circle cx="324.9" cy="318.5" r="1.6"/><circle cx="331.4" cy="317.3" r="1.6"/><circle cx="334.4" cy="318.5" r="1.6"/><circle cx="346.8" cy="319.6" r="1.6"/><circle cx="351" cy="318.5" r="1.6"/><circle cx="354.5" cy="318.5" r="1.6"/><circle cx="356.2" cy="304" r="1.6"/><circle cx="387.6" cy="301.3" r="1.6"/><circle cx="381.7" cy="305.4" r="1.6"/><circle cx="392.4" cy="305.4" r="1.6"/><circle cx="365.1" cy="311.9" r="1.6"/><circle cx="372.2" cy="314.3" r="1.6"/><circle cx="381.1" cy="311.9" r="1.6"/><circle cx="378.1" cy="315.5" r="1.6"/><circle cx="387" cy="314.9" r="1.6"/><circle cx="387" cy="316.7" r="1.6"/><circle cx="367.5" cy="316.7" r="1.6"/><circle cx="360.3" cy="315.5" r="1.6"/><circle cx="376.9" cy="320.8" r="1.6"/><circle cx="397.7" cy="321.4" r="1.6"/><circle cx="414.3" cy="325.6" r="1.6"/><circle cx="406" cy="327.4" r="1.6"/><circle cx="414.7" cy="325.9" r="1.6"/><circle cx="421.9" cy="325.3" r="1.6"/><circle cx="418.3" cy="327.1" r="1.6"/><circle cx="417.1" cy="331.3" r="1.6"/><circle cx="425.4" cy="331.3" r="1.6"/><circle cx="426.6" cy="331.9" r="1.6"/><circle cx="430.8" cy="320.6" r="1.6"/><circle cx="436.1" cy="322.4" r="1.6"/><circle cx="430.8" cy="337.2" r="1.6"/><circle cx="436.1" cy="337.8" r="1.6"/><circle cx="439.6" cy="340.8" r="1.6"/><circle cx="443.2" cy="343.1" r="1.6"/><circle cx="445.6" cy="343.7" r="1.6"/><circle cx="456.8" cy="340.8" r="1.6"/><circle cx="454.5" cy="346.1" r="1.6"/><circle cx="465.7" cy="349.6" r="1.6"/><circle cx="461.6" cy="355" r="1.6"/><circle cx="468.1" cy="365.1" r="1.6"/><circle cx="422.5" cy="306.6" r="1.6"/><circle cx="427.3" cy="310.6" r="1.6"/><circle cx="484" cy="367.7" r="1.6"/><circle cx="475.8" cy="369.5" r="1.6"/><circle cx="478.7" cy="369.5" r="1.6"/><circle cx="467.5" cy="367.1" r="1.6"/><circle cx="470.4" cy="364.7" r="1.6"/><circle cx="473.4" cy="361.8" r="1.6"/><circle cx="490" cy="381.9" r="1.6"/><circle cx="483.5" cy="384.9" r="1.6"/><circle cx="485.2" cy="386.7" r="1.6"/><circle cx="494.7" cy="391.1" r="1.6"/><circle cx="500.1" cy="397.9" r="1.6"/><circle cx="496.5" cy="399.7" r="1.6"/><circle cx="490.6" cy="400.3" r="1.6"/><circle cx="487" cy="405.1" r="1.6"/><circle cx="490" cy="407.4" r="1.6"/><circle cx="493.5" cy="408" r="1.6"/><circle cx="497.1" cy="418.1" r="1.6"/><circle cx="483.5" cy="411" r="1.6"/><circle cx="488.2" cy="412.8" r="1.6"/><circle cx="381.2" cy="432.4" r="1.6"/><circle cx="390.1" cy="434.1" r="1.6"/><circle cx="404.9" cy="437.7" r="1.6"/><circle cx="406.7" cy="429.4" r="1.6"/><circle cx="414.4" cy="428.8" r="1.6"/><circle cx="420.3" cy="427" r="1.6"/><circle cx="422.7" cy="432.4" r="1.6"/><circle cx="430.4" cy="433" r="1.6"/><circle cx="431" cy="429.4" r="1.6"/><circle cx="435.7" cy="426.4" r="1.6"/><circle cx="402.5" cy="425.8" r="1.6"/><circle cx="394.8" cy="426.4" r="1.6"/><circle cx="385.3" cy="426.8" r="1.6"/><circle cx="382.4" cy="423.5" r="1.6"/><circle cx="314.2" cy="450.1" r="1.6"/><circle cx="317.2" cy="449" r="1.6"/><circle cx="322.5" cy="446.6" r="1.6"/><circle cx="319.6" cy="447.2" r="1.6"/><circle cx="311.9" cy="442.4" r="1.6"/><circle cx="311.9" cy="445.4" r="1.6"/><circle cx="328.5" cy="440.1" r="1.6"/><circle cx="332" cy="440.7" r="1.6"/><circle cx="330.8" cy="446" r="1.6"/><circle cx="335" cy="443.6" r="1.6"/><circle cx="335" cy="449.8" r="1.6"/><circle cx="340.3" cy="438.9" r="1.6"/><circle cx="339.7" cy="442.4" r="1.6"/><circle cx="345.7" cy="446.6" r="1.6"/><circle cx="344.5" cy="440.7" r="1.6"/><circle cx="344.5" cy="437.7" r="1.6"/><circle cx="351" cy="432.4" r="1.6"/><circle cx="345.7" cy="432.4" r="1.6"/><circle cx="358.1" cy="433" r="1.6"/><circle cx="357.5" cy="428.8" r="1.6"/><circle cx="316.6" cy="465.4" r="1.6"/><circle cx="315" cy="456.2" r="1.6"/><circle cx="334.6" cy="456.6" r="1.6"/><circle cx="405.1" cy="438.2" r="1.6"/><circle cx="455.4" cy="440.7" r="1.6"/><circle cx="499.2" cy="442.3" r="1.6"/><circle cx="510.8" cy="444.2" r="1.6"/><circle cx="468.1" cy="434.7" r="1.6"/><circle cx="471.5" cy="435.4" r="1.6"/><circle cx="479.6" cy="436.5" r="1.6"/><circle cx="487.7" cy="436.1" r="1.6"/><circle cx="492.3" cy="438.8" r="1.6"/><circle cx="506.2" cy="435.4" r="1.6"/>
</g>
<g fill="#fff">
<circle cx="431.8" cy="319.7" r="0.75"/><circle cx="443" cy="370.4" r="0.75"/><circle cx="401.5" cy="331.1" r="0.75"/><circle cx="387.4" cy="424.7" r="0.75"/><circle cx="435.2" cy="358.1" r="0.75"/><circle cx="428" cy="329.5" r="0.75"/><circle cx="423.3" cy="342.8" r="0.75"/><circle cx="428.1" cy="413.1" r="0.75"/><circle cx="320.5" cy="428.4" r="0.75"/><circle cx="426.6" cy="399.6" r="0.75"/><circle cx="413.6" cy="412.7" r="0.75"/><circle cx="412.4" cy="322.1" r="0.75"/><circle cx="432.5" cy="329.2" r="0.75"/><circle cx="419.1" cy="324.2" r="0.75"/><circle cx="356.9" cy="321.5" r="0.75"/><circle cx="371.2" cy="430.6" r="0.75"/><circle cx="325.8" cy="433.9" r="0.75"/><circle cx="405.6" cy="429.7" r="0.75"/><circle cx="326.5" cy="324.5" r="0.75"/><circle cx="430.5" cy="322.9" r="0.75"/><circle cx="314.8" cy="318.4" r="0.75"/><circle cx="412.5" cy="425.2" r="0.75"/><circle cx="315.9" cy="436.6" r="0.75"/><circle cx="417.3" cy="333.7" r="0.75"/><circle cx="425.1" cy="418.4" r="0.75"/><circle cx="428.6" cy="328.3" r="0.75"/><circle cx="417.2" cy="404.8" r="0.75"/><circle cx="318.3" cy="425.5" r="0.75"/><circle cx="429.8" cy="381.1" r="0.75"/><circle cx="413.9" cy="405.8" r="0.75"/><circle cx="439.2" cy="430.4" r="0.75"/><circle cx="361.6" cy="331" r="0.75"/><circle cx="429.3" cy="423" r="0.75"/><circle cx="440.9" cy="369.7" r="0.75"/><circle cx="339.7" cy="326.3" r="0.75"/><circle cx="408.6" cy="334.6" r="0.75"/><circle cx="444.7" cy="365.3" r="0.75"/><circle cx="383.6" cy="329.8" r="0.75"/><circle cx="322.9" cy="319.1" r="0.75"/><circle cx="321.8" cy="431" r="0.75"/><circle cx="321.3" cy="321.2" r="0.75"/><circle cx="413" cy="332.5" r="0.75"/><circle cx="432.5" cy="365.1" r="0.75"/><circle cx="409.1" cy="406" r="0.75"/><circle cx="431.8" cy="352.7" r="0.75"/><circle cx="376" cy="420.2" r="0.75"/><circle cx="369.8" cy="327.6" r="0.75"/><circle cx="431.6" cy="335.4" r="0.75"/><circle cx="435.4" cy="360.5" r="0.75"/><circle cx="425.9" cy="337.9" r="0.75"/><circle cx="429.2" cy="332.8" r="0.75"/><circle cx="437.4" cy="426.4" r="0.75"/><circle cx="348.3" cy="426.5" r="0.75"/><circle cx="330.1" cy="430.2" r="0.75"/><circle cx="427.2" cy="319" r="0.75"/><circle cx="344" cy="424.5" r="0.75"/><circle cx="434.1" cy="403.3" r="0.75"/><circle cx="435.1" cy="335.2" r="0.75"/><circle cx="411.5" cy="355.3" r="0.75"/><circle cx="433.7" cy="406.5" r="0.75"/><circle cx="427.5" cy="342.8" r="0.75"/><circle cx="439.5" cy="377.5" r="0.75"/><circle cx="376.5" cy="393.2" r="0.75"/><circle cx="440.4" cy="373.6" r="0.75"/><circle cx="419.2" cy="397.2" r="0.75"/><circle cx="415.4" cy="329.4" r="0.75"/><circle cx="444.3" cy="370.7" r="0.75"/><circle cx="404.9" cy="342.7" r="0.75"/><circle cx="378.3" cy="428.5" r="0.75"/><circle cx="382.5" cy="420.9" r="0.75"/><circle cx="435.7" cy="429.3" r="0.75"/><circle cx="359.7" cy="424.6" r="0.75"/><circle cx="376.7" cy="327.8" r="0.75"/><circle cx="378.6" cy="432.2" r="0.75"/><circle cx="437.9" cy="382.7" r="0.75"/><circle cx="427.8" cy="348.7" r="0.75"/><circle cx="389.4" cy="318.3" r="0.75"/><circle cx="420.3" cy="344.3" r="0.75"/><circle cx="336.7" cy="435.5" r="0.75"/><circle cx="436.4" cy="351.5" r="0.75"/><circle cx="402.2" cy="425.6" r="0.75"/><circle cx="436.2" cy="337.8" r="0.75"/><circle cx="444.3" cy="390.3" r="0.75"/><circle cx="357.5" cy="417.2" r="0.75"/><circle cx="436.6" cy="390.4" r="0.75"/><circle cx="388.1" cy="319.3" r="0.75"/><circle cx="312.3" cy="320.7" r="0.75"/><circle cx="420.3" cy="424.7" r="0.75"/><circle cx="367.1" cy="319.5" r="0.75"/><circle cx="365.1" cy="319.8" r="0.75"/><circle cx="432" cy="363.4" r="0.75"/><circle cx="439.5" cy="381.7" r="0.75"/><circle cx="427.4" cy="425.9" r="0.75"/><circle cx="436.9" cy="428.6" r="0.75"/><circle cx="359.9" cy="435" r="0.75"/><circle cx="314.1" cy="427.6" r="0.75"/><circle cx="376.7" cy="327.9" r="0.75"/><circle cx="439" cy="360.6" r="0.75"/><circle cx="394" cy="336.4" r="0.75"/><circle cx="342.3" cy="436.8" r="0.75"/><circle cx="391.8" cy="339" r="0.75"/><circle cx="414.5" cy="429.7" r="0.75"/><circle cx="347.1" cy="334" r="0.75"/><circle cx="433.4" cy="373.1" r="0.75"/><circle cx="394.7" cy="330.6" r="0.75"/><circle cx="384.5" cy="336.1" r="0.75"/><circle cx="330.7" cy="422.7" r="0.75"/><circle cx="332.5" cy="434" r="0.75"/><circle cx="335" cy="425.6" r="0.75"/><circle cx="382.7" cy="358.5" r="0.75"/><circle cx="399" cy="424.8" r="0.75"/><circle cx="403.1" cy="347.8" r="0.75"/><circle cx="433.3" cy="395.9" r="0.75"/><circle cx="362.1" cy="435.7" r="0.75"/><circle cx="395.3" cy="342.5" r="0.75"/><circle cx="413.5" cy="417.8" r="0.75"/><circle cx="390.3" cy="408.7" r="0.75"/><circle cx="415.8" cy="325.1" r="0.75"/><circle cx="410.8" cy="425.2" r="0.75"/><circle cx="430.5" cy="344.4" r="0.75"/><circle cx="433.7" cy="415.7" r="0.75"/><circle cx="436.2" cy="352.1" r="0.75"/><circle cx="385.4" cy="323.3" r="0.75"/><circle cx="362.3" cy="433.2" r="0.75"/><circle cx="313.6" cy="439.5" r="0.75"/><circle cx="424.6" cy="368.1" r="0.75"/><circle cx="431" cy="428.7" r="0.75"/><circle cx="440.2" cy="393.7" r="0.75"/><circle cx="394.8" cy="324.1" r="0.75"/><circle cx="380.3" cy="430.3" r="0.75"/><circle cx="311.6" cy="435.6" r="0.75"/><circle cx="429.7" cy="402.6" r="0.75"/><circle cx="335.6" cy="427.3" r="0.75"/><circle cx="355.1" cy="436.2" r="0.75"/><circle cx="422.6" cy="401.5" r="0.75"/><circle cx="444.9" cy="381.1" r="0.75"/><circle cx="442.4" cy="350.4" r="0.75"/><circle cx="416" cy="394.6" r="0.75"/><circle cx="435.8" cy="416.7" r="0.75"/><circle cx="444.3" cy="396.3" r="0.75"/><circle cx="436.3" cy="399.7" r="0.75"/><circle cx="424.9" cy="320.6" r="0.75"/><circle cx="336.9" cy="322.1" r="0.75"/><circle cx="430.5" cy="400.5" r="0.75"/><circle cx="430" cy="378.9" r="0.75"/><circle cx="424.2" cy="345.5" r="0.75"/><circle cx="312.3" cy="324.2" r="0.75"/><circle cx="410.8" cy="359.4" r="0.75"/><circle cx="377.4" cy="433.2" r="0.75"/><circle cx="332" cy="416.2" r="0.75"/><circle cx="408" cy="347.5" r="0.75"/><circle cx="366.4" cy="318.8" r="0.75"/><circle cx="319.7" cy="427.5" r="0.75"/><circle cx="345.8" cy="424.6" r="0.75"/><circle cx="437.3" cy="323.6" r="0.75"/><circle cx="374.3" cy="382" r="0.75"/><circle cx="432.1" cy="331" r="0.75"/><circle cx="423.4" cy="413.6" r="0.75"/><circle cx="384.4" cy="335" r="0.75"/><circle cx="311.8" cy="328.2" r="0.75"/><circle cx="417.4" cy="427.6" r="0.75"/><circle cx="433.2" cy="405" r="0.75"/><circle cx="399.8" cy="322.2" r="0.75"/><circle cx="385.9" cy="326.6" r="0.75"/><circle cx="387.4" cy="333.8" r="0.75"/><circle cx="382.3" cy="321.2" r="0.75"/><circle cx="349.1" cy="423.5" r="0.75"/><circle cx="420.4" cy="349.3" r="0.75"/><circle cx="413.2" cy="396.3" r="0.75"/><circle cx="352.6" cy="423.6" r="0.75"/><circle cx="441.9" cy="364.2" r="0.75"/><circle cx="435.4" cy="410.9" r="0.75"/><circle cx="380.6" cy="413" r="0.75"/><circle cx="370.5" cy="318.7" r="0.75"/><circle cx="441.6" cy="389.8" r="0.75"/><circle cx="328.9" cy="324.7" r="0.75"/><circle cx="354.2" cy="428.3" r="0.75"/><circle cx="421.4" cy="338.5" r="0.75"/><circle cx="310.8" cy="321.1" r="0.75"/><circle cx="421.1" cy="415" r="0.75"/><circle cx="407" cy="399.2" r="0.75"/><circle cx="439.7" cy="384.5" r="0.75"/><circle cx="403.1" cy="329" r="0.75"/><circle cx="385.9" cy="412.8" r="0.75"/><circle cx="403.5" cy="429.8" r="0.75"/><circle cx="358.2" cy="343.6" r="0.75"/><circle cx="412.9" cy="374.7" r="0.75"/><circle cx="427.1" cy="405.8" r="0.75"/><circle cx="443.8" cy="369.2" r="0.75"/><circle cx="323" cy="424" r="0.75"/><circle cx="410.7" cy="384.6" r="0.75"/><circle cx="437.7" cy="346.1" r="0.75"/><circle cx="361.8" cy="429.8" r="0.75"/><circle cx="367.9" cy="422.9" r="0.75"/><circle cx="325.1" cy="324.5" r="0.75"/><circle cx="339.1" cy="435.2" r="0.75"/><circle cx="344" cy="384.6" r="0.75"/><circle cx="329.5" cy="414.7" r="0.75"/><circle cx="428.6" cy="326.7" r="0.75"/><circle cx="438.8" cy="374.2" r="0.75"/><circle cx="328.2" cy="427.5" r="0.75"/><circle cx="387.1" cy="427.7" r="0.75"/><circle cx="435" cy="415" r="0.75"/><circle cx="441.5" cy="405.9" r="0.75"/><circle cx="313.6" cy="431.8" r="0.75"/><circle cx="365.4" cy="328.4" r="0.75"/><circle cx="337.5" cy="426.6" r="0.75"/><circle cx="389.9" cy="319.4" r="0.75"/><circle cx="316.9" cy="324.8" r="0.75"/><circle cx="394.1" cy="418.2" r="0.75"/><circle cx="433.7" cy="426.5" r="0.75"/><circle cx="439.4" cy="325.2" r="0.75"/><circle cx="390.1" cy="334.9" r="0.75"/><circle cx="387.1" cy="331.7" r="0.75"/><circle cx="426.8" cy="416.7" r="0.75"/><circle cx="418.9" cy="330.1" r="0.75"/><circle cx="431.7" cy="381.7" r="0.75"/><circle cx="441.6" cy="406.6" r="0.75"/><circle cx="398.6" cy="336.8" r="0.75"/><circle cx="350.2" cy="321" r="0.75"/><circle cx="434.8" cy="391.3" r="0.75"/><circle cx="375.4" cy="420.5" r="0.75"/><circle cx="444.1" cy="363.4" r="0.75"/><circle cx="342.2" cy="318.8" r="0.75"/><circle cx="440" cy="357.1" r="0.75"/><circle cx="401.2" cy="418.2" r="0.75"/><circle cx="319.3" cy="436.3" r="0.75"/><circle cx="354.9" cy="321.4" r="0.75"/><circle cx="385.9" cy="417.7" r="0.75"/><circle cx="369.1" cy="412.1" r="0.75"/><circle cx="424.5" cy="350.7" r="0.75"/><circle cx="321.8" cy="423.2" r="0.75"/><circle cx="371.8" cy="332" r="0.75"/><circle cx="386.1" cy="318.9" r="0.75"/><circle cx="342.7" cy="434.4" r="0.75"/><circle cx="398.2" cy="427.8" r="0.75"/><circle cx="437.5" cy="385.1" r="0.75"/><circle cx="320.5" cy="326.6" r="0.75"/><circle cx="417.7" cy="359" r="0.75"/><circle cx="334.9" cy="324" r="0.75"/><circle cx="417.7" cy="331.5" r="0.75"/><circle cx="370.1" cy="426.5" r="0.75"/><circle cx="383.2" cy="429.2" r="0.75"/><circle cx="311.3" cy="418.2" r="0.75"/><circle cx="430.7" cy="397.3" r="0.75"/><circle cx="395.7" cy="427.4" r="0.75"/><circle cx="427.6" cy="332.2" r="0.75"/><circle cx="409.8" cy="430.9" r="0.75"/><circle cx="341.7" cy="321.1" r="0.75"/><circle cx="444" cy="389.3" r="0.75"/><circle cx="400" cy="322" r="0.75"/><circle cx="434.5" cy="350" r="0.75"/><circle cx="439.1" cy="355.5" r="0.75"/><circle cx="395.7" cy="319.9" r="0.75"/><circle cx="439.2" cy="396.1" r="0.75"/><circle cx="347.4" cy="421.8" r="0.75"/><circle cx="364.4" cy="320.9" r="0.75"/><circle cx="340.9" cy="339.1" r="0.75"/><circle cx="360.8" cy="330.6" r="0.75"/><circle cx="321.5" cy="433.9" r="0.75"/><circle cx="395.3" cy="331.3" r="0.75"/><circle cx="341.5" cy="415.9" r="0.75"/><circle cx="428" cy="322.6" r="0.75"/><circle cx="414" cy="354.5" r="0.75"/><circle cx="367.8" cy="395.7" r="0.75"/><circle cx="369.3" cy="334.4" r="0.75"/><circle cx="417.1" cy="321" r="0.75"/><circle cx="439.1" cy="323.7" r="0.75"/><circle cx="367.8" cy="425.8" r="0.75"/><circle cx="428.4" cy="430" r="0.75"/><circle cx="359.1" cy="432.4" r="0.75"/><circle cx="332.9" cy="419.4" r="0.75"/><circle cx="438.2" cy="397.7" r="0.75"/><circle cx="381.9" cy="375.8" r="0.75"/><circle cx="349.2" cy="422.2" r="0.75"/><circle cx="434.4" cy="422.1" r="0.75"/><circle cx="430.5" cy="420.5" r="0.75"/><circle cx="401.2" cy="346" r="0.75"/><circle cx="436" cy="402.6" r="0.75"/><circle cx="398.4" cy="333.3" r="0.75"/><circle cx="383.7" cy="431.5" r="0.75"/><circle cx="357.7" cy="328" r="0.75"/><circle cx="409.8" cy="431.7" r="0.75"/><circle cx="403.6" cy="333.2" r="0.75"/><circle cx="436.4" cy="419.4" r="0.75"/><circle cx="438.9" cy="330.1" r="0.75"/><circle cx="394.9" cy="429.4" r="0.75"/><circle cx="412.9" cy="348.7" r="0.75"/><circle cx="332" cy="321.3" r="0.75"/><circle cx="427.4" cy="422" r="0.75"/><circle cx="342.3" cy="323" r="0.75"/><circle cx="440" cy="419.2" r="0.75"/><circle cx="443.3" cy="393.7" r="0.75"/><circle cx="432.6" cy="415" r="0.75"/><circle cx="417.9" cy="424.7" r="0.75"/><circle cx="439.3" cy="318.9" r="0.75"/><circle cx="402.8" cy="324" r="0.75"/><circle cx="438.3" cy="327.9" r="0.75"/><circle cx="384.4" cy="425.9" r="0.75"/><circle cx="379.4" cy="327.6" r="0.75"/><circle cx="422.6" cy="319.4" r="0.75"/><circle cx="417.7" cy="336.6" r="0.75"/><circle cx="425" cy="343.1" r="0.75"/><circle cx="329.5" cy="432.8" r="0.75"/><circle cx="318.8" cy="330.3" r="0.75"/><circle cx="338" cy="436.6" r="0.75"/><circle cx="312.4" cy="422.8" r="0.75"/><circle cx="314.5" cy="323" r="0.75"/><circle cx="377.9" cy="328.9" r="0.75"/><circle cx="433" cy="403.5" r="0.75"/><circle cx="382.6" cy="432.3" r="0.75"/><circle cx="434.8" cy="420.7" r="0.75"/><circle cx="437.1" cy="351.4" r="0.75"/><circle cx="341" cy="417.2" r="0.75"/><circle cx="408.9" cy="416.1" r="0.75"/><circle cx="399.4" cy="321.4" r="0.75"/><circle cx="428.2" cy="408.2" r="0.75"/><circle cx="427.3" cy="369.6" r="0.75"/><circle cx="320.7" cy="321.2" r="0.75"/><circle cx="372.7" cy="322" r="0.75"/><circle cx="437.9" cy="400.4" r="0.75"/><circle cx="430.8" cy="422.2" r="0.75"/><circle cx="335.9" cy="433.7" r="0.75"/><circle cx="436.7" cy="342.4" r="0.75"/><circle cx="369.8" cy="399.6" r="0.75"/><circle cx="397.1" cy="336.9" r="0.75"/><circle cx="339.9" cy="429.1" r="0.75"/><circle cx="374" cy="331.4" r="0.75"/><circle cx="339" cy="323.8" r="0.75"/><circle cx="443.1" cy="425.6" r="0.75"/><circle cx="424.9" cy="411.1" r="0.75"/><circle cx="371.1" cy="432" r="0.75"/><circle cx="442" cy="392.4" r="0.75"/><circle cx="322" cy="409.9" r="0.75"/><circle cx="395" cy="388.2" r="0.75"/><circle cx="342.2" cy="432.1" r="0.75"/><circle cx="397.4" cy="335.7" r="0.75"/><circle cx="351.7" cy="323.2" r="0.75"/><circle cx="419.6" cy="331.8" r="0.75"/><circle cx="337.7" cy="432.9" r="0.75"/><circle cx="408" cy="341.9" r="0.75"/><circle cx="439" cy="424.4" r="0.75"/><circle cx="389" cy="368.1" r="0.75"/><circle cx="417" cy="423.7" r="0.75"/><circle cx="356.7" cy="332" r="0.75"/><circle cx="314" cy="415.5" r="0.75"/><circle cx="426.2" cy="375.6" r="0.75"/><circle cx="423.1" cy="414.5" r="0.75"/><circle cx="390.5" cy="419.3" r="0.75"/><circle cx="353.6" cy="418.9" r="0.75"/><circle cx="322.7" cy="318.4" r="0.75"/><circle cx="314.7" cy="429.6" r="0.75"/><circle cx="382.2" cy="421.5" r="0.75"/><circle cx="409.5" cy="385.4" r="0.75"/><circle cx="316.2" cy="409.8" r="0.75"/><circle cx="406.7" cy="374.6" r="0.75"/><circle cx="310.3" cy="318" r="0.75"/><circle cx="372.6" cy="431.6" r="0.75"/><circle cx="413.1" cy="363.7" r="0.75"/><circle cx="395.5" cy="327.5" r="0.75"/><circle cx="421.2" cy="430.5" r="0.75"/><circle cx="407" cy="318.7" r="0.75"/><circle cx="430.8" cy="358.6" r="0.75"/><circle cx="404.6" cy="325" r="0.75"/><circle cx="422.7" cy="414" r="0.75"/><circle cx="391.2" cy="431.6" r="0.75"/><circle cx="314.6" cy="320.3" r="0.75"/><circle cx="327.4" cy="431.8" r="0.75"/><circle cx="375.3" cy="322.1" r="0.75"/><circle cx="407.5" cy="431.9" r="0.75"/><circle cx="426.5" cy="418.6" r="0.75"/><circle cx="340.3" cy="327.6" r="0.75"/><circle cx="357" cy="422.7" r="0.75"/><circle cx="376.1" cy="331.5" r="0.75"/><circle cx="406.2" cy="427.1" r="0.75"/><circle cx="382.6" cy="363.2" r="0.75"/><circle cx="395.8" cy="334.2" r="0.75"/><circle cx="427.9" cy="366.7" r="0.75"/><circle cx="435.8" cy="320.9" r="0.75"/><circle cx="350.7" cy="331.1" r="0.75"/><circle cx="436.1" cy="358.7" r="0.75"/><circle cx="361.2" cy="321.2" r="0.75"/><circle cx="325.1" cy="324.2" r="0.75"/><circle cx="432.1" cy="355.4" r="0.75"/><circle cx="436.7" cy="326.8" r="0.75"/><circle cx="422.4" cy="420.5" r="0.75"/><circle cx="340.3" cy="412.2" r="0.75"/><circle cx="391.4" cy="318.1" r="0.75"/><circle cx="372.3" cy="427.3" r="0.75"/><circle cx="409.2" cy="324.1" r="0.75"/><circle cx="339.2" cy="429.1" r="0.75"/><circle cx="380.7" cy="324.7" r="0.75"/><circle cx="331.5" cy="414" r="0.75"/><circle cx="440.4" cy="408.3" r="0.75"/><circle cx="382.4" cy="334.6" r="0.75"/><circle cx="327.9" cy="321" r="0.75"/><circle cx="434.4" cy="373.5" r="0.75"/><circle cx="424.8" cy="395.7" r="0.75"/><circle cx="311.2" cy="323.7" r="0.75"/><circle cx="437.7" cy="387.5" r="0.75"/><circle cx="418.1" cy="383" r="0.75"/><circle cx="319.3" cy="424.6" r="0.75"/><circle cx="432.2" cy="415.5" r="0.75"/><circle cx="422.2" cy="344.7" r="0.75"/><circle cx="377.6" cy="420.8" r="0.75"/><circle cx="310.9" cy="427" r="0.75"/><circle cx="325.2" cy="422.6" r="0.75"/><circle cx="348" cy="422.1" r="0.75"/><circle cx="442.8" cy="410.6" r="0.75"/><circle cx="406.3" cy="333.4" r="0.75"/><circle cx="339.4" cy="322.8" r="0.75"/><circle cx="435.3" cy="411.6" r="0.75"/><circle cx="429.1" cy="353.4" r="0.75"/><circle cx="341.2" cy="426.4" r="0.75"/><circle cx="430.7" cy="329.2" r="0.75"/><circle cx="317.8" cy="435.3" r="0.75"/><circle cx="333" cy="327.5" r="0.75"/><circle cx="402.3" cy="329.1" r="0.75"/><circle cx="317.3" cy="423.9" r="0.75"/><circle cx="423.9" cy="431.4" r="0.75"/><circle cx="413.4" cy="323.8" r="0.75"/><circle cx="429.9" cy="356.9" r="0.75"/><circle cx="323.2" cy="325.6" r="0.75"/><circle cx="437.8" cy="407.6" r="0.75"/><circle cx="359.8" cy="421.4" r="0.75"/><circle cx="416.8" cy="332.9" r="0.75"/><circle cx="431.8" cy="395.5" r="0.75"/><circle cx="396.7" cy="389.8" r="0.75"/><circle cx="411.9" cy="400.6" r="0.75"/><circle cx="345.2" cy="428.8" r="0.75"/><circle cx="311.6" cy="419.9" r="0.75"/><circle cx="358.2" cy="318.3" r="0.75"/><circle cx="310.1" cy="320.2" r="0.75"/><circle cx="314.5" cy="436.7" r="0.75"/><circle cx="425.3" cy="343.7" r="0.75"/><circle cx="396.9" cy="325" r="0.75"/><circle cx="341.4" cy="432.5" r="0.75"/><circle cx="443.6" cy="401.3" r="0.75"/><circle cx="331" cy="427.2" r="0.75"/><circle cx="425.2" cy="361.6" r="0.75"/><circle cx="430.8" cy="365.4" r="0.75"/><circle cx="376.1" cy="319.7" r="0.75"/><circle cx="433.1" cy="429.3" r="0.75"/><circle cx="420.8" cy="352.1" r="0.75"/><circle cx="432" cy="404.9" r="0.75"/><circle cx="376.6" cy="328" r="0.75"/><circle cx="432.2" cy="405.3" r="0.75"/><circle cx="385.4" cy="327" r="0.75"/><circle cx="311.9" cy="322.5" r="0.75"/><circle cx="365.1" cy="319.3" r="0.75"/><circle cx="411.1" cy="323.5" r="0.75"/><circle cx="418.1" cy="429.2" r="0.75"/><circle cx="364.2" cy="412.9" r="0.75"/><circle cx="358.5" cy="427.4" r="0.75"/><circle cx="326" cy="321.2" r="0.75"/><circle cx="327.7" cy="421" r="0.75"/><circle cx="322.7" cy="431.5" r="0.75"/><circle cx="410.2" cy="342" r="0.75"/><circle cx="436.6" cy="337.8" r="0.75"/><circle cx="439.1" cy="408.2" r="0.75"/><circle cx="314.7" cy="422.4" r="0.75"/><circle cx="381.4" cy="432.6" r="0.75"/><circle cx="436" cy="343.7" r="0.75"/><circle cx="342.4" cy="432.8" r="0.75"/><circle cx="326.6" cy="424.1" r="0.75"/><circle cx="350.1" cy="418.6" r="0.75"/><circle cx="357.7" cy="322.6" r="0.75"/><circle cx="345.9" cy="430.3" r="0.75"/><circle cx="385.1" cy="319.5" r="0.75"/><circle cx="401.5" cy="423.3" r="0.75"/><circle cx="360.2" cy="430.9" r="0.75"/><circle cx="402.6" cy="336.2" r="0.75"/><circle cx="427.5" cy="406.5" r="0.75"/><circle cx="440.6" cy="344.8" r="0.75"/><circle cx="366.4" cy="329.5" r="0.75"/><circle cx="320.6" cy="417.1" r="0.75"/><circle cx="398.4" cy="334.3" r="0.75"/><circle cx="379" cy="421.4" r="0.75"/><circle cx="431.3" cy="361.6" r="0.75"/><circle cx="444.7" cy="410" r="0.75"/><circle cx="438.6" cy="410.3" r="0.75"/><circle cx="433" cy="329.9" r="0.75"/><circle cx="354" cy="319.9" r="0.75"/><circle cx="443.3" cy="407.6" r="0.75"/><circle cx="417.8" cy="343.3" r="0.75"/><circle cx="428.8" cy="326.2" r="0.75"/><circle cx="344.6" cy="324.8" r="0.75"/><circle cx="345.9" cy="331" r="0.75"/><circle cx="414.4" cy="318.9" r="0.75"/><circle cx="402.3" cy="318.7" r="0.75"/><circle cx="384.7" cy="329.4" r="0.75"/><circle cx="441" cy="331.3" r="0.75"/><circle cx="437.6" cy="421.6" r="0.75"/><circle cx="354.3" cy="343.2" r="0.75"/><circle cx="364.1" cy="339.6" r="0.75"/><circle cx="398.6" cy="325.9" r="0.75"/><circle cx="393.1" cy="324.8" r="0.75"/><circle cx="418" cy="429.2" r="0.75"/><circle cx="424.9" cy="346.7" r="0.75"/><circle cx="332.7" cy="437.7" r="0.75"/><circle cx="427" cy="378.8" r="0.75"/><circle cx="432.4" cy="359.8" r="0.75"/><circle cx="371.2" cy="331.5" r="0.75"/><circle cx="369" cy="433.3" r="0.75"/><circle cx="424.7" cy="318.4" r="0.75"/><circle cx="404.8" cy="322.4" r="0.75"/><circle cx="433.6" cy="368.2" r="0.75"/><circle cx="349.6" cy="436.8" r="0.75"/><circle cx="354.2" cy="362.4" r="0.75"/><circle cx="339.4" cy="335.8" r="0.75"/><circle cx="430.5" cy="415.6" r="0.75"/><circle cx="350.2" cy="432.4" r="0.75"/><circle cx="416.9" cy="331.9" r="0.75"/><circle cx="393.5" cy="325.1" r="0.75"/><circle cx="407.9" cy="325" r="0.75"/><circle cx="391" cy="333.8" r="0.75"/><circle cx="443" cy="345.8" r="0.75"/><circle cx="435.3" cy="377.4" r="0.75"/><circle cx="426" cy="353.4" r="0.75"/><circle cx="443.1" cy="340.5" r="0.75"/><circle cx="429.8" cy="422" r="0.75"/><circle cx="355.1" cy="322.1" r="0.75"/><circle cx="439.6" cy="405.9" r="0.75"/><circle cx="406.4" cy="321.1" r="0.75"/><circle cx="386.7" cy="330.5" r="0.75"/><circle cx="414.7" cy="346.9" r="0.75"/><circle cx="344.8" cy="436.4" r="0.75"/><circle cx="350.5" cy="434.5" r="0.75"/><circle cx="376" cy="343.2" r="0.75"/><circle cx="379.6" cy="431.1" r="0.75"/><circle cx="442.6" cy="366.3" r="0.75"/><circle cx="388.2" cy="341.2" r="0.75"/><circle cx="331.7" cy="433.1" r="0.75"/><circle cx="432.7" cy="387" r="0.75"/><circle cx="343.9" cy="420.9" r="0.75"/><circle cx="428.2" cy="381.2" r="0.75"/><circle cx="440.1" cy="418.3" r="0.75"/><circle cx="420.2" cy="338" r="0.75"/><circle cx="431.2" cy="411.9" r="0.75"/><circle cx="312.3" cy="419.7" r="0.75"/><circle cx="403.8" cy="320.9" r="0.75"/><circle cx="339.1" cy="425.9" r="0.75"/><circle cx="393.2" cy="429" r="0.75"/><circle cx="435.3" cy="357.2" r="0.75"/><circle cx="415.6" cy="342.8" r="0.75"/><circle cx="335.4" cy="432.1" r="0.75"/><circle cx="414.2" cy="340.9" r="0.75"/><circle cx="439.6" cy="322.8" r="0.75"/><circle cx="334.7" cy="334.6" r="0.75"/><circle cx="442.4" cy="338" r="0.75"/><circle cx="343.7" cy="426.2" r="0.75"/><circle cx="403.9" cy="324.9" r="0.75"/><circle cx="436.2" cy="381.8" r="0.75"/><circle cx="355" cy="320.9" r="0.75"/><circle cx="444.6" cy="383.6" r="0.75"/><circle cx="370.8" cy="325.9" r="0.75"/><circle cx="329.4" cy="331.9" r="0.75"/><circle cx="422.8" cy="371.6" r="0.75"/><circle cx="431.6" cy="341.6" r="0.75"/><circle cx="427.7" cy="323.5" r="0.75"/><circle cx="313.8" cy="433.7" r="0.75"/><circle cx="421.9" cy="418" r="0.75"/><circle cx="412" cy="326.2" r="0.75"/><circle cx="435.6" cy="403.6" r="0.75"/><circle cx="444.2" cy="382.2" r="0.75"/><circle cx="335.5" cy="422.3" r="0.75"/><circle cx="423.4" cy="419.7" r="0.75"/><circle cx="383" cy="432.1" r="0.75"/><circle cx="311.7" cy="334.1" r="0.75"/><circle cx="393.2" cy="322.3" r="0.75"/><circle cx="435.1" cy="348.8" r="0.75"/><circle cx="355.8" cy="412.1" r="0.75"/><circle cx="367.6" cy="324.2" r="0.75"/><circle cx="435.8" cy="424.5" r="0.75"/><circle cx="436.8" cy="410.7" r="0.75"/><circle cx="393.3" cy="407.2" r="0.75"/><circle cx="420.9" cy="404.5" r="0.75"/><circle cx="313.1" cy="425" r="0.75"/><circle cx="442.8" cy="340.8" r="0.75"/><circle cx="441.3" cy="408.9" r="0.75"/><circle cx="394.3" cy="417" r="0.75"/><circle cx="438.1" cy="341.1" r="0.75"/><circle cx="444.6" cy="365.8" r="0.75"/><circle cx="365.4" cy="421.1" r="0.75"/><circle cx="390.9" cy="318.2" r="0.75"/><circle cx="380.9" cy="355.9" r="0.75"/><circle cx="332.6" cy="424.1" r="0.75"/><circle cx="401.5" cy="345.2" r="0.75"/><circle cx="398.5" cy="432.2" r="0.75"/><circle cx="349.4" cy="321.2" r="0.75"/><circle cx="441.1" cy="363.4" r="0.75"/><circle cx="403.3" cy="334.7" r="0.75"/><circle cx="319.8" cy="428.4" r="0.75"/><circle cx="438.8" cy="353.2" r="0.75"/><circle cx="442.5" cy="338.1" r="0.75"/><circle cx="361.7" cy="386.8" r="0.75"/><circle cx="339.2" cy="422.9" r="0.75"/><circle cx="314.2" cy="433.9" r="0.75"/><circle cx="403.1" cy="335.4" r="0.75"/><circle cx="420.1" cy="345.9" r="0.75"/><circle cx="369.1" cy="334.9" r="0.75"/><circle cx="417.3" cy="370.3" r="0.75"/><circle cx="396.3" cy="350" r="0.75"/><circle cx="434.2" cy="417.9" r="0.75"/><circle cx="384" cy="424.8" r="0.75"/><circle cx="405.1" cy="421.4" r="0.75"/><circle cx="427" cy="323" r="0.75"/><circle cx="443" cy="365.8" r="0.75"/><circle cx="358.7" cy="332.5" r="0.75"/><circle cx="435.1" cy="340.1" r="0.75"/><circle cx="351.8" cy="421.6" r="0.75"/><circle cx="399" cy="432.1" r="0.75"/><circle cx="393.7" cy="415.2" r="0.75"/><circle cx="342.6" cy="336" r="0.75"/><circle cx="443.4" cy="420.5" r="0.75"/><circle cx="315.7" cy="424.4" r="0.75"/><circle cx="363.4" cy="430.6" r="0.75"/><circle cx="385.9" cy="322.9" r="0.75"/><circle cx="416.4" cy="345.9" r="0.75"/><circle cx="410.1" cy="321.4" r="0.75"/><circle cx="426.9" cy="350.9" r="0.75"/><circle cx="430.1" cy="420" r="0.75"/><circle cx="409" cy="338.4" r="0.75"/><circle cx="403.8" cy="319" r="0.75"/><circle cx="371" cy="429.1" r="0.75"/><circle cx="405.7" cy="328.1" r="0.75"/><circle cx="435.1" cy="331.8" r="0.75"/><circle cx="440.6" cy="327.7" r="0.75"/><circle cx="436.6" cy="355.1" r="0.75"/><circle cx="394.1" cy="425.8" r="0.75"/><circle cx="425.9" cy="362.4" r="0.75"/><circle cx="440.3" cy="361.5" r="0.75"/><circle cx="438.9" cy="407.6" r="0.75"/><circle cx="397.4" cy="330.8" r="0.75"/><circle cx="439.2" cy="423.4" r="0.75"/><circle cx="398.9" cy="420.7" r="0.75"/><circle cx="427.3" cy="353.1" r="0.75"/><circle cx="431.6" cy="335.9" r="0.75"/><circle cx="439.9" cy="330.6" r="0.75"/><circle cx="435.2" cy="383.9" r="0.75"/><circle cx="389.5" cy="318.8" r="0.75"/><circle cx="415.6" cy="326.6" r="0.75"/><circle cx="423.9" cy="349.5" r="0.75"/><circle cx="440.6" cy="327.6" r="0.75"/><circle cx="444.8" cy="390.5" r="0.75"/><circle cx="436.9" cy="374.7" r="0.75"/><circle cx="428.6" cy="320" r="0.75"/><circle cx="392.1" cy="336.5" r="0.75"/><circle cx="412.8" cy="335.8" r="0.75"/><circle cx="320.6" cy="411.7" r="0.75"/><circle cx="344.9" cy="430.7" r="0.75"/><circle cx="310.6" cy="323.1" r="0.75"/><circle cx="414.5" cy="385.6" r="0.75"/><circle cx="420.8" cy="419.9" r="0.75"/><circle cx="410" cy="420.1" r="0.75"/><circle cx="402.6" cy="419.9" r="0.75"/><circle cx="365.1" cy="346" r="0.75"/><circle cx="399.8" cy="335.3" r="0.75"/><circle cx="352.8" cy="424.8" r="0.75"/><circle cx="408.2" cy="331.2" r="0.75"/><circle cx="437" cy="353.9" r="0.75"/><circle cx="324.6" cy="422.2" r="0.75"/><circle cx="408.1" cy="419.4" r="0.75"/><circle cx="411.1" cy="423.6" r="0.75"/><circle cx="413.8" cy="330.7" r="0.75"/><circle cx="430.8" cy="403.7" r="0.75"/><circle cx="343.5" cy="425.9" r="0.75"/><circle cx="319.8" cy="427.4" r="0.75"/><circle cx="417.5" cy="332.1" r="0.75"/><circle cx="434.2" cy="410" r="0.75"/><circle cx="332.5" cy="423.5" r="0.75"/><circle cx="347.9" cy="432" r="0.75"/><circle cx="417.9" cy="318.1" r="0.75"/><circle cx="337.7" cy="433" r="0.75"/><circle cx="420.3" cy="403" r="0.75"/><circle cx="428.3" cy="406.5" r="0.75"/><circle cx="356" cy="323.4" r="0.75"/><circle cx="358.2" cy="339.3" r="0.75"/><circle cx="433.5" cy="364.3" r="0.75"/><circle cx="438.1" cy="385.5" r="0.75"/><circle cx="436.6" cy="329.3" r="0.75"/><circle cx="319.3" cy="332.3" r="0.75"/><circle cx="389.3" cy="418.8" r="0.75"/><circle cx="331.2" cy="429.6" r="0.75"/><circle cx="430.6" cy="344" r="0.75"/><circle cx="433.7" cy="420" r="0.75"/><circle cx="416.1" cy="327.7" r="0.75"/><circle cx="365.2" cy="427.9" r="0.75"/><circle cx="381.8" cy="422.8" r="0.75"/><circle cx="437.5" cy="382.5" r="0.75"/><circle cx="320.1" cy="429.8" r="0.75"/><circle cx="313.7" cy="321.6" r="0.75"/><circle cx="405.3" cy="346.6" r="0.75"/><circle cx="321.8" cy="438.3" r="0.75"/><circle cx="325.1" cy="334.9" r="0.75"/><circle cx="392.4" cy="319.5" r="0.75"/><circle cx="421.6" cy="353.2" r="0.75"/><circle cx="423.2" cy="327.2" r="0.75"/><circle cx="413.2" cy="366" r="0.75"/><circle cx="391.7" cy="324.2" r="0.75"/><circle cx="444.5" cy="361" r="0.75"/><circle cx="440" cy="358.6" r="0.75"/><circle cx="435.1" cy="416.8" r="0.75"/><circle cx="317.7" cy="422.5" r="0.75"/><circle cx="407" cy="319.9" r="0.75"/><circle cx="443.5" cy="421.1" r="0.75"/><circle cx="416.1" cy="421.5" r="0.75"/><circle cx="435.1" cy="326" r="0.75"/><circle cx="440.2" cy="401.2" r="0.75"/><circle cx="336.2" cy="321.4" r="0.75"/><circle cx="373.4" cy="334.8" r="0.75"/><circle cx="413.8" cy="430.2" r="0.75"/><circle cx="438.5" cy="376.5" r="0.75"/><circle cx="397.8" cy="328.6" r="0.75"/><circle cx="361.3" cy="325.6" r="0.75"/><circle cx="404.9" cy="353.3" r="0.75"/><circle cx="345.8" cy="428.3" r="0.75"/><circle cx="310.5" cy="321.7" r="0.75"/><circle cx="432.9" cy="425.5" r="0.75"/><circle cx="407.2" cy="340" r="0.75"/><circle cx="329.6" cy="321.1" r="0.75"/><circle cx="395.3" cy="424.9" r="0.75"/><circle cx="355.2" cy="322.5" r="0.75"/><circle cx="402.2" cy="327" r="0.75"/><circle cx="413.5" cy="334.3" r="0.75"/><circle cx="428.7" cy="339.5" r="0.75"/><circle cx="419.6" cy="392.8" r="0.75"/><circle cx="410.4" cy="325.5" r="0.75"/><circle cx="407.9" cy="386.6" r="0.75"/><circle cx="339.4" cy="326" r="0.75"/><circle cx="370.7" cy="321.4" r="0.75"/><circle cx="317.9" cy="433.9" r="0.75"/><circle cx="440.4" cy="389.5" r="0.75"/><circle cx="414.1" cy="334.8" r="0.75"/><circle cx="322" cy="322.2" r="0.75"/><circle cx="368.4" cy="327.2" r="0.75"/><circle cx="364.8" cy="428.4" r="0.75"/><circle cx="351" cy="422.1" r="0.75"/><circle cx="325.9" cy="424.8" r="0.75"/><circle cx="385.3" cy="427.8" r="0.75"/><circle cx="363.6" cy="434.3" r="0.75"/><circle cx="339.1" cy="427.4" r="0.75"/><circle cx="392.7" cy="424.2" r="0.75"/><circle cx="438.3" cy="373.9" r="0.75"/><circle cx="374.3" cy="328.9" r="0.75"/><circle cx="332.1" cy="419.9" r="0.75"/><circle cx="344.9" cy="318" r="0.75"/><circle cx="323.5" cy="436.3" r="0.75"/><circle cx="436.6" cy="389.4" r="0.75"/><circle cx="379.6" cy="420.9" r="0.75"/><circle cx="403.7" cy="423.3" r="0.75"/><circle cx="392.6" cy="325.8" r="0.75"/><circle cx="320.2" cy="321.9" r="0.75"/><circle cx="414.6" cy="422.8" r="0.75"/><circle cx="422.2" cy="393.4" r="0.75"/><circle cx="413.1" cy="381.3" r="0.75"/><circle cx="438.6" cy="327.9" r="0.75"/><circle cx="369.6" cy="426" r="0.75"/><circle cx="328.3" cy="426.2" r="0.75"/><circle cx="410.8" cy="336.6" r="0.75"/><circle cx="337.1" cy="431" r="0.75"/><circle cx="415" cy="425" r="0.75"/><circle cx="390.7" cy="423.5" r="0.75"/><circle cx="438.7" cy="322.8" r="0.75"/><circle cx="413.4" cy="323.3" r="0.75"/><circle cx="333.3" cy="438.1" r="0.75"/><circle cx="329.1" cy="427.2" r="0.75"/><circle cx="353.6" cy="318.6" r="0.75"/><circle cx="320" cy="435.8" r="0.75"/><circle cx="373.7" cy="332.7" r="0.75"/><circle cx="406.9" cy="414.9" r="0.75"/><circle cx="426.5" cy="333.1" r="0.75"/><circle cx="421.4" cy="319.5" r="0.75"/><circle cx="429.3" cy="341.6" r="0.75"/><circle cx="416.3" cy="427.2" r="0.75"/><circle cx="411.6" cy="428.1" r="0.75"/>
</g>
<polyline points="310.7,383.4 323,381 335.6,379.3 347,378 359.3,377.4 371.1,377.1 383,377.7 394.9,379 411.5,382.5 423.7,385.5 435,389 447.4,392.3 459,395.5 469.2,398.5 480,401.2 492.3,404.2 511.5,408.2" fill="none" stroke="#f00" stroke-width="2.2" stroke-linejoin="round"/>
<rect x="304.1" y="272" width="214.39999999999998" height="201.2" fill="none" stroke="#000" stroke-width="1.3"/>
<path d="M311.9 473.2v3.5 M362.3 473.2v3.5 M412.6 473.2v3.5 M463 473.2v3.5 M513.3 473.2v3.5 M304.1 453.8h-3.5 M304.1 422.5h-3.5 M304.1 391.2h-3.5 M304.1 359.9h-3.5 M304.1 328.6h-3.5 M304.1 297.3h-3.5" stroke="#000" stroke-width="1.1" fill="none"/>
<g font-family='"Liberation Sans", Arial, sans-serif' font-size="11" fill="#000" stroke="#000" stroke-width="0.2" text-anchor="middle">
<text x="311.9" y="491.2">0</text>
<text x="362.3" y="491.2">1</text>
<text x="412.6" y="491.2">2</text>
<text x="463" y="491.2">3</text>
<text x="513.3" y="491.2">4</text>
<text transform="translate(295.6,453.8) rotate(-90)">0.5</text>
<text transform="translate(295.6,422.5) rotate(-90)">1.0</text>
<text transform="translate(295.6,391.2) rotate(-90)">1.5</text>
<text transform="translate(295.6,359.9) rotate(-90)">2.0</text>
<text transform="translate(295.6,328.6) rotate(-90)">2.5</text>
<text transform="translate(295.6,297.3) rotate(-90)">3.0</text>
<text transform="translate(280.5,372.6) rotate(-90)">SD</text>
<text x="411.3" y="505.0">Absolute Difference from Median</text>
<text x="411.3" y="266.5" font-weight="bold" font-size="13" word-spacing="1.5">Valence Strength</text>
</g>
</svg></body></html>
